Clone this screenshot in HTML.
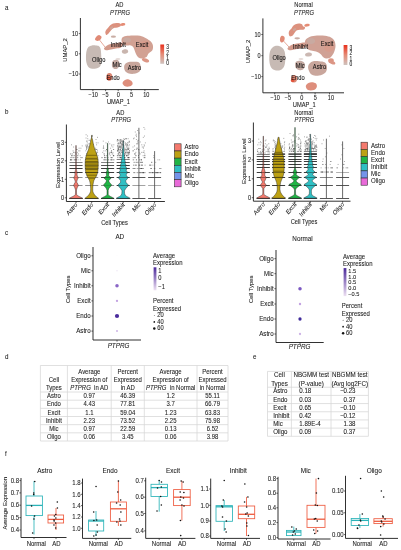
<!DOCTYPE html>
<html><head><meta charset="utf-8"><style>
html,body{margin:0;padding:0;background:#fff;}
svg{display:block;font-family:"Liberation Sans", sans-serif;filter:blur(0.3px);}
text{stroke:#1c1c1c;stroke-width:0.08px;}
</style></head><body>
<svg xmlns="http://www.w3.org/2000/svg" width="401" height="550" viewBox="0 0 401 550">
<rect width="401" height="550" fill="#fff"/>
<defs><linearGradient id="umapgrad" x1="0" y1="0" x2="0" y2="1"><stop offset="0" stop-color="#e8301c"/><stop offset="0.5" stop-color="#e58b76"/><stop offset="1" stop-color="#cfc3bf"/></linearGradient><linearGradient id="dotgrad" x1="0" y1="0" x2="0" y2="1"><stop offset="0" stop-color="#4b2a9a"/><stop offset="1" stop-color="#ede0f2"/></linearGradient></defs>
<text transform="translate(5.00 9.60) scale(0.820 1)" font-size="7.60" text-anchor="start" fill="#1c1c1c" >a</text>
<text transform="translate(5.00 113.80) scale(0.820 1)" font-size="7.60" text-anchor="start" fill="#1c1c1c" >b</text>
<text transform="translate(5.00 235.00) scale(0.820 1)" font-size="7.60" text-anchor="start" fill="#1c1c1c" >c</text>
<text transform="translate(5.00 358.70) scale(0.820 1)" font-size="7.60" text-anchor="start" fill="#1c1c1c" >d</text>
<text transform="translate(253.00 358.80) scale(0.820 1)" font-size="7.60" text-anchor="start" fill="#1c1c1c" >e</text>
<text transform="translate(5.00 455.60) scale(0.820 1)" font-size="7.60" text-anchor="start" fill="#1c1c1c" >f</text>
<text transform="translate(119.50 6.50) scale(0.820 1)" font-size="7.02" text-anchor="middle" fill="#1c1c1c" >AD</text>
<text transform="translate(120.00 15.30) scale(0.820 1)" font-size="7.02" text-anchor="middle" font-style="italic" fill="#1c1c1c" >PTPRG</text>
<g transform="translate(0 0)">
<path d="M88.50,46.80 C89.37,46.03 90.75,45.60 92.00,45.40 C93.25,45.20 94.83,45.47 96.00,45.60 C97.17,45.73 98.23,45.63 99.00,46.20 C99.77,46.77 100.23,47.53 100.60,49.00 C100.97,50.47 101.10,52.83 101.20,55.00 C101.30,57.17 101.40,60.08 101.20,62.00 C101.00,63.92 100.87,65.40 100.00,66.50 C99.13,67.60 97.50,68.25 96.00,68.60 C94.50,68.95 92.33,68.95 91.00,68.60 C89.67,68.25 88.78,67.60 88.00,66.50 C87.22,65.40 86.63,63.92 86.30,62.00 C85.97,60.08 85.92,57.00 86.00,55.00 C86.08,53.00 86.38,51.37 86.80,50.00 C87.22,48.63 87.63,47.57 88.50,46.80Z" fill="#c7bab4" opacity="1"/>
<path d="M106.00,34.80 C105.72,34.33 105.22,32.88 105.30,32.00 C105.38,31.12 105.97,30.30 106.50,29.50 C107.03,28.70 107.83,27.95 108.50,27.20 C109.17,26.45 109.75,25.63 110.50,25.00 C111.25,24.37 112.00,23.75 113.00,23.40 C114.00,23.05 115.42,22.92 116.50,22.90 C117.58,22.88 118.75,22.98 119.50,23.30 C120.25,23.62 120.92,24.25 121.00,24.80 C121.08,25.35 120.58,26.17 120.00,26.60 C119.42,27.03 118.42,27.20 117.50,27.40 C116.58,27.60 115.33,27.57 114.50,27.80 C113.67,28.03 113.17,28.27 112.50,28.80 C111.83,29.33 111.17,30.22 110.50,31.00 C109.83,31.78 109.08,32.87 108.50,33.50 C107.92,34.13 107.42,34.58 107.00,34.80 C106.58,35.02 106.28,35.27 106.00,34.80Z" fill="#dc917e" opacity="1"/>
<ellipse cx="122.8" cy="24.4" rx="2.6" ry="1.4" fill="#e58c75" opacity="1" transform="rotate(-10 122.8 24.4)"/>
<ellipse cx="111.5" cy="28" rx="2.0" ry="1.2" fill="#c9aca2" opacity="0.7" transform="rotate(-40 111.5 28)"/>
<ellipse cx="113.4" cy="36.7" rx="2.6" ry="1.1" fill="#c9ada4" opacity="1" transform="rotate(0 113.4 36.7)"/>
<path d="M95.00,39.50 C94.83,38.75 95.83,37.25 96.50,36.50 C97.17,35.75 98.17,34.95 99.00,35.00 C99.83,35.05 101.25,36.05 101.50,36.80 C101.75,37.55 101.17,38.80 100.50,39.50 C99.83,40.20 98.42,41.00 97.50,41.00 C96.58,41.00 95.17,40.25 95.00,39.50Z" fill="#e08a76" opacity="1"/>
<path d="M99.5,40 L105,47" stroke="#e3a090" stroke-width="0.9"/>
<path d="M104.00,48.50 C104.17,47.72 105.83,46.25 107.00,45.50 C108.17,44.75 109.50,44.38 111.00,44.00 C112.50,43.62 114.33,43.45 116.00,43.20 C117.67,42.95 119.83,42.28 121.00,42.50 C122.17,42.72 123.00,43.67 123.00,44.50 C123.00,45.33 122.17,46.83 121.00,47.50 C119.83,48.17 117.67,48.17 116.00,48.50 C114.33,48.83 112.67,49.22 111.00,49.50 C109.33,49.78 107.17,50.37 106.00,50.20 C104.83,50.03 103.83,49.28 104.00,48.50Z" fill="#d39a8b" opacity="1"/>
<path d="M122.00,38.00 C122.70,37.00 124.17,36.43 126.00,36.00 C127.83,35.57 130.67,35.43 133.00,35.40 C135.33,35.37 137.83,35.32 140.00,35.80 C142.17,36.28 144.17,37.30 146.00,38.30 C147.83,39.30 149.83,40.52 151.00,41.80 C152.17,43.08 152.80,44.55 153.00,46.00 C153.20,47.45 152.95,49.25 152.20,50.50 C151.45,51.75 149.45,52.42 148.50,53.50 C147.55,54.58 147.58,56.17 146.50,57.00 C145.42,57.83 143.33,58.42 142.00,58.50 C140.67,58.58 139.50,58.25 138.50,57.50 C137.50,56.75 136.67,55.25 136.00,54.00 C135.33,52.75 135.00,51.20 134.50,50.00 C134.00,48.80 133.75,47.58 133.00,46.80 C132.25,46.02 131.08,45.52 130.00,45.30 C128.92,45.08 127.58,45.58 126.50,45.50 C125.42,45.42 124.28,45.38 123.50,44.80 C122.72,44.22 122.05,43.13 121.80,42.00 C121.55,40.87 121.30,39.00 122.00,38.00Z" fill="#d2a193" opacity="1"/>
<ellipse cx="145" cy="45" rx="5" ry="4" fill="#dc9a88" opacity="0.6" transform="rotate(0 145 45)"/>
<ellipse cx="127" cy="40" rx="4" ry="2.6" fill="#c6aea6" opacity="0.7" transform="rotate(0 127 40)"/>
<ellipse cx="125" cy="51.5" rx="3.2" ry="2.2" fill="#c9b5ae" opacity="1" transform="rotate(-10 125 51.5)"/>
<ellipse cx="118" cy="59" rx="2.5" ry="0.8" fill="#dccdc8" opacity="1" transform="rotate(0 118 59)"/>
<path d="M112.50,61.50 C113.08,60.47 114.45,59.88 115.50,59.80 C116.55,59.72 118.13,60.13 118.80,61.00 C119.47,61.87 119.72,63.75 119.50,65.00 C119.28,66.25 118.42,67.87 117.50,68.50 C116.58,69.13 114.92,69.22 114.00,68.80 C113.08,68.38 112.25,67.22 112.00,66.00 C111.75,64.78 111.92,62.53 112.50,61.50Z" fill="#c4aaa2" opacity="1"/>
<path d="M124.50,65.00 C125.07,63.70 126.42,62.73 128.00,62.20 C129.58,61.67 132.17,61.75 134.00,61.80 C135.83,61.85 137.90,61.72 139.00,62.50 C140.10,63.28 140.52,65.00 140.60,66.50 C140.68,68.00 140.60,70.28 139.50,71.50 C138.40,72.72 135.92,73.52 134.00,73.80 C132.08,74.08 129.57,73.83 128.00,73.20 C126.43,72.57 125.18,71.37 124.60,70.00 C124.02,68.63 123.93,66.30 124.50,65.00Z" fill="#c9a69c" opacity="1"/>
<ellipse cx="109.4" cy="76.8" rx="3.0" ry="3.9" fill="#d88572" opacity="1" transform="rotate(0 109.4 76.8)"/>
<ellipse cx="108.6" cy="78.2" rx="2.0" ry="2.0" fill="#e2553c" opacity="1" transform="rotate(0 108.6 78.2)"/>
<path d="M122.50,83.00 C122.50,81.95 124.08,80.63 125.00,80.00 C125.92,79.37 126.92,79.03 128.00,79.20 C129.08,79.37 130.73,80.20 131.50,81.00 C132.27,81.80 132.85,83.12 132.60,84.00 C132.35,84.88 131.27,85.92 130.00,86.30 C128.73,86.68 126.25,86.85 125.00,86.30 C123.75,85.75 122.50,84.05 122.50,83.00Z" fill="#de8e7c" opacity="1"/>
<ellipse cx="145.5" cy="60.3" rx="3.8" ry="1.8" fill="#dc9685" opacity="1" transform="rotate(20 145.5 60.3)"/>
</g>
<text transform="translate(92.00 62.00) scale(0.820 1)" font-size="7.02" text-anchor="start" fill="#111" >Oligo</text>
<text transform="translate(110.60 46.80) scale(0.820 1)" font-size="7.02" text-anchor="start" fill="#111" >Inhibit</text>
<text transform="translate(135.80 46.80) scale(0.820 1)" font-size="7.02" text-anchor="start" fill="#111" >Excit</text>
<text transform="translate(112.60 67.20) scale(0.820 1)" font-size="7.02" text-anchor="start" fill="#111" >Mic</text>
<text transform="translate(127.80 70.00) scale(0.820 1)" font-size="7.02" text-anchor="start" fill="#111" >Astro</text>
<text transform="translate(106.40 80.20) scale(0.820 1)" font-size="7.02" text-anchor="start" fill="#111" >Endo</text>
<line x1="80.40" y1="18.00" x2="80.40" y2="89.60" stroke="#1a1a1a" stroke-width="0.9" />
<line x1="80.40" y1="89.60" x2="158.80" y2="89.60" stroke="#1a1a1a" stroke-width="0.9" />
<line x1="78.80" y1="33.60" x2="80.40" y2="33.60" stroke="#222" stroke-width="0.7" />
<text transform="translate(78.20 35.80) scale(0.860 1)" font-size="6.43" text-anchor="end" fill="#1c1c1c" >10</text>
<line x1="78.80" y1="53.80" x2="80.40" y2="53.80" stroke="#222" stroke-width="0.7" />
<text transform="translate(78.20 56.00) scale(0.860 1)" font-size="6.43" text-anchor="end" fill="#1c1c1c" >0</text>
<line x1="78.80" y1="74.00" x2="80.40" y2="74.00" stroke="#222" stroke-width="0.7" />
<text transform="translate(78.20 76.20) scale(0.860 1)" font-size="6.43" text-anchor="end" fill="#1c1c1c" >−10</text>
<line x1="92.90" y1="89.60" x2="92.90" y2="91.20" stroke="#222" stroke-width="0.7" />
<text transform="translate(93.10 97.20) scale(0.860 1)" font-size="6.43" text-anchor="middle" fill="#1c1c1c" >−10</text>
<line x1="105.60" y1="89.60" x2="105.60" y2="91.20" stroke="#222" stroke-width="0.7" />
<text transform="translate(105.50 97.20) scale(0.860 1)" font-size="6.43" text-anchor="middle" fill="#1c1c1c" >−5</text>
<line x1="118.20" y1="89.60" x2="118.20" y2="91.20" stroke="#222" stroke-width="0.7" />
<text transform="translate(118.30 97.20) scale(0.860 1)" font-size="6.43" text-anchor="middle" fill="#1c1c1c" >0</text>
<line x1="131.20" y1="89.60" x2="131.20" y2="91.20" stroke="#222" stroke-width="0.7" />
<text transform="translate(131.50 97.20) scale(0.860 1)" font-size="6.43" text-anchor="middle" fill="#1c1c1c" >5</text>
<line x1="144.90" y1="89.60" x2="144.90" y2="91.20" stroke="#222" stroke-width="0.7" />
<text transform="translate(146.20 97.20) scale(0.860 1)" font-size="6.43" text-anchor="middle" fill="#1c1c1c" >10</text>
<text x="0" y="0" font-size="5.88" text-anchor="middle" fill="#1c1c1c" transform="translate(67.40 50.00) rotate(-90) scale(1 0.87)">UMAP_2</text>
<text transform="translate(118.40 104.20) scale(0.820 1)" font-size="7.02" text-anchor="middle" fill="#1c1c1c" >UMAP_1</text>
<rect x="160.3" y="44.5" width="3.8" height="19.299999999999997" fill="url(#umapgrad)"/>
<text transform="translate(166.30 49.40) scale(0.780 1)" font-size="6.32" text-anchor="start" fill="#1c1c1c" >3</text>
<text transform="translate(166.30 54.70) scale(0.780 1)" font-size="6.32" text-anchor="start" fill="#1c1c1c" >2</text>
<text transform="translate(166.30 60.00) scale(0.780 1)" font-size="6.32" text-anchor="start" fill="#1c1c1c" >1</text>
<text transform="translate(166.30 65.30) scale(0.780 1)" font-size="6.32" text-anchor="start" fill="#1c1c1c" >0</text>
<text transform="translate(303.50 6.50) scale(0.820 1)" font-size="7.02" text-anchor="middle" fill="#1c1c1c" >Normal</text>
<text transform="translate(304.00 15.30) scale(0.820 1)" font-size="7.02" text-anchor="middle" font-style="italic" fill="#1c1c1c" >PTPRG</text>
<g transform="translate(0 0)">
<path d="M275.00,46.00 C276.17,45.67 277.75,45.67 279.00,46.00 C280.25,46.33 281.57,47.08 282.50,48.00 C283.43,48.92 284.13,50.00 284.60,51.50 C285.07,53.00 285.23,55.08 285.30,57.00 C285.37,58.92 285.30,61.25 285.00,63.00 C284.70,64.75 284.33,66.30 283.50,67.50 C282.67,68.70 281.42,69.75 280.00,70.20 C278.58,70.65 276.42,70.57 275.00,70.20 C273.58,69.83 272.40,69.20 271.50,68.00 C270.60,66.80 269.97,64.83 269.60,63.00 C269.23,61.17 269.23,58.92 269.30,57.00 C269.37,55.08 269.55,53.00 270.00,51.50 C270.45,50.00 271.17,48.92 272.00,48.00 C272.83,47.08 273.83,46.33 275.00,46.00Z" fill="#c7bab4" opacity="1"/>
<path d="M289.50,36.00 C289.12,35.45 288.70,33.92 288.70,33.00 C288.70,32.08 289.03,31.25 289.50,30.50 C289.97,29.75 290.92,29.25 291.50,28.50 C292.08,27.75 292.33,26.72 293.00,26.00 C293.67,25.28 294.50,24.60 295.50,24.20 C296.50,23.80 297.92,23.58 299.00,23.60 C300.08,23.62 301.33,23.85 302.00,24.30 C302.67,24.75 302.50,25.80 303.00,26.30 C303.50,26.80 304.83,26.77 305.00,27.30 C305.17,27.83 304.83,29.08 304.00,29.50 C303.17,29.92 301.17,29.67 300.00,29.80 C298.83,29.93 297.83,29.90 297.00,30.30 C296.17,30.70 295.67,31.38 295.00,32.20 C294.33,33.02 293.67,34.52 293.00,35.20 C292.33,35.88 291.58,36.17 291.00,36.30 C290.42,36.43 289.88,36.55 289.50,36.00Z" fill="#dc917e" opacity="1"/>
<ellipse cx="307" cy="25.2" rx="2.8" ry="1.4" fill="#e58c75" opacity="1" transform="rotate(-10 307 25.2)"/>
<ellipse cx="294.5" cy="29.5" rx="1.8" ry="1.2" fill="#c9aca2" opacity="0.7" transform="rotate(-40 294.5 29.5)"/>
<ellipse cx="297.2" cy="38.3" rx="2.8" ry="1.1" fill="#c9ada4" opacity="1" transform="rotate(0 297.2 38.3)"/>
<path d="M280.00,40.50 C279.83,39.58 280.08,37.78 280.50,37.00 C280.92,36.22 281.82,35.72 282.50,35.80 C283.18,35.88 284.35,36.63 284.60,37.50 C284.85,38.37 284.52,40.17 284.00,41.00 C283.48,41.83 282.17,42.58 281.50,42.50 C280.83,42.42 280.17,41.42 280.00,40.50Z" fill="#e08a76" opacity="1"/>
<path d="M283.5,41 L289,47" stroke="#e3a090" stroke-width="0.9"/>
<path d="M287.50,48.50 C287.67,47.72 289.33,46.25 290.50,45.50 C291.67,44.75 293.00,44.38 294.50,44.00 C296.00,43.62 297.83,43.45 299.50,43.20 C301.17,42.95 303.33,42.28 304.50,42.50 C305.67,42.72 306.50,43.67 306.50,44.50 C306.50,45.33 305.67,46.83 304.50,47.50 C303.33,48.17 301.17,48.17 299.50,48.50 C297.83,48.83 296.17,49.22 294.50,49.50 C292.83,49.78 290.67,50.37 289.50,50.20 C288.33,50.03 287.33,49.28 287.50,48.50Z" fill="#d39a8b" opacity="1"/>
<path d="M305.50,40.00 C306.33,38.80 308.08,37.53 310.00,36.80 C311.92,36.07 314.50,35.77 317.00,35.60 C319.50,35.43 322.67,35.48 325.00,35.80 C327.33,36.12 329.42,36.63 331.00,37.50 C332.58,38.37 333.75,39.58 334.50,41.00 C335.25,42.42 335.50,44.33 335.50,46.00 C335.50,47.67 335.00,49.50 334.50,51.00 C334.00,52.50 333.25,53.87 332.50,55.00 C331.75,56.13 331.08,57.22 330.00,57.80 C328.92,58.38 327.17,58.63 326.00,58.50 C324.83,58.37 323.92,57.75 323.00,57.00 C322.08,56.25 321.67,54.92 320.50,54.00 C319.33,53.08 317.58,52.08 316.00,51.50 C314.42,50.92 312.50,51.00 311.00,50.50 C309.50,50.00 308.00,49.58 307.00,48.50 C306.00,47.42 305.25,45.42 305.00,44.00 C304.75,42.58 304.67,41.20 305.50,40.00Z" fill="#d0a195" opacity="1"/>
<ellipse cx="331" cy="60.5" rx="2.8" ry="2.2" fill="#dc9482" opacity="1" transform="rotate(0 331 60.5)"/>
<ellipse cx="329" cy="47" rx="5" ry="5" fill="#dc9a88" opacity="0.6" transform="rotate(0 329 47)"/>
<ellipse cx="311" cy="41" rx="4" ry="3" fill="#c6aea6" opacity="0.7" transform="rotate(0 311 41)"/>
<ellipse cx="308.5" cy="54.5" rx="3.5" ry="2" fill="#cbb8b2" opacity="1" transform="rotate(-10 308.5 54.5)"/>
<ellipse cx="301" cy="59" rx="2.5" ry="0.8" fill="#dccdc8" opacity="1" transform="rotate(0 301 59)"/>
<path d="M295.50,62.50 C296.08,61.38 297.67,60.88 299.00,60.80 C300.33,60.72 302.50,61.22 303.50,62.00 C304.50,62.78 305.08,64.25 305.00,65.50 C304.92,66.75 304.00,68.75 303.00,69.50 C302.00,70.25 300.25,70.33 299.00,70.00 C297.75,69.67 296.08,68.75 295.50,67.50 C294.92,66.25 294.92,63.62 295.50,62.50Z" fill="#c4aaa2" opacity="1"/>
<path d="M308.50,65.00 C309.15,63.58 310.75,62.13 312.50,61.50 C314.25,60.87 316.92,61.03 319.00,61.20 C321.08,61.37 323.67,61.53 325.00,62.50 C326.33,63.47 326.92,65.33 327.00,67.00 C327.08,68.67 326.83,71.07 325.50,72.50 C324.17,73.93 321.25,75.22 319.00,75.60 C316.75,75.98 313.73,75.73 312.00,74.80 C310.27,73.87 309.18,71.63 308.60,70.00 C308.02,68.37 307.85,66.42 308.50,65.00Z" fill="#c9a69c" opacity="1"/>
<ellipse cx="294" cy="78.8" rx="3.0" ry="3.8" fill="#d88572" opacity="1" transform="rotate(0 294 78.8)"/>
<ellipse cx="292.6" cy="80.5" rx="1.8" ry="1.8" fill="#e2553c" opacity="1" transform="rotate(0 292.6 80.5)"/>
<path d="M305.80,86.00 C305.88,84.83 307.47,83.63 308.50,83.00 C309.53,82.37 310.75,82.12 312.00,82.20 C313.25,82.28 315.20,82.70 316.00,83.50 C316.80,84.30 317.13,85.92 316.80,87.00 C316.47,88.08 315.47,89.50 314.00,90.00 C312.53,90.50 309.37,90.67 308.00,90.00 C306.63,89.33 305.72,87.17 305.80,86.00Z" fill="#de8e7c" opacity="1"/>
<ellipse cx="332" cy="62.5" rx="3.5" ry="1.6" fill="#dc9685" opacity="1" transform="rotate(20 332 62.5)"/>
</g>
<text transform="translate(272.40 60.00) scale(0.820 1)" font-size="7.02" text-anchor="start" fill="#111" >Oligo</text>
<text transform="translate(292.80 48.60) scale(0.820 1)" font-size="7.02" text-anchor="start" fill="#111" >Inhibit</text>
<text transform="translate(320.80 46.30) scale(0.820 1)" font-size="7.02" text-anchor="start" fill="#111" >Excit</text>
<text transform="translate(295.80 67.60) scale(0.820 1)" font-size="7.02" text-anchor="start" fill="#111" >Mic</text>
<text transform="translate(312.80 69.00) scale(0.820 1)" font-size="7.02" text-anchor="start" fill="#111" >Astro</text>
<text transform="translate(291.20 80.20) scale(0.820 1)" font-size="7.02" text-anchor="start" fill="#111" >Endo</text>
<line x1="262.90" y1="18.40" x2="262.90" y2="92.80" stroke="#1a1a1a" stroke-width="0.9" />
<line x1="262.90" y1="92.80" x2="344.00" y2="92.80" stroke="#1a1a1a" stroke-width="0.9" />
<line x1="261.30" y1="34.50" x2="262.90" y2="34.50" stroke="#222" stroke-width="0.7" />
<text transform="translate(260.70 36.70) scale(0.860 1)" font-size="6.43" text-anchor="end" fill="#1c1c1c" >10</text>
<line x1="261.30" y1="55.70" x2="262.90" y2="55.70" stroke="#222" stroke-width="0.7" />
<text transform="translate(260.70 57.90) scale(0.860 1)" font-size="6.43" text-anchor="end" fill="#1c1c1c" >0</text>
<line x1="261.30" y1="76.60" x2="262.90" y2="76.60" stroke="#222" stroke-width="0.7" />
<text transform="translate(260.70 78.80) scale(0.860 1)" font-size="6.43" text-anchor="end" fill="#1c1c1c" >−10</text>
<line x1="274.70" y1="92.80" x2="274.70" y2="94.40" stroke="#222" stroke-width="0.7" />
<text transform="translate(275.10 100.40) scale(0.860 1)" font-size="6.43" text-anchor="middle" fill="#1c1c1c" >−10</text>
<line x1="288.40" y1="92.80" x2="288.40" y2="94.40" stroke="#222" stroke-width="0.7" />
<text transform="translate(287.90 100.40) scale(0.860 1)" font-size="6.43" text-anchor="middle" fill="#1c1c1c" >−5</text>
<line x1="301.80" y1="92.80" x2="301.80" y2="94.40" stroke="#222" stroke-width="0.7" />
<text transform="translate(301.90 100.40) scale(0.860 1)" font-size="6.43" text-anchor="middle" fill="#1c1c1c" >0</text>
<line x1="315.10" y1="92.80" x2="315.10" y2="94.40" stroke="#222" stroke-width="0.7" />
<text transform="translate(315.20 100.40) scale(0.860 1)" font-size="6.43" text-anchor="middle" fill="#1c1c1c" >5</text>
<line x1="329.50" y1="92.80" x2="329.50" y2="94.40" stroke="#222" stroke-width="0.7" />
<text transform="translate(330.90 100.40) scale(0.860 1)" font-size="6.43" text-anchor="middle" fill="#1c1c1c" >10</text>
<text x="0" y="0" font-size="5.88" text-anchor="middle" fill="#1c1c1c" transform="translate(249.50 51.40) rotate(-90) scale(1 0.87)">UMAP_2</text>
<text transform="translate(304.30 106.60) scale(0.820 1)" font-size="7.02" text-anchor="middle" fill="#1c1c1c" >UMAP_1</text>
<rect x="343.6" y="45" width="3.8" height="20" fill="url(#umapgrad)"/>
<text transform="translate(349.60 49.90) scale(0.780 1)" font-size="6.32" text-anchor="start" fill="#1c1c1c" >3</text>
<text transform="translate(349.60 55.20) scale(0.780 1)" font-size="6.32" text-anchor="start" fill="#1c1c1c" >2</text>
<text transform="translate(349.60 60.50) scale(0.780 1)" font-size="6.32" text-anchor="start" fill="#1c1c1c" >1</text>
<text transform="translate(349.60 65.80) scale(0.780 1)" font-size="6.32" text-anchor="start" fill="#1c1c1c" >0</text>
<text transform="translate(120.30 114.80) scale(0.820 1)" font-size="7.02" text-anchor="middle" fill="#1c1c1c" >AD</text>
<text transform="translate(121.10 121.60) scale(0.820 1)" font-size="7.02" text-anchor="middle" font-style="italic" fill="#1c1c1c" >PTPRG</text>
<line x1="69.50" y1="198.50" x2="82.50" y2="198.50" stroke="#1a1a1a" stroke-width="1" opacity="0.74"/>
<line x1="69.50" y1="185.50" x2="82.50" y2="185.50" stroke="#1a1a1a" stroke-width="1" opacity="0.3625"/>
<line x1="69.50" y1="177.50" x2="82.50" y2="177.50" stroke="#1a1a1a" stroke-width="1" opacity="0.3625"/>
<line x1="69.50" y1="172.50" x2="82.50" y2="172.50" stroke="#1a1a1a" stroke-width="1" opacity="0.74"/>
<line x1="69.50" y1="168.50" x2="82.50" y2="168.50" stroke="#1a1a1a" stroke-width="1" opacity="0.74"/>
<line x1="69.50" y1="165.50" x2="82.50" y2="165.50" stroke="#1a1a1a" stroke-width="1" opacity="0.5875"/>
<line x1="69.50" y1="162.50" x2="82.50" y2="162.50" stroke="#1a1a1a" stroke-width="1" opacity="0.4"/>
<rect x="73.62" y="159.38" width="0.9" height="0.9" fill="#333" opacity="0.5"/>
<rect x="71.47" y="159.38" width="0.9" height="0.9" fill="#333" opacity="0.5"/>
<rect x="77.67" y="159.38" width="0.9" height="0.9" fill="#333" opacity="0.5"/>
<rect x="70.50" y="159.38" width="0.9" height="0.9" fill="#333" opacity="0.5"/>
<rect x="76.24" y="159.38" width="0.9" height="0.9" fill="#333" opacity="0.5"/>
<rect x="74.13" y="159.38" width="0.9" height="0.9" fill="#333" opacity="0.5"/>
<rect x="70.32" y="159.38" width="0.9" height="0.9" fill="#333" opacity="0.5"/>
<rect x="75.89" y="159.38" width="0.9" height="0.9" fill="#333" opacity="0.5"/>
<rect x="70.06" y="159.38" width="0.9" height="0.9" fill="#333" opacity="0.5"/>
<rect x="74.98" y="159.38" width="0.9" height="0.9" fill="#333" opacity="0.5"/>
<rect x="70.47" y="159.38" width="0.9" height="0.9" fill="#333" opacity="0.5"/>
<rect x="70.72" y="159.38" width="0.9" height="0.9" fill="#333" opacity="0.5"/>
<rect x="74.86" y="159.38" width="0.9" height="0.9" fill="#333" opacity="0.5"/>
<rect x="79.85" y="159.38" width="0.9" height="0.9" fill="#333" opacity="0.5"/>
<rect x="71.14" y="157.20" width="0.9" height="0.9" fill="#333" opacity="0.5"/>
<rect x="72.37" y="157.20" width="0.9" height="0.9" fill="#333" opacity="0.5"/>
<rect x="77.38" y="157.20" width="0.9" height="0.9" fill="#333" opacity="0.5"/>
<rect x="81.35" y="157.20" width="0.9" height="0.9" fill="#333" opacity="0.5"/>
<rect x="76.76" y="157.20" width="0.9" height="0.9" fill="#333" opacity="0.5"/>
<rect x="74.52" y="157.20" width="0.9" height="0.9" fill="#333" opacity="0.5"/>
<rect x="81.71" y="157.20" width="0.9" height="0.9" fill="#333" opacity="0.5"/>
<rect x="70.18" y="157.20" width="0.9" height="0.9" fill="#333" opacity="0.5"/>
<rect x="80.25" y="157.20" width="0.9" height="0.9" fill="#333" opacity="0.5"/>
<rect x="73.19" y="157.20" width="0.9" height="0.9" fill="#333" opacity="0.5"/>
<rect x="71.39" y="155.25" width="0.9" height="0.9" fill="#333" opacity="0.5"/>
<rect x="71.06" y="155.25" width="0.9" height="0.9" fill="#333" opacity="0.5"/>
<rect x="73.43" y="155.25" width="0.9" height="0.9" fill="#333" opacity="0.5"/>
<rect x="79.72" y="155.25" width="0.9" height="0.9" fill="#333" opacity="0.5"/>
<rect x="71.84" y="155.25" width="0.9" height="0.9" fill="#333" opacity="0.5"/>
<rect x="76.81" y="155.25" width="0.9" height="0.9" fill="#333" opacity="0.5"/>
<rect x="77.52" y="155.25" width="0.9" height="0.9" fill="#333" opacity="0.5"/>
<rect x="74.22" y="155.25" width="0.9" height="0.9" fill="#333" opacity="0.5"/>
<rect x="76.39" y="153.49" width="0.9" height="0.9" fill="#333" opacity="0.5"/>
<rect x="70.38" y="153.49" width="0.9" height="0.9" fill="#333" opacity="0.5"/>
<rect x="70.34" y="153.49" width="0.9" height="0.9" fill="#333" opacity="0.5"/>
<rect x="72.15" y="153.49" width="0.9" height="0.9" fill="#333" opacity="0.5"/>
<rect x="78.04" y="153.49" width="0.9" height="0.9" fill="#333" opacity="0.5"/>
<rect x="74.90" y="153.49" width="0.9" height="0.9" fill="#333" opacity="0.5"/>
<rect x="73.50" y="151.88" width="0.9" height="0.9" fill="#333" opacity="0.5"/>
<rect x="76.86" y="151.88" width="0.9" height="0.9" fill="#333" opacity="0.5"/>
<rect x="75.22" y="151.88" width="0.9" height="0.9" fill="#333" opacity="0.5"/>
<rect x="73.32" y="151.88" width="0.9" height="0.9" fill="#333" opacity="0.5"/>
<rect x="79.45" y="150.40" width="0.9" height="0.9" fill="#333" opacity="0.5"/>
<rect x="78.27" y="150.40" width="0.9" height="0.9" fill="#333" opacity="0.5"/>
<rect x="72.63" y="150.40" width="0.9" height="0.9" fill="#333" opacity="0.5"/>
<rect x="76.72" y="149.03" width="0.9" height="0.9" fill="#333" opacity="0.5"/>
<rect x="76.11" y="149.03" width="0.9" height="0.9" fill="#333" opacity="0.5"/>
<rect x="80.45" y="147.75" width="0.9" height="0.9" fill="#333" opacity="0.5"/>
<rect x="78.65" y="147.75" width="0.9" height="0.9" fill="#333" opacity="0.5"/>
<rect x="73.17" y="146.56" width="0.9" height="0.9" fill="#333" opacity="0.5"/>
<rect x="81.75" y="145.44" width="0.9" height="0.9" fill="#333" opacity="0.5"/>
<rect x="71.06" y="144.38" width="0.9" height="0.9" fill="#333" opacity="0.5"/>
<line x1="85.20" y1="198.50" x2="98.20" y2="198.50" stroke="#1a1a1a" stroke-width="1" opacity="0.74"/>
<line x1="85.20" y1="185.50" x2="98.20" y2="185.50" stroke="#1a1a1a" stroke-width="1" opacity="0.3625"/>
<line x1="85.20" y1="177.50" x2="98.20" y2="177.50" stroke="#1a1a1a" stroke-width="1" opacity="0.3625"/>
<line x1="85.20" y1="172.50" x2="98.20" y2="172.50" stroke="#1a1a1a" stroke-width="1" opacity="0.74"/>
<line x1="85.20" y1="168.50" x2="98.20" y2="168.50" stroke="#1a1a1a" stroke-width="1" opacity="0.74"/>
<line x1="85.20" y1="165.50" x2="98.20" y2="165.50" stroke="#1a1a1a" stroke-width="1" opacity="0.74"/>
<line x1="85.20" y1="162.50" x2="98.20" y2="162.50" stroke="#1a1a1a" stroke-width="1" opacity="0.5875"/>
<line x1="85.20" y1="159.50" x2="98.20" y2="159.50" stroke="#1a1a1a" stroke-width="1" opacity="0.4"/>
<rect x="90.48" y="157.20" width="0.9" height="0.9" fill="#333" opacity="0.5"/>
<rect x="94.69" y="157.20" width="0.9" height="0.9" fill="#333" opacity="0.5"/>
<rect x="87.18" y="157.20" width="0.9" height="0.9" fill="#333" opacity="0.5"/>
<rect x="91.36" y="157.20" width="0.9" height="0.9" fill="#333" opacity="0.5"/>
<rect x="85.79" y="157.20" width="0.9" height="0.9" fill="#333" opacity="0.5"/>
<rect x="93.59" y="157.20" width="0.9" height="0.9" fill="#333" opacity="0.5"/>
<rect x="94.78" y="157.20" width="0.9" height="0.9" fill="#333" opacity="0.5"/>
<rect x="92.41" y="157.20" width="0.9" height="0.9" fill="#333" opacity="0.5"/>
<rect x="96.16" y="157.20" width="0.9" height="0.9" fill="#333" opacity="0.5"/>
<rect x="89.19" y="157.20" width="0.9" height="0.9" fill="#333" opacity="0.5"/>
<rect x="93.92" y="157.20" width="0.9" height="0.9" fill="#333" opacity="0.5"/>
<rect x="92.67" y="157.20" width="0.9" height="0.9" fill="#333" opacity="0.5"/>
<rect x="92.49" y="157.20" width="0.9" height="0.9" fill="#333" opacity="0.5"/>
<rect x="90.96" y="157.20" width="0.9" height="0.9" fill="#333" opacity="0.5"/>
<rect x="95.72" y="157.20" width="0.9" height="0.9" fill="#333" opacity="0.5"/>
<rect x="97.01" y="157.20" width="0.9" height="0.9" fill="#333" opacity="0.5"/>
<rect x="91.18" y="155.25" width="0.9" height="0.9" fill="#333" opacity="0.5"/>
<rect x="93.54" y="155.25" width="0.9" height="0.9" fill="#333" opacity="0.5"/>
<rect x="86.05" y="155.25" width="0.9" height="0.9" fill="#333" opacity="0.5"/>
<rect x="94.00" y="155.25" width="0.9" height="0.9" fill="#333" opacity="0.5"/>
<rect x="93.32" y="155.25" width="0.9" height="0.9" fill="#333" opacity="0.5"/>
<rect x="97.61" y="155.25" width="0.9" height="0.9" fill="#333" opacity="0.5"/>
<rect x="95.49" y="155.25" width="0.9" height="0.9" fill="#333" opacity="0.5"/>
<rect x="88.83" y="155.25" width="0.9" height="0.9" fill="#333" opacity="0.5"/>
<rect x="90.08" y="155.25" width="0.9" height="0.9" fill="#333" opacity="0.5"/>
<rect x="93.59" y="155.25" width="0.9" height="0.9" fill="#333" opacity="0.5"/>
<rect x="85.58" y="155.25" width="0.9" height="0.9" fill="#333" opacity="0.5"/>
<rect x="91.03" y="155.25" width="0.9" height="0.9" fill="#333" opacity="0.5"/>
<rect x="87.38" y="155.25" width="0.9" height="0.9" fill="#333" opacity="0.5"/>
<rect x="86.75" y="155.25" width="0.9" height="0.9" fill="#333" opacity="0.5"/>
<rect x="86.03" y="153.49" width="0.9" height="0.9" fill="#333" opacity="0.5"/>
<rect x="94.83" y="153.49" width="0.9" height="0.9" fill="#333" opacity="0.5"/>
<rect x="86.90" y="153.49" width="0.9" height="0.9" fill="#333" opacity="0.5"/>
<rect x="88.37" y="153.49" width="0.9" height="0.9" fill="#333" opacity="0.5"/>
<rect x="90.15" y="153.49" width="0.9" height="0.9" fill="#333" opacity="0.5"/>
<rect x="96.11" y="153.49" width="0.9" height="0.9" fill="#333" opacity="0.5"/>
<rect x="86.30" y="153.49" width="0.9" height="0.9" fill="#333" opacity="0.5"/>
<rect x="90.87" y="153.49" width="0.9" height="0.9" fill="#333" opacity="0.5"/>
<rect x="92.11" y="153.49" width="0.9" height="0.9" fill="#333" opacity="0.5"/>
<rect x="96.25" y="153.49" width="0.9" height="0.9" fill="#333" opacity="0.5"/>
<rect x="95.46" y="153.49" width="0.9" height="0.9" fill="#333" opacity="0.5"/>
<rect x="96.01" y="153.49" width="0.9" height="0.9" fill="#333" opacity="0.5"/>
<rect x="88.75" y="151.88" width="0.9" height="0.9" fill="#333" opacity="0.5"/>
<rect x="90.45" y="151.88" width="0.9" height="0.9" fill="#333" opacity="0.5"/>
<rect x="89.75" y="151.88" width="0.9" height="0.9" fill="#333" opacity="0.5"/>
<rect x="96.26" y="151.88" width="0.9" height="0.9" fill="#333" opacity="0.5"/>
<rect x="97.18" y="151.88" width="0.9" height="0.9" fill="#333" opacity="0.5"/>
<rect x="87.17" y="151.88" width="0.9" height="0.9" fill="#333" opacity="0.5"/>
<rect x="87.49" y="151.88" width="0.9" height="0.9" fill="#333" opacity="0.5"/>
<rect x="88.18" y="151.88" width="0.9" height="0.9" fill="#333" opacity="0.5"/>
<rect x="88.19" y="151.88" width="0.9" height="0.9" fill="#333" opacity="0.5"/>
<rect x="91.31" y="151.88" width="0.9" height="0.9" fill="#333" opacity="0.5"/>
<rect x="92.61" y="150.40" width="0.9" height="0.9" fill="#333" opacity="0.5"/>
<rect x="88.56" y="150.40" width="0.9" height="0.9" fill="#333" opacity="0.5"/>
<rect x="85.35" y="150.40" width="0.9" height="0.9" fill="#333" opacity="0.5"/>
<rect x="90.49" y="150.40" width="0.9" height="0.9" fill="#333" opacity="0.5"/>
<rect x="89.88" y="150.40" width="0.9" height="0.9" fill="#333" opacity="0.5"/>
<rect x="92.32" y="150.40" width="0.9" height="0.9" fill="#333" opacity="0.5"/>
<rect x="97.12" y="150.40" width="0.9" height="0.9" fill="#333" opacity="0.5"/>
<rect x="93.86" y="150.40" width="0.9" height="0.9" fill="#333" opacity="0.5"/>
<rect x="91.69" y="149.03" width="0.9" height="0.9" fill="#333" opacity="0.5"/>
<rect x="92.96" y="149.03" width="0.9" height="0.9" fill="#333" opacity="0.5"/>
<rect x="93.68" y="149.03" width="0.9" height="0.9" fill="#333" opacity="0.5"/>
<rect x="85.97" y="149.03" width="0.9" height="0.9" fill="#333" opacity="0.5"/>
<rect x="96.45" y="149.03" width="0.9" height="0.9" fill="#333" opacity="0.5"/>
<rect x="94.97" y="149.03" width="0.9" height="0.9" fill="#333" opacity="0.5"/>
<rect x="96.14" y="149.03" width="0.9" height="0.9" fill="#333" opacity="0.5"/>
<rect x="95.19" y="147.75" width="0.9" height="0.9" fill="#333" opacity="0.5"/>
<rect x="90.17" y="147.75" width="0.9" height="0.9" fill="#333" opacity="0.5"/>
<rect x="90.25" y="147.75" width="0.9" height="0.9" fill="#333" opacity="0.5"/>
<rect x="86.58" y="147.75" width="0.9" height="0.9" fill="#333" opacity="0.5"/>
<rect x="93.17" y="147.75" width="0.9" height="0.9" fill="#333" opacity="0.5"/>
<rect x="86.07" y="147.75" width="0.9" height="0.9" fill="#333" opacity="0.5"/>
<rect x="86.14" y="146.56" width="0.9" height="0.9" fill="#333" opacity="0.5"/>
<rect x="87.89" y="146.56" width="0.9" height="0.9" fill="#333" opacity="0.5"/>
<rect x="87.31" y="146.56" width="0.9" height="0.9" fill="#333" opacity="0.5"/>
<rect x="89.52" y="146.56" width="0.9" height="0.9" fill="#333" opacity="0.5"/>
<rect x="85.95" y="146.56" width="0.9" height="0.9" fill="#333" opacity="0.5"/>
<rect x="85.30" y="145.44" width="0.9" height="0.9" fill="#333" opacity="0.5"/>
<rect x="87.18" y="145.44" width="0.9" height="0.9" fill="#333" opacity="0.5"/>
<rect x="86.56" y="145.44" width="0.9" height="0.9" fill="#333" opacity="0.5"/>
<rect x="89.81" y="145.44" width="0.9" height="0.9" fill="#333" opacity="0.5"/>
<rect x="85.62" y="144.38" width="0.9" height="0.9" fill="#333" opacity="0.5"/>
<rect x="96.14" y="144.38" width="0.9" height="0.9" fill="#333" opacity="0.5"/>
<rect x="92.91" y="144.38" width="0.9" height="0.9" fill="#333" opacity="0.5"/>
<rect x="87.14" y="144.38" width="0.9" height="0.9" fill="#333" opacity="0.5"/>
<rect x="88.43" y="143.38" width="0.9" height="0.9" fill="#333" opacity="0.5"/>
<rect x="89.61" y="143.38" width="0.9" height="0.9" fill="#333" opacity="0.5"/>
<rect x="89.82" y="143.38" width="0.9" height="0.9" fill="#333" opacity="0.5"/>
<rect x="86.82" y="142.43" width="0.9" height="0.9" fill="#333" opacity="0.5"/>
<rect x="95.83" y="142.43" width="0.9" height="0.9" fill="#333" opacity="0.5"/>
<rect x="97.61" y="142.43" width="0.9" height="0.9" fill="#333" opacity="0.5"/>
<rect x="91.08" y="141.53" width="0.9" height="0.9" fill="#333" opacity="0.5"/>
<rect x="91.30" y="141.53" width="0.9" height="0.9" fill="#333" opacity="0.5"/>
<rect x="86.36" y="140.67" width="0.9" height="0.9" fill="#333" opacity="0.5"/>
<rect x="86.57" y="140.67" width="0.9" height="0.9" fill="#333" opacity="0.5"/>
<rect x="89.55" y="139.84" width="0.9" height="0.9" fill="#333" opacity="0.5"/>
<rect x="88.58" y="139.84" width="0.9" height="0.9" fill="#333" opacity="0.5"/>
<rect x="95.58" y="139.06" width="0.9" height="0.9" fill="#333" opacity="0.5"/>
<rect x="87.30" y="138.30" width="0.9" height="0.9" fill="#333" opacity="0.5"/>
<rect x="85.59" y="137.58" width="0.9" height="0.9" fill="#333" opacity="0.5"/>
<rect x="97.09" y="136.88" width="0.9" height="0.9" fill="#333" opacity="0.5"/>
<rect x="91.85" y="136.20" width="0.9" height="0.9" fill="#333" opacity="0.5"/>
<rect x="87.12" y="135.56" width="0.9" height="0.9" fill="#333" opacity="0.5"/>
<rect x="92.04" y="134.93" width="0.9" height="0.9" fill="#333" opacity="0.5"/>
<rect x="85.64" y="134.32" width="0.9" height="0.9" fill="#333" opacity="0.5"/>
<line x1="101.10" y1="198.50" x2="114.10" y2="198.50" stroke="#1a1a1a" stroke-width="1" opacity="0.74"/>
<line x1="101.10" y1="185.50" x2="114.10" y2="185.50" stroke="#1a1a1a" stroke-width="1" opacity="0.3625"/>
<line x1="101.10" y1="177.50" x2="114.10" y2="177.50" stroke="#1a1a1a" stroke-width="1" opacity="0.74"/>
<line x1="101.10" y1="172.50" x2="114.10" y2="172.50" stroke="#1a1a1a" stroke-width="1" opacity="0.74"/>
<line x1="101.10" y1="168.50" x2="114.10" y2="168.50" stroke="#1a1a1a" stroke-width="1" opacity="0.74"/>
<line x1="101.10" y1="165.50" x2="114.10" y2="165.50" stroke="#1a1a1a" stroke-width="1" opacity="0.5875"/>
<line x1="101.10" y1="162.50" x2="114.10" y2="162.50" stroke="#1a1a1a" stroke-width="1" opacity="0.4"/>
<rect x="107.75" y="159.38" width="0.9" height="0.9" fill="#333" opacity="0.5"/>
<rect x="113.33" y="159.38" width="0.9" height="0.9" fill="#333" opacity="0.5"/>
<rect x="111.91" y="159.38" width="0.9" height="0.9" fill="#333" opacity="0.5"/>
<rect x="109.83" y="159.38" width="0.9" height="0.9" fill="#333" opacity="0.5"/>
<rect x="104.44" y="159.38" width="0.9" height="0.9" fill="#333" opacity="0.5"/>
<rect x="105.75" y="159.38" width="0.9" height="0.9" fill="#333" opacity="0.5"/>
<rect x="103.27" y="159.38" width="0.9" height="0.9" fill="#333" opacity="0.5"/>
<rect x="110.77" y="159.38" width="0.9" height="0.9" fill="#333" opacity="0.5"/>
<rect x="107.80" y="159.38" width="0.9" height="0.9" fill="#333" opacity="0.5"/>
<rect x="110.86" y="159.38" width="0.9" height="0.9" fill="#333" opacity="0.5"/>
<rect x="105.29" y="159.38" width="0.9" height="0.9" fill="#333" opacity="0.5"/>
<rect x="103.97" y="159.38" width="0.9" height="0.9" fill="#333" opacity="0.5"/>
<rect x="111.26" y="159.38" width="0.9" height="0.9" fill="#333" opacity="0.5"/>
<rect x="113.41" y="159.38" width="0.9" height="0.9" fill="#333" opacity="0.5"/>
<rect x="111.77" y="157.20" width="0.9" height="0.9" fill="#333" opacity="0.5"/>
<rect x="111.20" y="157.20" width="0.9" height="0.9" fill="#333" opacity="0.5"/>
<rect x="111.35" y="157.20" width="0.9" height="0.9" fill="#333" opacity="0.5"/>
<rect x="110.37" y="157.20" width="0.9" height="0.9" fill="#333" opacity="0.5"/>
<rect x="104.01" y="157.20" width="0.9" height="0.9" fill="#333" opacity="0.5"/>
<rect x="107.62" y="157.20" width="0.9" height="0.9" fill="#333" opacity="0.5"/>
<rect x="105.61" y="157.20" width="0.9" height="0.9" fill="#333" opacity="0.5"/>
<rect x="101.56" y="157.20" width="0.9" height="0.9" fill="#333" opacity="0.5"/>
<rect x="101.55" y="157.20" width="0.9" height="0.9" fill="#333" opacity="0.5"/>
<rect x="104.66" y="157.20" width="0.9" height="0.9" fill="#333" opacity="0.5"/>
<rect x="104.41" y="157.20" width="0.9" height="0.9" fill="#333" opacity="0.5"/>
<rect x="109.79" y="155.25" width="0.9" height="0.9" fill="#333" opacity="0.5"/>
<rect x="113.06" y="155.25" width="0.9" height="0.9" fill="#333" opacity="0.5"/>
<rect x="106.75" y="155.25" width="0.9" height="0.9" fill="#333" opacity="0.5"/>
<rect x="112.82" y="155.25" width="0.9" height="0.9" fill="#333" opacity="0.5"/>
<rect x="113.45" y="155.25" width="0.9" height="0.9" fill="#333" opacity="0.5"/>
<rect x="113.04" y="155.25" width="0.9" height="0.9" fill="#333" opacity="0.5"/>
<rect x="105.72" y="155.25" width="0.9" height="0.9" fill="#333" opacity="0.5"/>
<rect x="103.93" y="155.25" width="0.9" height="0.9" fill="#333" opacity="0.5"/>
<rect x="104.01" y="155.25" width="0.9" height="0.9" fill="#333" opacity="0.5"/>
<rect x="103.64" y="153.49" width="0.9" height="0.9" fill="#333" opacity="0.5"/>
<rect x="103.73" y="153.49" width="0.9" height="0.9" fill="#333" opacity="0.5"/>
<rect x="108.94" y="153.49" width="0.9" height="0.9" fill="#333" opacity="0.5"/>
<rect x="112.36" y="153.49" width="0.9" height="0.9" fill="#333" opacity="0.5"/>
<rect x="111.62" y="153.49" width="0.9" height="0.9" fill="#333" opacity="0.5"/>
<rect x="107.15" y="153.49" width="0.9" height="0.9" fill="#333" opacity="0.5"/>
<rect x="109.30" y="153.49" width="0.9" height="0.9" fill="#333" opacity="0.5"/>
<rect x="111.12" y="151.88" width="0.9" height="0.9" fill="#333" opacity="0.5"/>
<rect x="102.25" y="151.88" width="0.9" height="0.9" fill="#333" opacity="0.5"/>
<rect x="109.39" y="151.88" width="0.9" height="0.9" fill="#333" opacity="0.5"/>
<rect x="112.48" y="151.88" width="0.9" height="0.9" fill="#333" opacity="0.5"/>
<rect x="110.90" y="151.88" width="0.9" height="0.9" fill="#333" opacity="0.5"/>
<rect x="110.50" y="151.88" width="0.9" height="0.9" fill="#333" opacity="0.5"/>
<rect x="107.13" y="150.40" width="0.9" height="0.9" fill="#333" opacity="0.5"/>
<rect x="103.41" y="150.40" width="0.9" height="0.9" fill="#333" opacity="0.5"/>
<rect x="110.99" y="150.40" width="0.9" height="0.9" fill="#333" opacity="0.5"/>
<rect x="105.32" y="150.40" width="0.9" height="0.9" fill="#333" opacity="0.5"/>
<rect x="111.13" y="150.40" width="0.9" height="0.9" fill="#333" opacity="0.5"/>
<rect x="113.25" y="149.03" width="0.9" height="0.9" fill="#333" opacity="0.5"/>
<rect x="106.11" y="149.03" width="0.9" height="0.9" fill="#333" opacity="0.5"/>
<rect x="106.18" y="149.03" width="0.9" height="0.9" fill="#333" opacity="0.5"/>
<rect x="112.94" y="149.03" width="0.9" height="0.9" fill="#333" opacity="0.5"/>
<rect x="110.19" y="147.75" width="0.9" height="0.9" fill="#333" opacity="0.5"/>
<rect x="103.31" y="147.75" width="0.9" height="0.9" fill="#333" opacity="0.5"/>
<rect x="102.78" y="147.75" width="0.9" height="0.9" fill="#333" opacity="0.5"/>
<rect x="103.07" y="146.56" width="0.9" height="0.9" fill="#333" opacity="0.5"/>
<rect x="112.42" y="146.56" width="0.9" height="0.9" fill="#333" opacity="0.5"/>
<rect x="111.20" y="145.44" width="0.9" height="0.9" fill="#333" opacity="0.5"/>
<rect x="103.01" y="145.44" width="0.9" height="0.9" fill="#333" opacity="0.5"/>
<rect x="111.45" y="144.38" width="0.9" height="0.9" fill="#333" opacity="0.5"/>
<rect x="113.36" y="144.38" width="0.9" height="0.9" fill="#333" opacity="0.5"/>
<rect x="109.35" y="143.38" width="0.9" height="0.9" fill="#333" opacity="0.5"/>
<rect x="105.55" y="142.43" width="0.9" height="0.9" fill="#333" opacity="0.5"/>
<rect x="108.00" y="141.53" width="0.9" height="0.9" fill="#333" opacity="0.5"/>
<rect x="102.82" y="140.67" width="0.9" height="0.9" fill="#333" opacity="0.5"/>
<line x1="116.70" y1="198.50" x2="129.70" y2="198.50" stroke="#1a1a1a" stroke-width="1" opacity="0.74"/>
<line x1="116.70" y1="185.50" x2="129.70" y2="185.50" stroke="#1a1a1a" stroke-width="1" opacity="0.74"/>
<line x1="116.70" y1="177.50" x2="129.70" y2="177.50" stroke="#1a1a1a" stroke-width="1" opacity="0.74"/>
<line x1="116.70" y1="172.50" x2="129.70" y2="172.50" stroke="#1a1a1a" stroke-width="1" opacity="0.74"/>
<line x1="116.70" y1="168.50" x2="129.70" y2="168.50" stroke="#1a1a1a" stroke-width="1" opacity="0.74"/>
<line x1="116.70" y1="165.50" x2="129.70" y2="165.50" stroke="#1a1a1a" stroke-width="1" opacity="0.74"/>
<line x1="116.70" y1="162.50" x2="129.70" y2="162.50" stroke="#1a1a1a" stroke-width="1" opacity="0.5875"/>
<line x1="116.70" y1="159.50" x2="129.70" y2="159.50" stroke="#1a1a1a" stroke-width="1" opacity="0.4"/>
<rect x="116.98" y="157.20" width="0.9" height="0.9" fill="#333" opacity="0.5"/>
<rect x="128.84" y="157.20" width="0.9" height="0.9" fill="#333" opacity="0.5"/>
<rect x="124.86" y="157.20" width="0.9" height="0.9" fill="#333" opacity="0.5"/>
<rect x="123.33" y="157.20" width="0.9" height="0.9" fill="#333" opacity="0.5"/>
<rect x="128.38" y="157.20" width="0.9" height="0.9" fill="#333" opacity="0.5"/>
<rect x="122.18" y="157.20" width="0.9" height="0.9" fill="#333" opacity="0.5"/>
<rect x="127.61" y="157.20" width="0.9" height="0.9" fill="#333" opacity="0.5"/>
<rect x="127.04" y="157.20" width="0.9" height="0.9" fill="#333" opacity="0.5"/>
<rect x="119.42" y="157.20" width="0.9" height="0.9" fill="#333" opacity="0.5"/>
<rect x="119.92" y="157.20" width="0.9" height="0.9" fill="#333" opacity="0.5"/>
<rect x="120.43" y="157.20" width="0.9" height="0.9" fill="#333" opacity="0.5"/>
<rect x="119.78" y="157.20" width="0.9" height="0.9" fill="#333" opacity="0.5"/>
<rect x="124.07" y="157.20" width="0.9" height="0.9" fill="#333" opacity="0.5"/>
<rect x="120.02" y="157.20" width="0.9" height="0.9" fill="#333" opacity="0.5"/>
<rect x="122.00" y="157.20" width="0.9" height="0.9" fill="#333" opacity="0.5"/>
<rect x="118.43" y="157.20" width="0.9" height="0.9" fill="#333" opacity="0.5"/>
<rect x="128.08" y="157.20" width="0.9" height="0.9" fill="#333" opacity="0.5"/>
<rect x="121.19" y="157.20" width="0.9" height="0.9" fill="#333" opacity="0.5"/>
<rect x="122.48" y="157.20" width="0.9" height="0.9" fill="#333" opacity="0.5"/>
<rect x="124.03" y="157.20" width="0.9" height="0.9" fill="#333" opacity="0.5"/>
<rect x="128.01" y="157.20" width="0.9" height="0.9" fill="#333" opacity="0.5"/>
<rect x="122.02" y="157.20" width="0.9" height="0.9" fill="#333" opacity="0.5"/>
<rect x="128.18" y="157.20" width="0.9" height="0.9" fill="#333" opacity="0.5"/>
<rect x="123.02" y="157.20" width="0.9" height="0.9" fill="#333" opacity="0.5"/>
<rect x="123.39" y="157.20" width="0.9" height="0.9" fill="#333" opacity="0.5"/>
<rect x="123.29" y="157.20" width="0.9" height="0.9" fill="#333" opacity="0.5"/>
<rect x="117.03" y="155.25" width="0.9" height="0.9" fill="#333" opacity="0.5"/>
<rect x="122.26" y="155.25" width="0.9" height="0.9" fill="#333" opacity="0.5"/>
<rect x="119.07" y="155.25" width="0.9" height="0.9" fill="#333" opacity="0.5"/>
<rect x="116.85" y="155.25" width="0.9" height="0.9" fill="#333" opacity="0.5"/>
<rect x="126.71" y="155.25" width="0.9" height="0.9" fill="#333" opacity="0.5"/>
<rect x="118.94" y="155.25" width="0.9" height="0.9" fill="#333" opacity="0.5"/>
<rect x="122.67" y="155.25" width="0.9" height="0.9" fill="#333" opacity="0.5"/>
<rect x="125.79" y="155.25" width="0.9" height="0.9" fill="#333" opacity="0.5"/>
<rect x="123.70" y="155.25" width="0.9" height="0.9" fill="#333" opacity="0.5"/>
<rect x="120.84" y="155.25" width="0.9" height="0.9" fill="#333" opacity="0.5"/>
<rect x="123.23" y="155.25" width="0.9" height="0.9" fill="#333" opacity="0.5"/>
<rect x="123.69" y="155.25" width="0.9" height="0.9" fill="#333" opacity="0.5"/>
<rect x="126.52" y="155.25" width="0.9" height="0.9" fill="#333" opacity="0.5"/>
<rect x="118.12" y="155.25" width="0.9" height="0.9" fill="#333" opacity="0.5"/>
<rect x="123.75" y="155.25" width="0.9" height="0.9" fill="#333" opacity="0.5"/>
<rect x="119.88" y="155.25" width="0.9" height="0.9" fill="#333" opacity="0.5"/>
<rect x="120.23" y="155.25" width="0.9" height="0.9" fill="#333" opacity="0.5"/>
<rect x="126.38" y="155.25" width="0.9" height="0.9" fill="#333" opacity="0.5"/>
<rect x="123.10" y="155.25" width="0.9" height="0.9" fill="#333" opacity="0.5"/>
<rect x="123.77" y="155.25" width="0.9" height="0.9" fill="#333" opacity="0.5"/>
<rect x="126.22" y="155.25" width="0.9" height="0.9" fill="#333" opacity="0.5"/>
<rect x="128.11" y="155.25" width="0.9" height="0.9" fill="#333" opacity="0.5"/>
<rect x="122.30" y="155.25" width="0.9" height="0.9" fill="#333" opacity="0.5"/>
<rect x="124.40" y="153.49" width="0.9" height="0.9" fill="#333" opacity="0.5"/>
<rect x="123.07" y="153.49" width="0.9" height="0.9" fill="#333" opacity="0.5"/>
<rect x="123.15" y="153.49" width="0.9" height="0.9" fill="#333" opacity="0.5"/>
<rect x="125.39" y="153.49" width="0.9" height="0.9" fill="#333" opacity="0.5"/>
<rect x="122.41" y="153.49" width="0.9" height="0.9" fill="#333" opacity="0.5"/>
<rect x="123.41" y="153.49" width="0.9" height="0.9" fill="#333" opacity="0.5"/>
<rect x="122.73" y="153.49" width="0.9" height="0.9" fill="#333" opacity="0.5"/>
<rect x="128.47" y="153.49" width="0.9" height="0.9" fill="#333" opacity="0.5"/>
<rect x="125.47" y="153.49" width="0.9" height="0.9" fill="#333" opacity="0.5"/>
<rect x="127.67" y="153.49" width="0.9" height="0.9" fill="#333" opacity="0.5"/>
<rect x="128.48" y="153.49" width="0.9" height="0.9" fill="#333" opacity="0.5"/>
<rect x="120.02" y="153.49" width="0.9" height="0.9" fill="#333" opacity="0.5"/>
<rect x="123.74" y="153.49" width="0.9" height="0.9" fill="#333" opacity="0.5"/>
<rect x="128.50" y="153.49" width="0.9" height="0.9" fill="#333" opacity="0.5"/>
<rect x="127.22" y="153.49" width="0.9" height="0.9" fill="#333" opacity="0.5"/>
<rect x="118.50" y="153.49" width="0.9" height="0.9" fill="#333" opacity="0.5"/>
<rect x="118.31" y="153.49" width="0.9" height="0.9" fill="#333" opacity="0.5"/>
<rect x="122.28" y="153.49" width="0.9" height="0.9" fill="#333" opacity="0.5"/>
<rect x="117.70" y="153.49" width="0.9" height="0.9" fill="#333" opacity="0.5"/>
<rect x="119.78" y="153.49" width="0.9" height="0.9" fill="#333" opacity="0.5"/>
<rect x="117.71" y="153.49" width="0.9" height="0.9" fill="#333" opacity="0.5"/>
<rect x="125.10" y="151.88" width="0.9" height="0.9" fill="#333" opacity="0.5"/>
<rect x="126.52" y="151.88" width="0.9" height="0.9" fill="#333" opacity="0.5"/>
<rect x="127.92" y="151.88" width="0.9" height="0.9" fill="#333" opacity="0.5"/>
<rect x="118.72" y="151.88" width="0.9" height="0.9" fill="#333" opacity="0.5"/>
<rect x="125.68" y="151.88" width="0.9" height="0.9" fill="#333" opacity="0.5"/>
<rect x="124.99" y="151.88" width="0.9" height="0.9" fill="#333" opacity="0.5"/>
<rect x="118.57" y="151.88" width="0.9" height="0.9" fill="#333" opacity="0.5"/>
<rect x="127.75" y="151.88" width="0.9" height="0.9" fill="#333" opacity="0.5"/>
<rect x="128.80" y="151.88" width="0.9" height="0.9" fill="#333" opacity="0.5"/>
<rect x="119.52" y="151.88" width="0.9" height="0.9" fill="#333" opacity="0.5"/>
<rect x="128.61" y="151.88" width="0.9" height="0.9" fill="#333" opacity="0.5"/>
<rect x="121.74" y="151.88" width="0.9" height="0.9" fill="#333" opacity="0.5"/>
<rect x="122.84" y="151.88" width="0.9" height="0.9" fill="#333" opacity="0.5"/>
<rect x="129.07" y="151.88" width="0.9" height="0.9" fill="#333" opacity="0.5"/>
<rect x="127.12" y="151.88" width="0.9" height="0.9" fill="#333" opacity="0.5"/>
<rect x="118.80" y="151.88" width="0.9" height="0.9" fill="#333" opacity="0.5"/>
<rect x="122.15" y="151.88" width="0.9" height="0.9" fill="#333" opacity="0.5"/>
<rect x="123.19" y="151.88" width="0.9" height="0.9" fill="#333" opacity="0.5"/>
<rect x="121.01" y="151.88" width="0.9" height="0.9" fill="#333" opacity="0.5"/>
<rect x="119.23" y="150.40" width="0.9" height="0.9" fill="#333" opacity="0.5"/>
<rect x="120.75" y="150.40" width="0.9" height="0.9" fill="#333" opacity="0.5"/>
<rect x="125.75" y="150.40" width="0.9" height="0.9" fill="#333" opacity="0.5"/>
<rect x="117.04" y="150.40" width="0.9" height="0.9" fill="#333" opacity="0.5"/>
<rect x="123.67" y="150.40" width="0.9" height="0.9" fill="#333" opacity="0.5"/>
<rect x="122.26" y="150.40" width="0.9" height="0.9" fill="#333" opacity="0.5"/>
<rect x="117.02" y="150.40" width="0.9" height="0.9" fill="#333" opacity="0.5"/>
<rect x="120.91" y="150.40" width="0.9" height="0.9" fill="#333" opacity="0.5"/>
<rect x="124.54" y="150.40" width="0.9" height="0.9" fill="#333" opacity="0.5"/>
<rect x="123.15" y="150.40" width="0.9" height="0.9" fill="#333" opacity="0.5"/>
<rect x="117.60" y="150.40" width="0.9" height="0.9" fill="#333" opacity="0.5"/>
<rect x="129.02" y="150.40" width="0.9" height="0.9" fill="#333" opacity="0.5"/>
<rect x="126.58" y="150.40" width="0.9" height="0.9" fill="#333" opacity="0.5"/>
<rect x="128.85" y="150.40" width="0.9" height="0.9" fill="#333" opacity="0.5"/>
<rect x="118.10" y="150.40" width="0.9" height="0.9" fill="#333" opacity="0.5"/>
<rect x="120.09" y="150.40" width="0.9" height="0.9" fill="#333" opacity="0.5"/>
<rect x="117.29" y="150.40" width="0.9" height="0.9" fill="#333" opacity="0.5"/>
<rect x="126.46" y="149.03" width="0.9" height="0.9" fill="#333" opacity="0.5"/>
<rect x="120.15" y="149.03" width="0.9" height="0.9" fill="#333" opacity="0.5"/>
<rect x="118.41" y="149.03" width="0.9" height="0.9" fill="#333" opacity="0.5"/>
<rect x="122.04" y="149.03" width="0.9" height="0.9" fill="#333" opacity="0.5"/>
<rect x="128.10" y="149.03" width="0.9" height="0.9" fill="#333" opacity="0.5"/>
<rect x="126.96" y="149.03" width="0.9" height="0.9" fill="#333" opacity="0.5"/>
<rect x="120.01" y="149.03" width="0.9" height="0.9" fill="#333" opacity="0.5"/>
<rect x="118.65" y="149.03" width="0.9" height="0.9" fill="#333" opacity="0.5"/>
<rect x="128.20" y="149.03" width="0.9" height="0.9" fill="#333" opacity="0.5"/>
<rect x="123.88" y="149.03" width="0.9" height="0.9" fill="#333" opacity="0.5"/>
<rect x="125.49" y="149.03" width="0.9" height="0.9" fill="#333" opacity="0.5"/>
<rect x="117.91" y="149.03" width="0.9" height="0.9" fill="#333" opacity="0.5"/>
<rect x="117.51" y="149.03" width="0.9" height="0.9" fill="#333" opacity="0.5"/>
<rect x="125.33" y="149.03" width="0.9" height="0.9" fill="#333" opacity="0.5"/>
<rect x="122.07" y="149.03" width="0.9" height="0.9" fill="#333" opacity="0.5"/>
<rect x="117.70" y="147.75" width="0.9" height="0.9" fill="#333" opacity="0.5"/>
<rect x="128.44" y="147.75" width="0.9" height="0.9" fill="#333" opacity="0.5"/>
<rect x="124.67" y="147.75" width="0.9" height="0.9" fill="#333" opacity="0.5"/>
<rect x="126.74" y="147.75" width="0.9" height="0.9" fill="#333" opacity="0.5"/>
<rect x="117.84" y="147.75" width="0.9" height="0.9" fill="#333" opacity="0.5"/>
<rect x="127.42" y="147.75" width="0.9" height="0.9" fill="#333" opacity="0.5"/>
<rect x="117.63" y="147.75" width="0.9" height="0.9" fill="#333" opacity="0.5"/>
<rect x="127.50" y="147.75" width="0.9" height="0.9" fill="#333" opacity="0.5"/>
<rect x="122.43" y="147.75" width="0.9" height="0.9" fill="#333" opacity="0.5"/>
<rect x="121.01" y="147.75" width="0.9" height="0.9" fill="#333" opacity="0.5"/>
<rect x="123.66" y="147.75" width="0.9" height="0.9" fill="#333" opacity="0.5"/>
<rect x="128.29" y="147.75" width="0.9" height="0.9" fill="#333" opacity="0.5"/>
<rect x="120.12" y="147.75" width="0.9" height="0.9" fill="#333" opacity="0.5"/>
<rect x="118.40" y="147.75" width="0.9" height="0.9" fill="#333" opacity="0.5"/>
<rect x="123.33" y="146.56" width="0.9" height="0.9" fill="#333" opacity="0.5"/>
<rect x="119.76" y="146.56" width="0.9" height="0.9" fill="#333" opacity="0.5"/>
<rect x="118.16" y="146.56" width="0.9" height="0.9" fill="#333" opacity="0.5"/>
<rect x="118.80" y="146.56" width="0.9" height="0.9" fill="#333" opacity="0.5"/>
<rect x="117.42" y="146.56" width="0.9" height="0.9" fill="#333" opacity="0.5"/>
<rect x="119.30" y="146.56" width="0.9" height="0.9" fill="#333" opacity="0.5"/>
<rect x="120.67" y="146.56" width="0.9" height="0.9" fill="#333" opacity="0.5"/>
<rect x="120.58" y="146.56" width="0.9" height="0.9" fill="#333" opacity="0.5"/>
<rect x="126.22" y="146.56" width="0.9" height="0.9" fill="#333" opacity="0.5"/>
<rect x="120.40" y="146.56" width="0.9" height="0.9" fill="#333" opacity="0.5"/>
<rect x="123.00" y="146.56" width="0.9" height="0.9" fill="#333" opacity="0.5"/>
<rect x="119.01" y="146.56" width="0.9" height="0.9" fill="#333" opacity="0.5"/>
<rect x="121.10" y="145.44" width="0.9" height="0.9" fill="#333" opacity="0.5"/>
<rect x="117.03" y="145.44" width="0.9" height="0.9" fill="#333" opacity="0.5"/>
<rect x="119.91" y="145.44" width="0.9" height="0.9" fill="#333" opacity="0.5"/>
<rect x="116.99" y="145.44" width="0.9" height="0.9" fill="#333" opacity="0.5"/>
<rect x="125.89" y="145.44" width="0.9" height="0.9" fill="#333" opacity="0.5"/>
<rect x="123.63" y="145.44" width="0.9" height="0.9" fill="#333" opacity="0.5"/>
<rect x="119.15" y="145.44" width="0.9" height="0.9" fill="#333" opacity="0.5"/>
<rect x="122.69" y="145.44" width="0.9" height="0.9" fill="#333" opacity="0.5"/>
<rect x="128.39" y="145.44" width="0.9" height="0.9" fill="#333" opacity="0.5"/>
<rect x="118.12" y="145.44" width="0.9" height="0.9" fill="#333" opacity="0.5"/>
<rect x="126.95" y="145.44" width="0.9" height="0.9" fill="#333" opacity="0.5"/>
<rect x="122.16" y="144.38" width="0.9" height="0.9" fill="#333" opacity="0.5"/>
<rect x="122.94" y="144.38" width="0.9" height="0.9" fill="#333" opacity="0.5"/>
<rect x="127.15" y="144.38" width="0.9" height="0.9" fill="#333" opacity="0.5"/>
<rect x="121.67" y="144.38" width="0.9" height="0.9" fill="#333" opacity="0.5"/>
<rect x="123.08" y="144.38" width="0.9" height="0.9" fill="#333" opacity="0.5"/>
<rect x="125.33" y="144.38" width="0.9" height="0.9" fill="#333" opacity="0.5"/>
<rect x="128.98" y="144.38" width="0.9" height="0.9" fill="#333" opacity="0.5"/>
<rect x="121.05" y="144.38" width="0.9" height="0.9" fill="#333" opacity="0.5"/>
<rect x="127.12" y="144.38" width="0.9" height="0.9" fill="#333" opacity="0.5"/>
<rect x="125.56" y="144.38" width="0.9" height="0.9" fill="#333" opacity="0.5"/>
<rect x="124.69" y="143.38" width="0.9" height="0.9" fill="#333" opacity="0.5"/>
<rect x="121.82" y="143.38" width="0.9" height="0.9" fill="#333" opacity="0.5"/>
<rect x="121.11" y="143.38" width="0.9" height="0.9" fill="#333" opacity="0.5"/>
<rect x="117.47" y="143.38" width="0.9" height="0.9" fill="#333" opacity="0.5"/>
<rect x="118.41" y="143.38" width="0.9" height="0.9" fill="#333" opacity="0.5"/>
<rect x="117.68" y="143.38" width="0.9" height="0.9" fill="#333" opacity="0.5"/>
<rect x="125.99" y="143.38" width="0.9" height="0.9" fill="#333" opacity="0.5"/>
<rect x="119.97" y="143.38" width="0.9" height="0.9" fill="#333" opacity="0.5"/>
<rect x="118.82" y="143.38" width="0.9" height="0.9" fill="#333" opacity="0.5"/>
<rect x="117.85" y="142.43" width="0.9" height="0.9" fill="#333" opacity="0.5"/>
<rect x="127.23" y="142.43" width="0.9" height="0.9" fill="#333" opacity="0.5"/>
<rect x="127.59" y="142.43" width="0.9" height="0.9" fill="#333" opacity="0.5"/>
<rect x="125.11" y="142.43" width="0.9" height="0.9" fill="#333" opacity="0.5"/>
<rect x="120.30" y="142.43" width="0.9" height="0.9" fill="#333" opacity="0.5"/>
<rect x="119.80" y="142.43" width="0.9" height="0.9" fill="#333" opacity="0.5"/>
<rect x="120.43" y="142.43" width="0.9" height="0.9" fill="#333" opacity="0.5"/>
<rect x="122.50" y="142.43" width="0.9" height="0.9" fill="#333" opacity="0.5"/>
<rect x="118.75" y="141.53" width="0.9" height="0.9" fill="#333" opacity="0.5"/>
<rect x="122.33" y="141.53" width="0.9" height="0.9" fill="#333" opacity="0.5"/>
<rect x="120.06" y="141.53" width="0.9" height="0.9" fill="#333" opacity="0.5"/>
<rect x="128.73" y="141.53" width="0.9" height="0.9" fill="#333" opacity="0.5"/>
<rect x="128.86" y="141.53" width="0.9" height="0.9" fill="#333" opacity="0.5"/>
<rect x="123.58" y="141.53" width="0.9" height="0.9" fill="#333" opacity="0.5"/>
<rect x="119.83" y="141.53" width="0.9" height="0.9" fill="#333" opacity="0.5"/>
<rect x="128.77" y="140.67" width="0.9" height="0.9" fill="#333" opacity="0.5"/>
<rect x="120.64" y="140.67" width="0.9" height="0.9" fill="#333" opacity="0.5"/>
<rect x="121.22" y="140.67" width="0.9" height="0.9" fill="#333" opacity="0.5"/>
<rect x="116.81" y="140.67" width="0.9" height="0.9" fill="#333" opacity="0.5"/>
<rect x="121.53" y="140.67" width="0.9" height="0.9" fill="#333" opacity="0.5"/>
<rect x="122.69" y="140.67" width="0.9" height="0.9" fill="#333" opacity="0.5"/>
<rect x="123.03" y="140.67" width="0.9" height="0.9" fill="#333" opacity="0.5"/>
<rect x="119.29" y="139.84" width="0.9" height="0.9" fill="#333" opacity="0.5"/>
<rect x="123.06" y="139.84" width="0.9" height="0.9" fill="#333" opacity="0.5"/>
<rect x="116.86" y="139.84" width="0.9" height="0.9" fill="#333" opacity="0.5"/>
<rect x="120.08" y="139.84" width="0.9" height="0.9" fill="#333" opacity="0.5"/>
<rect x="117.91" y="139.84" width="0.9" height="0.9" fill="#333" opacity="0.5"/>
<rect x="121.75" y="139.84" width="0.9" height="0.9" fill="#333" opacity="0.5"/>
<rect x="117.32" y="139.06" width="0.9" height="0.9" fill="#333" opacity="0.5"/>
<rect x="117.08" y="139.06" width="0.9" height="0.9" fill="#333" opacity="0.5"/>
<rect x="120.57" y="139.06" width="0.9" height="0.9" fill="#333" opacity="0.5"/>
<rect x="119.69" y="139.06" width="0.9" height="0.9" fill="#333" opacity="0.5"/>
<rect x="124.06" y="139.06" width="0.9" height="0.9" fill="#333" opacity="0.5"/>
<rect x="123.36" y="138.30" width="0.9" height="0.9" fill="#333" opacity="0.5"/>
<rect x="126.11" y="138.30" width="0.9" height="0.9" fill="#333" opacity="0.5"/>
<rect x="124.95" y="138.30" width="0.9" height="0.9" fill="#333" opacity="0.5"/>
<rect x="125.68" y="138.30" width="0.9" height="0.9" fill="#333" opacity="0.5"/>
<rect x="127.70" y="138.30" width="0.9" height="0.9" fill="#333" opacity="0.5"/>
<line x1="132.40" y1="198.50" x2="145.40" y2="198.50" stroke="#1a1a1a" stroke-width="1" opacity="0.74"/>
<line x1="132.40" y1="185.50" x2="145.40" y2="185.50" stroke="#1a1a1a" stroke-width="1" opacity="0.4"/>
<line x1="132.40" y1="177.50" x2="145.40" y2="177.50" stroke="#1a1a1a" stroke-width="1" opacity="0.74"/>
<rect x="137.33" y="172.20" width="0.9" height="0.9" fill="#333" opacity="0.5"/>
<rect x="136.54" y="172.20" width="0.9" height="0.9" fill="#333" opacity="0.5"/>
<rect x="144.71" y="172.20" width="0.9" height="0.9" fill="#333" opacity="0.5"/>
<rect x="134.35" y="172.20" width="0.9" height="0.9" fill="#333" opacity="0.5"/>
<rect x="141.48" y="172.20" width="0.9" height="0.9" fill="#333" opacity="0.5"/>
<rect x="140.48" y="172.20" width="0.9" height="0.9" fill="#333" opacity="0.5"/>
<rect x="133.04" y="172.20" width="0.9" height="0.9" fill="#333" opacity="0.5"/>
<rect x="142.86" y="172.20" width="0.9" height="0.9" fill="#333" opacity="0.5"/>
<rect x="143.56" y="172.20" width="0.9" height="0.9" fill="#333" opacity="0.5"/>
<rect x="140.28" y="172.20" width="0.9" height="0.9" fill="#333" opacity="0.5"/>
<rect x="141.60" y="172.20" width="0.9" height="0.9" fill="#333" opacity="0.5"/>
<rect x="142.57" y="172.20" width="0.9" height="0.9" fill="#333" opacity="0.5"/>
<rect x="134.23" y="172.20" width="0.9" height="0.9" fill="#333" opacity="0.5"/>
<rect x="138.99" y="172.20" width="0.9" height="0.9" fill="#333" opacity="0.5"/>
<rect x="138.75" y="172.20" width="0.9" height="0.9" fill="#333" opacity="0.5"/>
<rect x="142.85" y="172.20" width="0.9" height="0.9" fill="#333" opacity="0.5"/>
<rect x="142.48" y="172.20" width="0.9" height="0.9" fill="#333" opacity="0.5"/>
<rect x="142.75" y="172.20" width="0.9" height="0.9" fill="#333" opacity="0.5"/>
<rect x="139.74" y="172.20" width="0.9" height="0.9" fill="#333" opacity="0.5"/>
<rect x="143.57" y="172.20" width="0.9" height="0.9" fill="#333" opacity="0.5"/>
<rect x="140.97" y="168.08" width="0.9" height="0.9" fill="#333" opacity="0.5"/>
<rect x="141.10" y="168.08" width="0.9" height="0.9" fill="#333" opacity="0.5"/>
<rect x="135.35" y="168.08" width="0.9" height="0.9" fill="#333" opacity="0.5"/>
<rect x="132.89" y="168.08" width="0.9" height="0.9" fill="#333" opacity="0.5"/>
<rect x="134.15" y="168.08" width="0.9" height="0.9" fill="#333" opacity="0.5"/>
<rect x="136.97" y="168.08" width="0.9" height="0.9" fill="#333" opacity="0.5"/>
<rect x="133.80" y="168.08" width="0.9" height="0.9" fill="#333" opacity="0.5"/>
<rect x="142.86" y="168.08" width="0.9" height="0.9" fill="#333" opacity="0.5"/>
<rect x="139.43" y="168.08" width="0.9" height="0.9" fill="#333" opacity="0.5"/>
<rect x="140.28" y="168.08" width="0.9" height="0.9" fill="#333" opacity="0.5"/>
<rect x="140.27" y="168.08" width="0.9" height="0.9" fill="#333" opacity="0.5"/>
<rect x="140.94" y="168.08" width="0.9" height="0.9" fill="#333" opacity="0.5"/>
<rect x="138.57" y="168.08" width="0.9" height="0.9" fill="#333" opacity="0.5"/>
<rect x="132.54" y="168.08" width="0.9" height="0.9" fill="#333" opacity="0.5"/>
<rect x="142.39" y="168.08" width="0.9" height="0.9" fill="#333" opacity="0.5"/>
<rect x="141.78" y="168.08" width="0.9" height="0.9" fill="#333" opacity="0.5"/>
<rect x="138.74" y="164.70" width="0.9" height="0.9" fill="#333" opacity="0.5"/>
<rect x="139.14" y="164.70" width="0.9" height="0.9" fill="#333" opacity="0.5"/>
<rect x="140.68" y="164.70" width="0.9" height="0.9" fill="#333" opacity="0.5"/>
<rect x="133.32" y="164.70" width="0.9" height="0.9" fill="#333" opacity="0.5"/>
<rect x="141.64" y="164.70" width="0.9" height="0.9" fill="#333" opacity="0.5"/>
<rect x="135.63" y="164.70" width="0.9" height="0.9" fill="#333" opacity="0.5"/>
<rect x="133.42" y="164.70" width="0.9" height="0.9" fill="#333" opacity="0.5"/>
<rect x="135.79" y="164.70" width="0.9" height="0.9" fill="#333" opacity="0.5"/>
<rect x="141.54" y="164.70" width="0.9" height="0.9" fill="#333" opacity="0.5"/>
<rect x="135.04" y="164.70" width="0.9" height="0.9" fill="#333" opacity="0.5"/>
<rect x="141.67" y="164.70" width="0.9" height="0.9" fill="#333" opacity="0.5"/>
<rect x="144.60" y="164.70" width="0.9" height="0.9" fill="#333" opacity="0.5"/>
<rect x="138.62" y="164.70" width="0.9" height="0.9" fill="#333" opacity="0.5"/>
<rect x="137.24" y="161.85" width="0.9" height="0.9" fill="#333" opacity="0.5"/>
<rect x="138.44" y="161.85" width="0.9" height="0.9" fill="#333" opacity="0.5"/>
<rect x="140.98" y="161.85" width="0.9" height="0.9" fill="#333" opacity="0.5"/>
<rect x="142.01" y="161.85" width="0.9" height="0.9" fill="#333" opacity="0.5"/>
<rect x="140.15" y="161.85" width="0.9" height="0.9" fill="#333" opacity="0.5"/>
<rect x="140.47" y="161.85" width="0.9" height="0.9" fill="#333" opacity="0.5"/>
<rect x="133.46" y="161.85" width="0.9" height="0.9" fill="#333" opacity="0.5"/>
<rect x="134.33" y="161.85" width="0.9" height="0.9" fill="#333" opacity="0.5"/>
<rect x="135.65" y="161.85" width="0.9" height="0.9" fill="#333" opacity="0.5"/>
<rect x="141.72" y="161.85" width="0.9" height="0.9" fill="#333" opacity="0.5"/>
<rect x="136.27" y="161.85" width="0.9" height="0.9" fill="#333" opacity="0.5"/>
<rect x="139.54" y="159.38" width="0.9" height="0.9" fill="#333" opacity="0.5"/>
<rect x="132.65" y="159.38" width="0.9" height="0.9" fill="#333" opacity="0.5"/>
<rect x="133.25" y="159.38" width="0.9" height="0.9" fill="#333" opacity="0.5"/>
<rect x="135.83" y="159.38" width="0.9" height="0.9" fill="#333" opacity="0.5"/>
<rect x="140.83" y="159.38" width="0.9" height="0.9" fill="#333" opacity="0.5"/>
<rect x="141.08" y="159.38" width="0.9" height="0.9" fill="#333" opacity="0.5"/>
<rect x="140.88" y="159.38" width="0.9" height="0.9" fill="#333" opacity="0.5"/>
<rect x="136.11" y="159.38" width="0.9" height="0.9" fill="#333" opacity="0.5"/>
<rect x="138.91" y="159.38" width="0.9" height="0.9" fill="#333" opacity="0.5"/>
<rect x="138.26" y="157.20" width="0.9" height="0.9" fill="#333" opacity="0.5"/>
<rect x="138.28" y="157.20" width="0.9" height="0.9" fill="#333" opacity="0.5"/>
<rect x="133.97" y="157.20" width="0.9" height="0.9" fill="#333" opacity="0.5"/>
<rect x="143.58" y="157.20" width="0.9" height="0.9" fill="#333" opacity="0.5"/>
<rect x="134.97" y="157.20" width="0.9" height="0.9" fill="#333" opacity="0.5"/>
<rect x="144.63" y="157.20" width="0.9" height="0.9" fill="#333" opacity="0.5"/>
<rect x="144.11" y="157.20" width="0.9" height="0.9" fill="#333" opacity="0.5"/>
<rect x="132.72" y="157.20" width="0.9" height="0.9" fill="#333" opacity="0.5"/>
<rect x="138.19" y="155.25" width="0.9" height="0.9" fill="#333" opacity="0.5"/>
<rect x="142.67" y="155.25" width="0.9" height="0.9" fill="#333" opacity="0.5"/>
<rect x="144.50" y="155.25" width="0.9" height="0.9" fill="#333" opacity="0.5"/>
<rect x="138.07" y="155.25" width="0.9" height="0.9" fill="#333" opacity="0.5"/>
<rect x="135.83" y="155.25" width="0.9" height="0.9" fill="#333" opacity="0.5"/>
<rect x="135.10" y="155.25" width="0.9" height="0.9" fill="#333" opacity="0.5"/>
<rect x="144.23" y="155.25" width="0.9" height="0.9" fill="#333" opacity="0.5"/>
<rect x="135.11" y="153.49" width="0.9" height="0.9" fill="#333" opacity="0.5"/>
<rect x="139.71" y="153.49" width="0.9" height="0.9" fill="#333" opacity="0.5"/>
<rect x="134.26" y="153.49" width="0.9" height="0.9" fill="#333" opacity="0.5"/>
<rect x="139.00" y="153.49" width="0.9" height="0.9" fill="#333" opacity="0.5"/>
<rect x="144.31" y="153.49" width="0.9" height="0.9" fill="#333" opacity="0.5"/>
<rect x="134.14" y="153.49" width="0.9" height="0.9" fill="#333" opacity="0.5"/>
<rect x="142.67" y="151.88" width="0.9" height="0.9" fill="#333" opacity="0.5"/>
<rect x="138.81" y="151.88" width="0.9" height="0.9" fill="#333" opacity="0.5"/>
<rect x="143.50" y="151.88" width="0.9" height="0.9" fill="#333" opacity="0.5"/>
<rect x="141.22" y="151.88" width="0.9" height="0.9" fill="#333" opacity="0.5"/>
<rect x="135.37" y="151.88" width="0.9" height="0.9" fill="#333" opacity="0.5"/>
<rect x="143.63" y="150.40" width="0.9" height="0.9" fill="#333" opacity="0.5"/>
<rect x="138.53" y="150.40" width="0.9" height="0.9" fill="#333" opacity="0.5"/>
<rect x="132.81" y="150.40" width="0.9" height="0.9" fill="#333" opacity="0.5"/>
<rect x="132.54" y="150.40" width="0.9" height="0.9" fill="#333" opacity="0.5"/>
<rect x="138.60" y="149.03" width="0.9" height="0.9" fill="#333" opacity="0.5"/>
<rect x="138.09" y="149.03" width="0.9" height="0.9" fill="#333" opacity="0.5"/>
<rect x="136.24" y="149.03" width="0.9" height="0.9" fill="#333" opacity="0.5"/>
<rect x="134.24" y="149.03" width="0.9" height="0.9" fill="#333" opacity="0.5"/>
<rect x="136.77" y="147.75" width="0.9" height="0.9" fill="#333" opacity="0.5"/>
<rect x="136.42" y="147.75" width="0.9" height="0.9" fill="#333" opacity="0.5"/>
<rect x="142.92" y="147.75" width="0.9" height="0.9" fill="#333" opacity="0.5"/>
<rect x="132.52" y="146.56" width="0.9" height="0.9" fill="#333" opacity="0.5"/>
<rect x="141.81" y="146.56" width="0.9" height="0.9" fill="#333" opacity="0.5"/>
<rect x="142.90" y="146.56" width="0.9" height="0.9" fill="#333" opacity="0.5"/>
<rect x="133.99" y="145.44" width="0.9" height="0.9" fill="#333" opacity="0.5"/>
<rect x="143.99" y="145.44" width="0.9" height="0.9" fill="#333" opacity="0.5"/>
<rect x="141.34" y="144.38" width="0.9" height="0.9" fill="#333" opacity="0.5"/>
<rect x="143.68" y="144.38" width="0.9" height="0.9" fill="#333" opacity="0.5"/>
<rect x="136.09" y="143.38" width="0.9" height="0.9" fill="#333" opacity="0.5"/>
<rect x="137.12" y="143.38" width="0.9" height="0.9" fill="#333" opacity="0.5"/>
<rect x="137.37" y="142.43" width="0.9" height="0.9" fill="#333" opacity="0.5"/>
<rect x="144.89" y="142.43" width="0.9" height="0.9" fill="#333" opacity="0.5"/>
<rect x="139.81" y="141.53" width="0.9" height="0.9" fill="#333" opacity="0.5"/>
<rect x="136.97" y="140.67" width="0.9" height="0.9" fill="#333" opacity="0.5"/>
<rect x="137.81" y="139.84" width="0.9" height="0.9" fill="#333" opacity="0.5"/>
<rect x="135.91" y="139.06" width="0.9" height="0.9" fill="#333" opacity="0.5"/>
<rect x="133.10" y="138.30" width="0.9" height="0.9" fill="#333" opacity="0.5"/>
<rect x="133.76" y="137.58" width="0.9" height="0.9" fill="#333" opacity="0.5"/>
<rect x="142.85" y="136.88" width="0.9" height="0.9" fill="#333" opacity="0.5"/>
<rect x="136.04" y="136.20" width="0.9" height="0.9" fill="#333" opacity="0.5"/>
<rect x="144.10" y="135.56" width="0.9" height="0.9" fill="#333" opacity="0.5"/>
<rect x="135.59" y="134.93" width="0.9" height="0.9" fill="#333" opacity="0.5"/>
<rect x="135.80" y="133.73" width="0.9" height="0.9" fill="#333" opacity="0.5"/>
<rect x="138.84" y="132.61" width="0.9" height="0.9" fill="#333" opacity="0.5"/>
<rect x="134.85" y="131.55" width="0.9" height="0.9" fill="#333" opacity="0.5"/>
<rect x="137.13" y="130.07" width="0.9" height="0.9" fill="#333" opacity="0.5"/>
<rect x="144.36" y="128.70" width="0.9" height="0.9" fill="#333" opacity="0.5"/>
<rect x="143.46" y="127.02" width="0.9" height="0.9" fill="#333" opacity="0.5"/>
<line x1="148.10" y1="198.50" x2="161.10" y2="198.50" stroke="#1a1a1a" stroke-width="1" opacity="0.74"/>
<line x1="148.10" y1="185.50" x2="161.10" y2="185.50" stroke="#1a1a1a" stroke-width="1" opacity="0.3625"/>
<line x1="148.10" y1="177.50" x2="161.10" y2="177.50" stroke="#1a1a1a" stroke-width="1" opacity="0.74"/>
<rect x="158.27" y="172.20" width="0.9" height="0.9" fill="#333" opacity="0.5"/>
<rect x="156.02" y="172.20" width="0.9" height="0.9" fill="#333" opacity="0.5"/>
<rect x="159.53" y="172.20" width="0.9" height="0.9" fill="#333" opacity="0.5"/>
<rect x="159.86" y="172.20" width="0.9" height="0.9" fill="#333" opacity="0.5"/>
<rect x="155.01" y="172.20" width="0.9" height="0.9" fill="#333" opacity="0.5"/>
<rect x="157.12" y="172.20" width="0.9" height="0.9" fill="#333" opacity="0.5"/>
<rect x="148.81" y="172.20" width="0.9" height="0.9" fill="#333" opacity="0.5"/>
<rect x="157.28" y="172.20" width="0.9" height="0.9" fill="#333" opacity="0.5"/>
<rect x="153.79" y="172.20" width="0.9" height="0.9" fill="#333" opacity="0.5"/>
<rect x="157.53" y="172.20" width="0.9" height="0.9" fill="#333" opacity="0.5"/>
<rect x="156.19" y="172.20" width="0.9" height="0.9" fill="#333" opacity="0.5"/>
<rect x="151.75" y="172.20" width="0.9" height="0.9" fill="#333" opacity="0.5"/>
<rect x="148.81" y="172.20" width="0.9" height="0.9" fill="#333" opacity="0.5"/>
<rect x="159.69" y="172.20" width="0.9" height="0.9" fill="#333" opacity="0.5"/>
<rect x="149.78" y="172.20" width="0.9" height="0.9" fill="#333" opacity="0.5"/>
<rect x="154.06" y="172.20" width="0.9" height="0.9" fill="#333" opacity="0.5"/>
<rect x="152.46" y="172.20" width="0.9" height="0.9" fill="#333" opacity="0.5"/>
<rect x="151.89" y="172.20" width="0.9" height="0.9" fill="#333" opacity="0.5"/>
<rect x="157.36" y="172.20" width="0.9" height="0.9" fill="#333" opacity="0.5"/>
<rect x="160.31" y="172.20" width="0.9" height="0.9" fill="#333" opacity="0.5"/>
<rect x="151.43" y="172.20" width="0.9" height="0.9" fill="#333" opacity="0.5"/>
<rect x="156.33" y="172.20" width="0.9" height="0.9" fill="#333" opacity="0.5"/>
<rect x="151.93" y="172.20" width="0.9" height="0.9" fill="#333" opacity="0.5"/>
<rect x="155.11" y="172.20" width="0.9" height="0.9" fill="#333" opacity="0.5"/>
<rect x="153.09" y="172.20" width="0.9" height="0.9" fill="#333" opacity="0.5"/>
<rect x="150.27" y="172.20" width="0.9" height="0.9" fill="#333" opacity="0.5"/>
<rect x="150.20" y="168.08" width="0.9" height="0.9" fill="#333" opacity="0.5"/>
<rect x="150.78" y="168.08" width="0.9" height="0.9" fill="#333" opacity="0.5"/>
<rect x="159.43" y="168.08" width="0.9" height="0.9" fill="#333" opacity="0.5"/>
<rect x="154.36" y="168.08" width="0.9" height="0.9" fill="#333" opacity="0.5"/>
<rect x="150.93" y="168.08" width="0.9" height="0.9" fill="#333" opacity="0.5"/>
<rect x="159.44" y="168.08" width="0.9" height="0.9" fill="#333" opacity="0.5"/>
<rect x="160.56" y="168.08" width="0.9" height="0.9" fill="#333" opacity="0.5"/>
<rect x="153.78" y="168.08" width="0.9" height="0.9" fill="#333" opacity="0.5"/>
<rect x="149.93" y="164.70" width="0.9" height="0.9" fill="#333" opacity="0.5"/>
<rect x="150.59" y="164.70" width="0.9" height="0.9" fill="#333" opacity="0.5"/>
<rect x="149.32" y="164.70" width="0.9" height="0.9" fill="#333" opacity="0.5"/>
<rect x="152.44" y="164.70" width="0.9" height="0.9" fill="#333" opacity="0.5"/>
<rect x="149.33" y="164.70" width="0.9" height="0.9" fill="#333" opacity="0.5"/>
<rect x="151.17" y="161.85" width="0.9" height="0.9" fill="#333" opacity="0.5"/>
<rect x="151.40" y="161.85" width="0.9" height="0.9" fill="#333" opacity="0.5"/>
<rect x="155.26" y="161.85" width="0.9" height="0.9" fill="#333" opacity="0.5"/>
<rect x="159.20" y="159.38" width="0.9" height="0.9" fill="#333" opacity="0.5"/>
<rect x="157.50" y="159.38" width="0.9" height="0.9" fill="#333" opacity="0.5"/>
<rect x="153.32" y="157.20" width="0.9" height="0.9" fill="#333" opacity="0.5"/>
<rect x="153.33" y="155.25" width="0.9" height="0.9" fill="#333" opacity="0.5"/>
<path d="M82.90,198.40 L81.20,197.40 L79.00,196.40 L77.30,195.40 L76.70,194.60 L76.50,193.00 L76.50,189.90 L77.20,187.70 L78.40,185.40 L77.80,184.00 L76.90,182.40 L76.80,181.30 L77.40,179.40 L78.30,177.90 L77.60,176.50 L77.00,175.00 L77.20,172.70 L76.80,171.20 L76.50,169.70 L76.18,160.00 L76.18,146.50 L76.18,145.50 L75.82,145.50 L75.82,146.50 L75.82,160.00 L75.50,169.70 L75.20,171.20 L74.80,172.70 L75.00,175.00 L74.40,176.50 L73.70,177.90 L74.60,179.40 L75.20,181.30 L75.10,182.40 L74.20,184.00 L73.60,185.40 L74.80,187.70 L75.50,189.90 L75.50,193.00 L75.30,194.60 L74.70,195.40 L73.00,196.40 L70.80,197.40 L69.10,198.40Z" fill="#F47A6E" stroke="#1a1a1a" stroke-width="0.42" stroke-linejoin="round"/>
<path d="M98.70,198.40 L96.70,197.00 L94.70,195.00 L93.40,193.00 L92.80,191.20 L92.75,188.20 L93.05,184.40 L93.50,182.00 L93.90,180.50 L95.10,178.20 L96.50,176.00 L97.50,173.00 L98.00,170.00 L98.30,165.00 L98.20,161.00 L98.00,160.00 L97.70,157.50 L96.90,155.00 L96.10,152.50 L95.10,150.00 L94.30,147.50 L93.60,145.00 L93.10,142.50 L92.60,140.00 L91.88,137.50 L91.88,135.30 L91.52,135.30 L91.52,137.50 L90.80,140.00 L90.30,142.50 L89.80,145.00 L89.10,147.50 L88.30,150.00 L87.30,152.50 L86.50,155.00 L85.70,157.50 L85.40,160.00 L85.20,161.00 L85.10,165.00 L85.40,170.00 L85.90,173.00 L86.90,176.00 L88.30,178.20 L89.50,180.50 L89.90,182.00 L90.35,184.40 L90.65,188.20 L90.60,191.20 L90.00,193.00 L88.70,195.00 L86.70,197.00 L84.70,198.40Z" fill="#BDA114" stroke="#1a1a1a" stroke-width="0.42" stroke-linejoin="round"/>
<path d="M114.10,198.40 L112.40,197.40 L110.40,196.40 L108.80,195.40 L108.20,194.40 L108.20,190.20 L109.10,188.00 L110.60,186.50 L111.70,184.90 L110.40,183.40 L109.10,182.00 L108.80,180.30 L109.80,179.40 L111.10,178.20 L109.80,176.80 L108.60,175.40 L109.10,172.50 L108.20,170.50 L108.40,169.00 L107.78,167.50 L107.78,145.00 L107.78,143.30 L107.42,143.30 L107.42,145.00 L107.42,167.50 L106.80,169.00 L107.00,170.50 L106.10,172.50 L106.60,175.40 L105.40,176.80 L104.10,178.20 L105.40,179.40 L106.40,180.30 L106.10,182.00 L104.80,183.40 L103.50,184.90 L104.60,186.50 L106.10,188.00 L107.00,190.20 L107.00,194.40 L106.40,195.40 L104.80,196.40 L102.80,197.40 L101.10,198.40Z" fill="#20B445" stroke="#1a1a1a" stroke-width="0.42" stroke-linejoin="round"/>
<path d="M130.30,198.40 L128.70,197.40 L126.70,196.40 L125.20,195.20 L124.60,193.50 L124.40,190.80 L125.80,188.50 L128.70,185.20 L126.00,182.60 L125.70,180.80 L128.10,177.70 L126.00,175.00 L127.60,172.40 L126.20,170.40 L126.80,168.20 L125.70,166.60 L126.00,165.00 L125.20,163.40 L125.40,162.00 L124.80,160.00 L124.60,158.00 L124.30,156.40 L124.00,153.10 L123.70,148.70 L123.38,144.40 L123.38,141.10 L123.02,141.10 L123.02,144.40 L122.70,148.70 L122.40,153.10 L122.10,156.40 L121.80,158.00 L121.60,160.00 L121.00,162.00 L121.20,163.40 L120.40,165.00 L120.70,166.60 L119.60,168.20 L120.20,170.40 L118.80,172.40 L120.40,175.00 L118.30,177.70 L120.70,180.80 L120.40,182.60 L117.70,185.20 L120.60,188.50 L122.00,190.80 L121.80,193.50 L121.20,195.20 L119.70,196.40 L117.70,197.40 L116.10,198.40Z" fill="#2FBFC3" stroke="#1a1a1a" stroke-width="0.42" stroke-linejoin="round"/>
<line x1="138.90" y1="198.30" x2="138.90" y2="127.80" stroke="#444" stroke-width="0.8" />
<line x1="154.60" y1="198.30" x2="154.60" y2="151.10" stroke="#444" stroke-width="0.8" />
<line x1="69.50" y1="198.50" x2="82.50" y2="198.50" stroke="#1a1a1a" stroke-width="1" opacity="0.42"/>
<line x1="69.50" y1="185.50" x2="82.50" y2="185.50" stroke="#1a1a1a" stroke-width="1" opacity="0.18"/>
<line x1="69.50" y1="177.50" x2="82.50" y2="177.50" stroke="#1a1a1a" stroke-width="1" opacity="0.18"/>
<line x1="69.50" y1="172.50" x2="82.50" y2="172.50" stroke="#1a1a1a" stroke-width="1" opacity="0.42"/>
<line x1="69.50" y1="168.50" x2="82.50" y2="168.50" stroke="#1a1a1a" stroke-width="1" opacity="0.42"/>
<line x1="69.50" y1="165.50" x2="82.50" y2="165.50" stroke="#1a1a1a" stroke-width="1" opacity="0.37"/>
<line x1="69.50" y1="162.50" x2="82.50" y2="162.50" stroke="#1a1a1a" stroke-width="1" opacity="0.21"/>
<line x1="85.20" y1="198.50" x2="98.20" y2="198.50" stroke="#1a1a1a" stroke-width="1" opacity="0.42"/>
<line x1="85.20" y1="185.50" x2="98.20" y2="185.50" stroke="#1a1a1a" stroke-width="1" opacity="0.18"/>
<line x1="85.20" y1="177.50" x2="98.20" y2="177.50" stroke="#1a1a1a" stroke-width="1" opacity="0.18"/>
<line x1="85.20" y1="172.50" x2="98.20" y2="172.50" stroke="#1a1a1a" stroke-width="1" opacity="0.42"/>
<line x1="85.20" y1="168.50" x2="98.20" y2="168.50" stroke="#1a1a1a" stroke-width="1" opacity="0.42"/>
<line x1="85.20" y1="165.50" x2="98.20" y2="165.50" stroke="#1a1a1a" stroke-width="1" opacity="0.42"/>
<line x1="85.20" y1="162.50" x2="98.20" y2="162.50" stroke="#1a1a1a" stroke-width="1" opacity="0.37"/>
<line x1="85.20" y1="159.50" x2="98.20" y2="159.50" stroke="#1a1a1a" stroke-width="1" opacity="0.21"/>
<line x1="101.10" y1="198.50" x2="114.10" y2="198.50" stroke="#1a1a1a" stroke-width="1" opacity="0.42"/>
<line x1="101.10" y1="185.50" x2="114.10" y2="185.50" stroke="#1a1a1a" stroke-width="1" opacity="0.18"/>
<line x1="101.10" y1="177.50" x2="114.10" y2="177.50" stroke="#1a1a1a" stroke-width="1" opacity="0.42"/>
<line x1="101.10" y1="172.50" x2="114.10" y2="172.50" stroke="#1a1a1a" stroke-width="1" opacity="0.42"/>
<line x1="101.10" y1="168.50" x2="114.10" y2="168.50" stroke="#1a1a1a" stroke-width="1" opacity="0.42"/>
<line x1="101.10" y1="165.50" x2="114.10" y2="165.50" stroke="#1a1a1a" stroke-width="1" opacity="0.37"/>
<line x1="101.10" y1="162.50" x2="114.10" y2="162.50" stroke="#1a1a1a" stroke-width="1" opacity="0.21"/>
<line x1="116.70" y1="198.50" x2="129.70" y2="198.50" stroke="#1a1a1a" stroke-width="1" opacity="0.42"/>
<line x1="116.70" y1="185.50" x2="129.70" y2="185.50" stroke="#1a1a1a" stroke-width="1" opacity="0.42"/>
<line x1="116.70" y1="177.50" x2="129.70" y2="177.50" stroke="#1a1a1a" stroke-width="1" opacity="0.42"/>
<line x1="116.70" y1="172.50" x2="129.70" y2="172.50" stroke="#1a1a1a" stroke-width="1" opacity="0.42"/>
<line x1="116.70" y1="168.50" x2="129.70" y2="168.50" stroke="#1a1a1a" stroke-width="1" opacity="0.42"/>
<line x1="116.70" y1="165.50" x2="129.70" y2="165.50" stroke="#1a1a1a" stroke-width="1" opacity="0.42"/>
<line x1="116.70" y1="162.50" x2="129.70" y2="162.50" stroke="#1a1a1a" stroke-width="1" opacity="0.37"/>
<line x1="116.70" y1="159.50" x2="129.70" y2="159.50" stroke="#1a1a1a" stroke-width="1" opacity="0.21"/>
<line x1="86.70" y1="155.30" x2="96.70" y2="155.30" stroke="#2a2000" stroke-width="0.9" opacity="0.5"/>
<line x1="85.89" y1="158.40" x2="97.51" y2="158.40" stroke="#2a2000" stroke-width="0.9" opacity="0.5"/>
<line x1="85.49" y1="161.50" x2="97.91" y2="161.50" stroke="#2a2000" stroke-width="0.9" opacity="0.5"/>
<line x1="85.42" y1="164.10" x2="97.98" y2="164.10" stroke="#2a2000" stroke-width="0.9" opacity="0.5"/>
<line x1="85.51" y1="166.80" x2="97.89" y2="166.80" stroke="#2a2000" stroke-width="0.9" opacity="0.5"/>
<line x1="85.67" y1="169.50" x2="97.73" y2="169.50" stroke="#2a2000" stroke-width="0.9" opacity="0.5"/>
<line x1="86.12" y1="172.50" x2="97.28" y2="172.50" stroke="#2a2000" stroke-width="0.9" opacity="0.5"/>
<line x1="86.93" y1="175.20" x2="96.47" y2="175.20" stroke="#2a2000" stroke-width="0.9" opacity="0.5"/>
<line x1="88.60" y1="178.20" x2="94.80" y2="178.20" stroke="#2a2000" stroke-width="0.9" opacity="0.5"/>
<line x1="66.40" y1="124.50" x2="66.40" y2="201.50" stroke="#1a1a1a" stroke-width="0.9" />
<line x1="66.40" y1="201.50" x2="164.90" y2="201.50" stroke="#1a1a1a" stroke-width="0.9" />
<line x1="64.80" y1="197.80" x2="66.40" y2="197.80" stroke="#222" stroke-width="0.7" />
<text transform="translate(64.10 200.00) scale(0.860 1)" font-size="6.43" text-anchor="end" fill="#1c1c1c" >0</text>
<line x1="64.80" y1="179.30" x2="66.40" y2="179.30" stroke="#222" stroke-width="0.7" />
<text transform="translate(64.10 181.50) scale(0.860 1)" font-size="6.43" text-anchor="end" fill="#1c1c1c" >1</text>
<line x1="64.80" y1="160.80" x2="66.40" y2="160.80" stroke="#222" stroke-width="0.7" />
<text transform="translate(64.10 163.00) scale(0.860 1)" font-size="6.43" text-anchor="end" fill="#1c1c1c" >2</text>
<line x1="64.80" y1="142.30" x2="66.40" y2="142.30" stroke="#222" stroke-width="0.7" />
<text transform="translate(64.10 144.50) scale(0.860 1)" font-size="6.43" text-anchor="end" fill="#1c1c1c" >3</text>
<line x1="76.00" y1="201.50" x2="76.00" y2="203.10" stroke="#222" stroke-width="0.7" />
<text x="0" y="0" font-size="6.50" text-anchor="end" fill="#1c1c1c" transform="translate(77.80 205.10) scale(0.87 1) rotate(-45)">Astro</text>
<line x1="91.70" y1="201.50" x2="91.70" y2="203.10" stroke="#222" stroke-width="0.7" />
<text x="0" y="0" font-size="6.50" text-anchor="end" fill="#1c1c1c" transform="translate(93.50 205.10) scale(0.87 1) rotate(-45)">Endo</text>
<line x1="107.60" y1="201.50" x2="107.60" y2="203.10" stroke="#222" stroke-width="0.7" />
<text x="0" y="0" font-size="6.50" text-anchor="end" fill="#1c1c1c" transform="translate(109.40 205.10) scale(0.87 1) rotate(-45)">Excit</text>
<line x1="123.20" y1="201.50" x2="123.20" y2="203.10" stroke="#222" stroke-width="0.7" />
<text x="0" y="0" font-size="6.50" text-anchor="end" fill="#1c1c1c" transform="translate(125.00 205.10) scale(0.87 1) rotate(-45)">Inhibit</text>
<line x1="138.90" y1="201.50" x2="138.90" y2="203.10" stroke="#222" stroke-width="0.7" />
<text x="0" y="0" font-size="6.50" text-anchor="end" fill="#1c1c1c" transform="translate(140.70 205.10) scale(0.87 1) rotate(-45)">Mic</text>
<line x1="154.60" y1="201.50" x2="154.60" y2="203.10" stroke="#222" stroke-width="0.7" />
<text x="0" y="0" font-size="6.50" text-anchor="end" fill="#1c1c1c" transform="translate(156.40 205.10) scale(0.87 1) rotate(-45)">Oligo</text>
<text x="0" y="0" font-size="6.03" text-anchor="middle" fill="#1c1c1c" transform="translate(59.90 165.00) rotate(-90) scale(1 0.87)">Expression Level</text>
<text transform="translate(114.55 224.60) scale(0.820 1)" font-size="7.02" text-anchor="middle" fill="#1c1c1c" >Cell Types</text>
<rect x="174.5" y="143.80" width="6.6" height="7.17" fill="#F47A6E" stroke="#2a2a2a" stroke-width="0.55"/>
<text transform="translate(184.50 149.20) scale(0.880 1)" font-size="6.90" text-anchor="start" fill="#1c1c1c" >Astro</text>
<rect x="174.5" y="150.97" width="6.6" height="7.17" fill="#BDA114" stroke="#2a2a2a" stroke-width="0.55"/>
<text transform="translate(184.50 156.37) scale(0.880 1)" font-size="6.90" text-anchor="start" fill="#1c1c1c" >Endo</text>
<rect x="174.5" y="158.14" width="6.6" height="7.17" fill="#20B445" stroke="#2a2a2a" stroke-width="0.55"/>
<text transform="translate(184.50 163.54) scale(0.880 1)" font-size="6.90" text-anchor="start" fill="#1c1c1c" >Excit</text>
<rect x="174.5" y="165.31" width="6.6" height="7.17" fill="#2FBFC3" stroke="#2a2a2a" stroke-width="0.55"/>
<text transform="translate(184.50 170.71) scale(0.880 1)" font-size="6.90" text-anchor="start" fill="#1c1c1c" >Inhibit</text>
<rect x="174.5" y="172.48" width="6.6" height="7.17" fill="#7494EA" stroke="#2a2a2a" stroke-width="0.55"/>
<text transform="translate(184.50 177.88) scale(0.880 1)" font-size="6.90" text-anchor="start" fill="#1c1c1c" >Mic</text>
<rect x="174.5" y="179.65" width="6.6" height="7.17" fill="#E86AD8" stroke="#2a2a2a" stroke-width="0.55"/>
<text transform="translate(184.50 185.05) scale(0.880 1)" font-size="6.90" text-anchor="start" fill="#1c1c1c" >Oligo</text>
<text transform="translate(303.50 114.80) scale(0.820 1)" font-size="7.02" text-anchor="middle" fill="#1c1c1c" >Normal</text>
<text transform="translate(304.30 121.60) scale(0.820 1)" font-size="7.02" text-anchor="middle" font-style="italic" fill="#1c1c1c" >PTPRG</text>
<line x1="256.80" y1="198.50" x2="269.80" y2="198.50" stroke="#1a1a1a" stroke-width="1" opacity="0.74"/>
<line x1="256.80" y1="185.50" x2="269.80" y2="185.50" stroke="#1a1a1a" stroke-width="1" opacity="0.74"/>
<line x1="256.80" y1="177.50" x2="269.80" y2="177.50" stroke="#1a1a1a" stroke-width="1" opacity="0.74"/>
<line x1="256.80" y1="172.50" x2="269.80" y2="172.50" stroke="#1a1a1a" stroke-width="1" opacity="0.74"/>
<line x1="256.80" y1="167.50" x2="269.80" y2="167.50" stroke="#1a1a1a" stroke-width="1" opacity="0.74"/>
<line x1="256.80" y1="164.50" x2="269.80" y2="164.50" stroke="#1a1a1a" stroke-width="1" opacity="0.74"/>
<line x1="256.80" y1="161.50" x2="269.80" y2="161.50" stroke="#1a1a1a" stroke-width="1" opacity="0.74"/>
<line x1="256.80" y1="159.50" x2="269.80" y2="159.50" stroke="#1a1a1a" stroke-width="1" opacity="0.74"/>
<line x1="256.80" y1="156.50" x2="269.80" y2="156.50" stroke="#1a1a1a" stroke-width="1" opacity="0.5875"/>
<line x1="256.80" y1="154.50" x2="269.80" y2="154.50" stroke="#1a1a1a" stroke-width="1" opacity="0.4"/>
<rect x="263.40" y="152.57" width="0.9" height="0.9" fill="#333" opacity="0.5"/>
<rect x="261.57" y="152.57" width="0.9" height="0.9" fill="#333" opacity="0.5"/>
<rect x="261.09" y="152.57" width="0.9" height="0.9" fill="#333" opacity="0.5"/>
<rect x="257.67" y="152.57" width="0.9" height="0.9" fill="#333" opacity="0.5"/>
<rect x="260.34" y="152.57" width="0.9" height="0.9" fill="#333" opacity="0.5"/>
<rect x="268.90" y="152.57" width="0.9" height="0.9" fill="#333" opacity="0.5"/>
<rect x="258.46" y="152.57" width="0.9" height="0.9" fill="#333" opacity="0.5"/>
<rect x="263.14" y="152.57" width="0.9" height="0.9" fill="#333" opacity="0.5"/>
<rect x="264.71" y="152.57" width="0.9" height="0.9" fill="#333" opacity="0.5"/>
<rect x="267.60" y="152.57" width="0.9" height="0.9" fill="#333" opacity="0.5"/>
<rect x="259.58" y="152.57" width="0.9" height="0.9" fill="#333" opacity="0.5"/>
<rect x="260.26" y="152.57" width="0.9" height="0.9" fill="#333" opacity="0.5"/>
<rect x="259.98" y="150.93" width="0.9" height="0.9" fill="#333" opacity="0.5"/>
<rect x="261.86" y="150.93" width="0.9" height="0.9" fill="#333" opacity="0.5"/>
<rect x="262.43" y="150.93" width="0.9" height="0.9" fill="#333" opacity="0.5"/>
<rect x="268.73" y="150.93" width="0.9" height="0.9" fill="#333" opacity="0.5"/>
<rect x="267.42" y="150.93" width="0.9" height="0.9" fill="#333" opacity="0.5"/>
<rect x="267.72" y="150.93" width="0.9" height="0.9" fill="#333" opacity="0.5"/>
<rect x="257.17" y="150.93" width="0.9" height="0.9" fill="#333" opacity="0.5"/>
<rect x="257.30" y="150.93" width="0.9" height="0.9" fill="#333" opacity="0.5"/>
<rect x="265.70" y="150.93" width="0.9" height="0.9" fill="#333" opacity="0.5"/>
<rect x="268.01" y="149.43" width="0.9" height="0.9" fill="#333" opacity="0.5"/>
<rect x="262.77" y="149.43" width="0.9" height="0.9" fill="#333" opacity="0.5"/>
<rect x="264.18" y="149.43" width="0.9" height="0.9" fill="#333" opacity="0.5"/>
<rect x="256.90" y="149.43" width="0.9" height="0.9" fill="#333" opacity="0.5"/>
<rect x="261.75" y="149.43" width="0.9" height="0.9" fill="#333" opacity="0.5"/>
<rect x="268.39" y="149.43" width="0.9" height="0.9" fill="#333" opacity="0.5"/>
<rect x="267.14" y="149.43" width="0.9" height="0.9" fill="#333" opacity="0.5"/>
<rect x="267.51" y="148.04" width="0.9" height="0.9" fill="#333" opacity="0.5"/>
<rect x="268.96" y="148.04" width="0.9" height="0.9" fill="#333" opacity="0.5"/>
<rect x="259.98" y="148.04" width="0.9" height="0.9" fill="#333" opacity="0.5"/>
<rect x="258.25" y="148.04" width="0.9" height="0.9" fill="#333" opacity="0.5"/>
<rect x="258.81" y="148.04" width="0.9" height="0.9" fill="#333" opacity="0.5"/>
<rect x="263.38" y="148.04" width="0.9" height="0.9" fill="#333" opacity="0.5"/>
<rect x="265.36" y="146.74" width="0.9" height="0.9" fill="#333" opacity="0.5"/>
<rect x="268.57" y="146.74" width="0.9" height="0.9" fill="#333" opacity="0.5"/>
<rect x="265.85" y="146.74" width="0.9" height="0.9" fill="#333" opacity="0.5"/>
<rect x="264.93" y="146.74" width="0.9" height="0.9" fill="#333" opacity="0.5"/>
<rect x="266.38" y="145.53" width="0.9" height="0.9" fill="#333" opacity="0.5"/>
<rect x="262.57" y="145.53" width="0.9" height="0.9" fill="#333" opacity="0.5"/>
<rect x="263.74" y="145.53" width="0.9" height="0.9" fill="#333" opacity="0.5"/>
<rect x="257.39" y="144.39" width="0.9" height="0.9" fill="#333" opacity="0.5"/>
<rect x="266.60" y="144.39" width="0.9" height="0.9" fill="#333" opacity="0.5"/>
<rect x="259.78" y="144.39" width="0.9" height="0.9" fill="#333" opacity="0.5"/>
<rect x="268.31" y="143.31" width="0.9" height="0.9" fill="#333" opacity="0.5"/>
<rect x="264.90" y="143.31" width="0.9" height="0.9" fill="#333" opacity="0.5"/>
<rect x="260.67" y="142.29" width="0.9" height="0.9" fill="#333" opacity="0.5"/>
<rect x="258.49" y="142.29" width="0.9" height="0.9" fill="#333" opacity="0.5"/>
<rect x="260.02" y="141.33" width="0.9" height="0.9" fill="#333" opacity="0.5"/>
<rect x="264.79" y="140.41" width="0.9" height="0.9" fill="#333" opacity="0.5"/>
<rect x="265.56" y="139.54" width="0.9" height="0.9" fill="#333" opacity="0.5"/>
<rect x="258.29" y="138.70" width="0.9" height="0.9" fill="#333" opacity="0.5"/>
<line x1="272.10" y1="198.50" x2="285.10" y2="198.50" stroke="#1a1a1a" stroke-width="1" opacity="0.74"/>
<line x1="272.10" y1="185.50" x2="285.10" y2="185.50" stroke="#1a1a1a" stroke-width="1" opacity="0.74"/>
<line x1="272.10" y1="177.50" x2="285.10" y2="177.50" stroke="#1a1a1a" stroke-width="1" opacity="0.74"/>
<line x1="272.10" y1="172.50" x2="285.10" y2="172.50" stroke="#1a1a1a" stroke-width="1" opacity="0.74"/>
<line x1="272.10" y1="167.50" x2="285.10" y2="167.50" stroke="#1a1a1a" stroke-width="1" opacity="0.74"/>
<line x1="272.10" y1="164.50" x2="285.10" y2="164.50" stroke="#1a1a1a" stroke-width="1" opacity="0.74"/>
<line x1="272.10" y1="161.50" x2="285.10" y2="161.50" stroke="#1a1a1a" stroke-width="1" opacity="0.74"/>
<line x1="272.10" y1="159.50" x2="285.10" y2="159.50" stroke="#1a1a1a" stroke-width="1" opacity="0.74"/>
<line x1="272.10" y1="156.50" x2="285.10" y2="156.50" stroke="#1a1a1a" stroke-width="1" opacity="0.74"/>
<line x1="272.10" y1="154.50" x2="285.10" y2="154.50" stroke="#1a1a1a" stroke-width="1" opacity="0.5875"/>
<line x1="272.10" y1="153.50" x2="285.10" y2="153.50" stroke="#1a1a1a" stroke-width="1" opacity="0.4"/>
<rect x="273.07" y="150.93" width="0.9" height="0.9" fill="#333" opacity="0.5"/>
<rect x="278.70" y="150.93" width="0.9" height="0.9" fill="#333" opacity="0.5"/>
<rect x="279.43" y="150.93" width="0.9" height="0.9" fill="#333" opacity="0.5"/>
<rect x="277.01" y="150.93" width="0.9" height="0.9" fill="#333" opacity="0.5"/>
<rect x="274.97" y="150.93" width="0.9" height="0.9" fill="#333" opacity="0.5"/>
<rect x="279.65" y="150.93" width="0.9" height="0.9" fill="#333" opacity="0.5"/>
<rect x="272.33" y="150.93" width="0.9" height="0.9" fill="#333" opacity="0.5"/>
<rect x="275.94" y="150.93" width="0.9" height="0.9" fill="#333" opacity="0.5"/>
<rect x="277.91" y="150.93" width="0.9" height="0.9" fill="#333" opacity="0.5"/>
<rect x="284.09" y="150.93" width="0.9" height="0.9" fill="#333" opacity="0.5"/>
<rect x="280.19" y="150.93" width="0.9" height="0.9" fill="#333" opacity="0.5"/>
<rect x="283.16" y="150.93" width="0.9" height="0.9" fill="#333" opacity="0.5"/>
<rect x="278.09" y="149.43" width="0.9" height="0.9" fill="#333" opacity="0.5"/>
<rect x="275.11" y="149.43" width="0.9" height="0.9" fill="#333" opacity="0.5"/>
<rect x="275.26" y="149.43" width="0.9" height="0.9" fill="#333" opacity="0.5"/>
<rect x="284.11" y="149.43" width="0.9" height="0.9" fill="#333" opacity="0.5"/>
<rect x="280.94" y="149.43" width="0.9" height="0.9" fill="#333" opacity="0.5"/>
<rect x="276.01" y="149.43" width="0.9" height="0.9" fill="#333" opacity="0.5"/>
<rect x="272.47" y="149.43" width="0.9" height="0.9" fill="#333" opacity="0.5"/>
<rect x="278.38" y="149.43" width="0.9" height="0.9" fill="#333" opacity="0.5"/>
<rect x="280.56" y="149.43" width="0.9" height="0.9" fill="#333" opacity="0.5"/>
<rect x="277.41" y="149.43" width="0.9" height="0.9" fill="#333" opacity="0.5"/>
<rect x="275.39" y="148.04" width="0.9" height="0.9" fill="#333" opacity="0.5"/>
<rect x="280.48" y="148.04" width="0.9" height="0.9" fill="#333" opacity="0.5"/>
<rect x="283.67" y="148.04" width="0.9" height="0.9" fill="#333" opacity="0.5"/>
<rect x="275.01" y="148.04" width="0.9" height="0.9" fill="#333" opacity="0.5"/>
<rect x="272.62" y="148.04" width="0.9" height="0.9" fill="#333" opacity="0.5"/>
<rect x="276.39" y="148.04" width="0.9" height="0.9" fill="#333" opacity="0.5"/>
<rect x="277.41" y="148.04" width="0.9" height="0.9" fill="#333" opacity="0.5"/>
<rect x="280.66" y="148.04" width="0.9" height="0.9" fill="#333" opacity="0.5"/>
<rect x="274.66" y="146.74" width="0.9" height="0.9" fill="#333" opacity="0.5"/>
<rect x="282.08" y="146.74" width="0.9" height="0.9" fill="#333" opacity="0.5"/>
<rect x="281.37" y="146.74" width="0.9" height="0.9" fill="#333" opacity="0.5"/>
<rect x="278.46" y="146.74" width="0.9" height="0.9" fill="#333" opacity="0.5"/>
<rect x="274.74" y="146.74" width="0.9" height="0.9" fill="#333" opacity="0.5"/>
<rect x="284.23" y="146.74" width="0.9" height="0.9" fill="#333" opacity="0.5"/>
<rect x="276.07" y="145.53" width="0.9" height="0.9" fill="#333" opacity="0.5"/>
<rect x="282.37" y="145.53" width="0.9" height="0.9" fill="#333" opacity="0.5"/>
<rect x="275.06" y="145.53" width="0.9" height="0.9" fill="#333" opacity="0.5"/>
<rect x="274.95" y="145.53" width="0.9" height="0.9" fill="#333" opacity="0.5"/>
<rect x="281.63" y="145.53" width="0.9" height="0.9" fill="#333" opacity="0.5"/>
<rect x="275.86" y="144.39" width="0.9" height="0.9" fill="#333" opacity="0.5"/>
<rect x="284.00" y="144.39" width="0.9" height="0.9" fill="#333" opacity="0.5"/>
<rect x="278.35" y="144.39" width="0.9" height="0.9" fill="#333" opacity="0.5"/>
<rect x="274.52" y="144.39" width="0.9" height="0.9" fill="#333" opacity="0.5"/>
<rect x="274.97" y="143.31" width="0.9" height="0.9" fill="#333" opacity="0.5"/>
<rect x="277.37" y="143.31" width="0.9" height="0.9" fill="#333" opacity="0.5"/>
<rect x="280.45" y="143.31" width="0.9" height="0.9" fill="#333" opacity="0.5"/>
<rect x="283.96" y="142.29" width="0.9" height="0.9" fill="#333" opacity="0.5"/>
<rect x="274.02" y="142.29" width="0.9" height="0.9" fill="#333" opacity="0.5"/>
<rect x="277.08" y="142.29" width="0.9" height="0.9" fill="#333" opacity="0.5"/>
<rect x="274.84" y="141.33" width="0.9" height="0.9" fill="#333" opacity="0.5"/>
<rect x="284.28" y="141.33" width="0.9" height="0.9" fill="#333" opacity="0.5"/>
<rect x="273.96" y="140.41" width="0.9" height="0.9" fill="#333" opacity="0.5"/>
<rect x="272.84" y="140.41" width="0.9" height="0.9" fill="#333" opacity="0.5"/>
<rect x="272.95" y="139.54" width="0.9" height="0.9" fill="#333" opacity="0.5"/>
<rect x="277.08" y="138.70" width="0.9" height="0.9" fill="#333" opacity="0.5"/>
<rect x="283.34" y="137.90" width="0.9" height="0.9" fill="#333" opacity="0.5"/>
<line x1="288.50" y1="198.50" x2="301.50" y2="198.50" stroke="#1a1a1a" stroke-width="1" opacity="0.74"/>
<line x1="288.50" y1="185.50" x2="301.50" y2="185.50" stroke="#1a1a1a" stroke-width="1" opacity="0.74"/>
<line x1="288.50" y1="177.50" x2="301.50" y2="177.50" stroke="#1a1a1a" stroke-width="1" opacity="0.74"/>
<line x1="288.50" y1="172.50" x2="301.50" y2="172.50" stroke="#1a1a1a" stroke-width="1" opacity="0.74"/>
<line x1="288.50" y1="167.50" x2="301.50" y2="167.50" stroke="#1a1a1a" stroke-width="1" opacity="0.74"/>
<line x1="288.50" y1="164.50" x2="301.50" y2="164.50" stroke="#1a1a1a" stroke-width="1" opacity="0.74"/>
<line x1="288.50" y1="161.50" x2="301.50" y2="161.50" stroke="#1a1a1a" stroke-width="1" opacity="0.74"/>
<line x1="288.50" y1="159.50" x2="301.50" y2="159.50" stroke="#1a1a1a" stroke-width="1" opacity="0.74"/>
<line x1="288.50" y1="156.50" x2="301.50" y2="156.50" stroke="#1a1a1a" stroke-width="1" opacity="0.74"/>
<line x1="288.50" y1="154.50" x2="301.50" y2="154.50" stroke="#1a1a1a" stroke-width="1" opacity="0.5875"/>
<line x1="288.50" y1="153.50" x2="301.50" y2="153.50" stroke="#1a1a1a" stroke-width="1" opacity="0.4"/>
<rect x="299.56" y="150.93" width="0.9" height="0.9" fill="#333" opacity="0.5"/>
<rect x="297.69" y="150.93" width="0.9" height="0.9" fill="#333" opacity="0.5"/>
<rect x="300.97" y="150.93" width="0.9" height="0.9" fill="#333" opacity="0.5"/>
<rect x="300.15" y="150.93" width="0.9" height="0.9" fill="#333" opacity="0.5"/>
<rect x="292.68" y="150.93" width="0.9" height="0.9" fill="#333" opacity="0.5"/>
<rect x="290.90" y="150.93" width="0.9" height="0.9" fill="#333" opacity="0.5"/>
<rect x="300.20" y="150.93" width="0.9" height="0.9" fill="#333" opacity="0.5"/>
<rect x="297.85" y="150.93" width="0.9" height="0.9" fill="#333" opacity="0.5"/>
<rect x="289.00" y="150.93" width="0.9" height="0.9" fill="#333" opacity="0.5"/>
<rect x="296.84" y="150.93" width="0.9" height="0.9" fill="#333" opacity="0.5"/>
<rect x="293.29" y="150.93" width="0.9" height="0.9" fill="#333" opacity="0.5"/>
<rect x="293.24" y="150.93" width="0.9" height="0.9" fill="#333" opacity="0.5"/>
<rect x="292.71" y="150.93" width="0.9" height="0.9" fill="#333" opacity="0.5"/>
<rect x="290.70" y="150.93" width="0.9" height="0.9" fill="#333" opacity="0.5"/>
<rect x="288.64" y="149.43" width="0.9" height="0.9" fill="#333" opacity="0.5"/>
<rect x="292.07" y="149.43" width="0.9" height="0.9" fill="#333" opacity="0.5"/>
<rect x="292.96" y="149.43" width="0.9" height="0.9" fill="#333" opacity="0.5"/>
<rect x="300.45" y="149.43" width="0.9" height="0.9" fill="#333" opacity="0.5"/>
<rect x="290.13" y="149.43" width="0.9" height="0.9" fill="#333" opacity="0.5"/>
<rect x="300.56" y="149.43" width="0.9" height="0.9" fill="#333" opacity="0.5"/>
<rect x="291.17" y="149.43" width="0.9" height="0.9" fill="#333" opacity="0.5"/>
<rect x="293.02" y="149.43" width="0.9" height="0.9" fill="#333" opacity="0.5"/>
<rect x="298.79" y="149.43" width="0.9" height="0.9" fill="#333" opacity="0.5"/>
<rect x="298.79" y="149.43" width="0.9" height="0.9" fill="#333" opacity="0.5"/>
<rect x="293.96" y="149.43" width="0.9" height="0.9" fill="#333" opacity="0.5"/>
<rect x="289.21" y="148.04" width="0.9" height="0.9" fill="#333" opacity="0.5"/>
<rect x="294.47" y="148.04" width="0.9" height="0.9" fill="#333" opacity="0.5"/>
<rect x="293.22" y="148.04" width="0.9" height="0.9" fill="#333" opacity="0.5"/>
<rect x="300.00" y="148.04" width="0.9" height="0.9" fill="#333" opacity="0.5"/>
<rect x="290.99" y="148.04" width="0.9" height="0.9" fill="#333" opacity="0.5"/>
<rect x="293.12" y="148.04" width="0.9" height="0.9" fill="#333" opacity="0.5"/>
<rect x="299.72" y="148.04" width="0.9" height="0.9" fill="#333" opacity="0.5"/>
<rect x="288.98" y="148.04" width="0.9" height="0.9" fill="#333" opacity="0.5"/>
<rect x="293.69" y="148.04" width="0.9" height="0.9" fill="#333" opacity="0.5"/>
<rect x="298.67" y="146.74" width="0.9" height="0.9" fill="#333" opacity="0.5"/>
<rect x="298.11" y="146.74" width="0.9" height="0.9" fill="#333" opacity="0.5"/>
<rect x="289.10" y="146.74" width="0.9" height="0.9" fill="#333" opacity="0.5"/>
<rect x="289.03" y="146.74" width="0.9" height="0.9" fill="#333" opacity="0.5"/>
<rect x="289.38" y="146.74" width="0.9" height="0.9" fill="#333" opacity="0.5"/>
<rect x="300.01" y="146.74" width="0.9" height="0.9" fill="#333" opacity="0.5"/>
<rect x="291.79" y="146.74" width="0.9" height="0.9" fill="#333" opacity="0.5"/>
<rect x="297.87" y="146.74" width="0.9" height="0.9" fill="#333" opacity="0.5"/>
<rect x="299.74" y="145.53" width="0.9" height="0.9" fill="#333" opacity="0.5"/>
<rect x="292.80" y="145.53" width="0.9" height="0.9" fill="#333" opacity="0.5"/>
<rect x="291.98" y="145.53" width="0.9" height="0.9" fill="#333" opacity="0.5"/>
<rect x="300.48" y="145.53" width="0.9" height="0.9" fill="#333" opacity="0.5"/>
<rect x="296.25" y="145.53" width="0.9" height="0.9" fill="#333" opacity="0.5"/>
<rect x="291.85" y="145.53" width="0.9" height="0.9" fill="#333" opacity="0.5"/>
<rect x="297.49" y="144.39" width="0.9" height="0.9" fill="#333" opacity="0.5"/>
<rect x="292.52" y="144.39" width="0.9" height="0.9" fill="#333" opacity="0.5"/>
<rect x="292.02" y="144.39" width="0.9" height="0.9" fill="#333" opacity="0.5"/>
<rect x="288.65" y="144.39" width="0.9" height="0.9" fill="#333" opacity="0.5"/>
<rect x="297.97" y="144.39" width="0.9" height="0.9" fill="#333" opacity="0.5"/>
<rect x="299.96" y="143.31" width="0.9" height="0.9" fill="#333" opacity="0.5"/>
<rect x="296.46" y="143.31" width="0.9" height="0.9" fill="#333" opacity="0.5"/>
<rect x="300.30" y="143.31" width="0.9" height="0.9" fill="#333" opacity="0.5"/>
<rect x="288.90" y="143.31" width="0.9" height="0.9" fill="#333" opacity="0.5"/>
<rect x="291.50" y="142.29" width="0.9" height="0.9" fill="#333" opacity="0.5"/>
<rect x="294.49" y="142.29" width="0.9" height="0.9" fill="#333" opacity="0.5"/>
<rect x="300.46" y="142.29" width="0.9" height="0.9" fill="#333" opacity="0.5"/>
<rect x="300.43" y="141.33" width="0.9" height="0.9" fill="#333" opacity="0.5"/>
<rect x="293.39" y="141.33" width="0.9" height="0.9" fill="#333" opacity="0.5"/>
<rect x="291.71" y="141.33" width="0.9" height="0.9" fill="#333" opacity="0.5"/>
<rect x="293.93" y="140.41" width="0.9" height="0.9" fill="#333" opacity="0.5"/>
<rect x="294.72" y="140.41" width="0.9" height="0.9" fill="#333" opacity="0.5"/>
<rect x="300.11" y="139.54" width="0.9" height="0.9" fill="#333" opacity="0.5"/>
<rect x="290.87" y="139.54" width="0.9" height="0.9" fill="#333" opacity="0.5"/>
<rect x="298.55" y="138.70" width="0.9" height="0.9" fill="#333" opacity="0.5"/>
<rect x="297.76" y="138.70" width="0.9" height="0.9" fill="#333" opacity="0.5"/>
<rect x="298.80" y="137.90" width="0.9" height="0.9" fill="#333" opacity="0.5"/>
<rect x="298.18" y="137.14" width="0.9" height="0.9" fill="#333" opacity="0.5"/>
<rect x="296.13" y="136.40" width="0.9" height="0.9" fill="#333" opacity="0.5"/>
<rect x="292.66" y="135.69" width="0.9" height="0.9" fill="#333" opacity="0.5"/>
<rect x="292.56" y="135.00" width="0.9" height="0.9" fill="#333" opacity="0.5"/>
<rect x="293.09" y="134.34" width="0.9" height="0.9" fill="#333" opacity="0.5"/>
<rect x="298.30" y="133.71" width="0.9" height="0.9" fill="#333" opacity="0.5"/>
<rect x="289.58" y="133.09" width="0.9" height="0.9" fill="#333" opacity="0.5"/>
<line x1="303.90" y1="198.50" x2="316.90" y2="198.50" stroke="#1a1a1a" stroke-width="1" opacity="0.74"/>
<line x1="303.90" y1="185.50" x2="316.90" y2="185.50" stroke="#1a1a1a" stroke-width="1" opacity="0.74"/>
<line x1="303.90" y1="177.50" x2="316.90" y2="177.50" stroke="#1a1a1a" stroke-width="1" opacity="0.74"/>
<line x1="303.90" y1="172.50" x2="316.90" y2="172.50" stroke="#1a1a1a" stroke-width="1" opacity="0.74"/>
<line x1="303.90" y1="167.50" x2="316.90" y2="167.50" stroke="#1a1a1a" stroke-width="1" opacity="0.74"/>
<line x1="303.90" y1="164.50" x2="316.90" y2="164.50" stroke="#1a1a1a" stroke-width="1" opacity="0.74"/>
<line x1="303.90" y1="161.50" x2="316.90" y2="161.50" stroke="#1a1a1a" stroke-width="1" opacity="0.74"/>
<line x1="303.90" y1="159.50" x2="316.90" y2="159.50" stroke="#1a1a1a" stroke-width="1" opacity="0.74"/>
<line x1="303.90" y1="156.50" x2="316.90" y2="156.50" stroke="#1a1a1a" stroke-width="1" opacity="0.74"/>
<line x1="303.90" y1="154.50" x2="316.90" y2="154.50" stroke="#1a1a1a" stroke-width="1" opacity="0.74"/>
<line x1="303.90" y1="153.50" x2="316.90" y2="153.50" stroke="#1a1a1a" stroke-width="1" opacity="0.5875"/>
<line x1="303.90" y1="151.50" x2="316.90" y2="151.50" stroke="#1a1a1a" stroke-width="1" opacity="0.4"/>
<rect x="306.45" y="149.43" width="0.9" height="0.9" fill="#333" opacity="0.5"/>
<rect x="313.34" y="149.43" width="0.9" height="0.9" fill="#333" opacity="0.5"/>
<rect x="307.07" y="149.43" width="0.9" height="0.9" fill="#333" opacity="0.5"/>
<rect x="304.80" y="149.43" width="0.9" height="0.9" fill="#333" opacity="0.5"/>
<rect x="304.42" y="149.43" width="0.9" height="0.9" fill="#333" opacity="0.5"/>
<rect x="310.85" y="149.43" width="0.9" height="0.9" fill="#333" opacity="0.5"/>
<rect x="308.04" y="149.43" width="0.9" height="0.9" fill="#333" opacity="0.5"/>
<rect x="316.16" y="149.43" width="0.9" height="0.9" fill="#333" opacity="0.5"/>
<rect x="314.96" y="149.43" width="0.9" height="0.9" fill="#333" opacity="0.5"/>
<rect x="316.25" y="149.43" width="0.9" height="0.9" fill="#333" opacity="0.5"/>
<rect x="307.28" y="149.43" width="0.9" height="0.9" fill="#333" opacity="0.5"/>
<rect x="305.04" y="149.43" width="0.9" height="0.9" fill="#333" opacity="0.5"/>
<rect x="305.20" y="149.43" width="0.9" height="0.9" fill="#333" opacity="0.5"/>
<rect x="310.18" y="149.43" width="0.9" height="0.9" fill="#333" opacity="0.5"/>
<rect x="312.80" y="149.43" width="0.9" height="0.9" fill="#333" opacity="0.5"/>
<rect x="309.54" y="149.43" width="0.9" height="0.9" fill="#333" opacity="0.5"/>
<rect x="306.90" y="149.43" width="0.9" height="0.9" fill="#333" opacity="0.5"/>
<rect x="309.17" y="149.43" width="0.9" height="0.9" fill="#333" opacity="0.5"/>
<rect x="311.69" y="148.04" width="0.9" height="0.9" fill="#333" opacity="0.5"/>
<rect x="312.36" y="148.04" width="0.9" height="0.9" fill="#333" opacity="0.5"/>
<rect x="313.27" y="148.04" width="0.9" height="0.9" fill="#333" opacity="0.5"/>
<rect x="314.50" y="148.04" width="0.9" height="0.9" fill="#333" opacity="0.5"/>
<rect x="312.24" y="148.04" width="0.9" height="0.9" fill="#333" opacity="0.5"/>
<rect x="305.50" y="148.04" width="0.9" height="0.9" fill="#333" opacity="0.5"/>
<rect x="314.43" y="148.04" width="0.9" height="0.9" fill="#333" opacity="0.5"/>
<rect x="307.64" y="148.04" width="0.9" height="0.9" fill="#333" opacity="0.5"/>
<rect x="311.03" y="148.04" width="0.9" height="0.9" fill="#333" opacity="0.5"/>
<rect x="308.62" y="148.04" width="0.9" height="0.9" fill="#333" opacity="0.5"/>
<rect x="313.15" y="148.04" width="0.9" height="0.9" fill="#333" opacity="0.5"/>
<rect x="306.47" y="148.04" width="0.9" height="0.9" fill="#333" opacity="0.5"/>
<rect x="307.07" y="148.04" width="0.9" height="0.9" fill="#333" opacity="0.5"/>
<rect x="307.04" y="148.04" width="0.9" height="0.9" fill="#333" opacity="0.5"/>
<rect x="305.90" y="148.04" width="0.9" height="0.9" fill="#333" opacity="0.5"/>
<rect x="314.96" y="146.74" width="0.9" height="0.9" fill="#333" opacity="0.5"/>
<rect x="311.17" y="146.74" width="0.9" height="0.9" fill="#333" opacity="0.5"/>
<rect x="308.05" y="146.74" width="0.9" height="0.9" fill="#333" opacity="0.5"/>
<rect x="308.91" y="146.74" width="0.9" height="0.9" fill="#333" opacity="0.5"/>
<rect x="316.31" y="146.74" width="0.9" height="0.9" fill="#333" opacity="0.5"/>
<rect x="310.29" y="146.74" width="0.9" height="0.9" fill="#333" opacity="0.5"/>
<rect x="306.87" y="146.74" width="0.9" height="0.9" fill="#333" opacity="0.5"/>
<rect x="314.02" y="146.74" width="0.9" height="0.9" fill="#333" opacity="0.5"/>
<rect x="312.10" y="146.74" width="0.9" height="0.9" fill="#333" opacity="0.5"/>
<rect x="316.29" y="146.74" width="0.9" height="0.9" fill="#333" opacity="0.5"/>
<rect x="305.27" y="146.74" width="0.9" height="0.9" fill="#333" opacity="0.5"/>
<rect x="309.89" y="146.74" width="0.9" height="0.9" fill="#333" opacity="0.5"/>
<rect x="314.16" y="146.74" width="0.9" height="0.9" fill="#333" opacity="0.5"/>
<rect x="314.42" y="145.53" width="0.9" height="0.9" fill="#333" opacity="0.5"/>
<rect x="315.34" y="145.53" width="0.9" height="0.9" fill="#333" opacity="0.5"/>
<rect x="304.50" y="145.53" width="0.9" height="0.9" fill="#333" opacity="0.5"/>
<rect x="307.64" y="145.53" width="0.9" height="0.9" fill="#333" opacity="0.5"/>
<rect x="305.48" y="145.53" width="0.9" height="0.9" fill="#333" opacity="0.5"/>
<rect x="306.35" y="145.53" width="0.9" height="0.9" fill="#333" opacity="0.5"/>
<rect x="316.06" y="145.53" width="0.9" height="0.9" fill="#333" opacity="0.5"/>
<rect x="311.23" y="145.53" width="0.9" height="0.9" fill="#333" opacity="0.5"/>
<rect x="315.53" y="145.53" width="0.9" height="0.9" fill="#333" opacity="0.5"/>
<rect x="308.62" y="145.53" width="0.9" height="0.9" fill="#333" opacity="0.5"/>
<rect x="314.74" y="145.53" width="0.9" height="0.9" fill="#333" opacity="0.5"/>
<rect x="309.57" y="144.39" width="0.9" height="0.9" fill="#333" opacity="0.5"/>
<rect x="307.22" y="144.39" width="0.9" height="0.9" fill="#333" opacity="0.5"/>
<rect x="313.64" y="144.39" width="0.9" height="0.9" fill="#333" opacity="0.5"/>
<rect x="315.73" y="144.39" width="0.9" height="0.9" fill="#333" opacity="0.5"/>
<rect x="305.31" y="144.39" width="0.9" height="0.9" fill="#333" opacity="0.5"/>
<rect x="311.39" y="144.39" width="0.9" height="0.9" fill="#333" opacity="0.5"/>
<rect x="311.69" y="144.39" width="0.9" height="0.9" fill="#333" opacity="0.5"/>
<rect x="306.70" y="144.39" width="0.9" height="0.9" fill="#333" opacity="0.5"/>
<rect x="308.57" y="144.39" width="0.9" height="0.9" fill="#333" opacity="0.5"/>
<rect x="305.75" y="143.31" width="0.9" height="0.9" fill="#333" opacity="0.5"/>
<rect x="306.53" y="143.31" width="0.9" height="0.9" fill="#333" opacity="0.5"/>
<rect x="307.16" y="143.31" width="0.9" height="0.9" fill="#333" opacity="0.5"/>
<rect x="311.43" y="143.31" width="0.9" height="0.9" fill="#333" opacity="0.5"/>
<rect x="312.08" y="143.31" width="0.9" height="0.9" fill="#333" opacity="0.5"/>
<rect x="306.52" y="143.31" width="0.9" height="0.9" fill="#333" opacity="0.5"/>
<rect x="304.14" y="143.31" width="0.9" height="0.9" fill="#333" opacity="0.5"/>
<rect x="308.06" y="143.31" width="0.9" height="0.9" fill="#333" opacity="0.5"/>
<rect x="312.41" y="142.29" width="0.9" height="0.9" fill="#333" opacity="0.5"/>
<rect x="306.30" y="142.29" width="0.9" height="0.9" fill="#333" opacity="0.5"/>
<rect x="307.87" y="142.29" width="0.9" height="0.9" fill="#333" opacity="0.5"/>
<rect x="306.52" y="142.29" width="0.9" height="0.9" fill="#333" opacity="0.5"/>
<rect x="313.86" y="142.29" width="0.9" height="0.9" fill="#333" opacity="0.5"/>
<rect x="310.80" y="142.29" width="0.9" height="0.9" fill="#333" opacity="0.5"/>
<rect x="304.78" y="141.33" width="0.9" height="0.9" fill="#333" opacity="0.5"/>
<rect x="305.26" y="141.33" width="0.9" height="0.9" fill="#333" opacity="0.5"/>
<rect x="308.90" y="141.33" width="0.9" height="0.9" fill="#333" opacity="0.5"/>
<rect x="310.82" y="141.33" width="0.9" height="0.9" fill="#333" opacity="0.5"/>
<rect x="311.93" y="141.33" width="0.9" height="0.9" fill="#333" opacity="0.5"/>
<rect x="305.13" y="140.41" width="0.9" height="0.9" fill="#333" opacity="0.5"/>
<rect x="306.03" y="140.41" width="0.9" height="0.9" fill="#333" opacity="0.5"/>
<rect x="312.62" y="140.41" width="0.9" height="0.9" fill="#333" opacity="0.5"/>
<rect x="309.08" y="140.41" width="0.9" height="0.9" fill="#333" opacity="0.5"/>
<rect x="307.51" y="139.54" width="0.9" height="0.9" fill="#333" opacity="0.5"/>
<rect x="307.81" y="139.54" width="0.9" height="0.9" fill="#333" opacity="0.5"/>
<rect x="315.82" y="139.54" width="0.9" height="0.9" fill="#333" opacity="0.5"/>
<rect x="307.87" y="139.54" width="0.9" height="0.9" fill="#333" opacity="0.5"/>
<rect x="311.02" y="138.70" width="0.9" height="0.9" fill="#333" opacity="0.5"/>
<rect x="308.43" y="138.70" width="0.9" height="0.9" fill="#333" opacity="0.5"/>
<rect x="309.16" y="138.70" width="0.9" height="0.9" fill="#333" opacity="0.5"/>
<rect x="314.72" y="137.90" width="0.9" height="0.9" fill="#333" opacity="0.5"/>
<rect x="316.36" y="137.90" width="0.9" height="0.9" fill="#333" opacity="0.5"/>
<rect x="308.51" y="137.90" width="0.9" height="0.9" fill="#333" opacity="0.5"/>
<rect x="306.45" y="137.14" width="0.9" height="0.9" fill="#333" opacity="0.5"/>
<rect x="313.03" y="137.14" width="0.9" height="0.9" fill="#333" opacity="0.5"/>
<rect x="306.53" y="136.40" width="0.9" height="0.9" fill="#333" opacity="0.5"/>
<rect x="304.07" y="136.40" width="0.9" height="0.9" fill="#333" opacity="0.5"/>
<rect x="315.18" y="135.69" width="0.9" height="0.9" fill="#333" opacity="0.5"/>
<rect x="309.25" y="135.69" width="0.9" height="0.9" fill="#333" opacity="0.5"/>
<rect x="314.17" y="135.00" width="0.9" height="0.9" fill="#333" opacity="0.5"/>
<rect x="309.04" y="134.34" width="0.9" height="0.9" fill="#333" opacity="0.5"/>
<line x1="319.90" y1="198.50" x2="332.90" y2="198.50" stroke="#1a1a1a" stroke-width="1" opacity="0.74"/>
<line x1="319.90" y1="185.50" x2="332.90" y2="185.50" stroke="#1a1a1a" stroke-width="1" opacity="0.74"/>
<line x1="319.90" y1="177.50" x2="332.90" y2="177.50" stroke="#1a1a1a" stroke-width="1" opacity="0.525"/>
<rect x="330.95" y="171.59" width="0.9" height="0.9" fill="#333" opacity="0.5"/>
<rect x="325.72" y="171.59" width="0.9" height="0.9" fill="#333" opacity="0.5"/>
<rect x="322.02" y="171.59" width="0.9" height="0.9" fill="#333" opacity="0.5"/>
<rect x="320.18" y="171.59" width="0.9" height="0.9" fill="#333" opacity="0.5"/>
<rect x="326.84" y="171.59" width="0.9" height="0.9" fill="#333" opacity="0.5"/>
<rect x="327.94" y="171.59" width="0.9" height="0.9" fill="#333" opacity="0.5"/>
<rect x="331.28" y="171.59" width="0.9" height="0.9" fill="#333" opacity="0.5"/>
<rect x="321.10" y="171.59" width="0.9" height="0.9" fill="#333" opacity="0.5"/>
<rect x="327.72" y="171.59" width="0.9" height="0.9" fill="#333" opacity="0.5"/>
<rect x="324.60" y="171.59" width="0.9" height="0.9" fill="#333" opacity="0.5"/>
<rect x="326.26" y="171.59" width="0.9" height="0.9" fill="#333" opacity="0.5"/>
<rect x="321.81" y="171.59" width="0.9" height="0.9" fill="#333" opacity="0.5"/>
<rect x="323.51" y="171.59" width="0.9" height="0.9" fill="#333" opacity="0.5"/>
<rect x="326.46" y="171.59" width="0.9" height="0.9" fill="#333" opacity="0.5"/>
<rect x="331.48" y="171.59" width="0.9" height="0.9" fill="#333" opacity="0.5"/>
<rect x="321.35" y="171.59" width="0.9" height="0.9" fill="#333" opacity="0.5"/>
<rect x="326.08" y="171.59" width="0.9" height="0.9" fill="#333" opacity="0.5"/>
<rect x="329.98" y="171.59" width="0.9" height="0.9" fill="#333" opacity="0.5"/>
<rect x="331.99" y="171.59" width="0.9" height="0.9" fill="#333" opacity="0.5"/>
<rect x="322.45" y="171.59" width="0.9" height="0.9" fill="#333" opacity="0.5"/>
<rect x="321.57" y="171.59" width="0.9" height="0.9" fill="#333" opacity="0.5"/>
<rect x="331.69" y="171.59" width="0.9" height="0.9" fill="#333" opacity="0.5"/>
<rect x="332.10" y="167.39" width="0.9" height="0.9" fill="#333" opacity="0.5"/>
<rect x="325.99" y="167.39" width="0.9" height="0.9" fill="#333" opacity="0.5"/>
<rect x="320.66" y="167.39" width="0.9" height="0.9" fill="#333" opacity="0.5"/>
<rect x="331.48" y="167.39" width="0.9" height="0.9" fill="#333" opacity="0.5"/>
<rect x="324.81" y="167.39" width="0.9" height="0.9" fill="#333" opacity="0.5"/>
<rect x="331.21" y="167.39" width="0.9" height="0.9" fill="#333" opacity="0.5"/>
<rect x="327.69" y="167.39" width="0.9" height="0.9" fill="#333" opacity="0.5"/>
<rect x="330.22" y="167.39" width="0.9" height="0.9" fill="#333" opacity="0.5"/>
<rect x="321.99" y="163.96" width="0.9" height="0.9" fill="#333" opacity="0.5"/>
<rect x="329.74" y="163.96" width="0.9" height="0.9" fill="#333" opacity="0.5"/>
<rect x="322.75" y="163.96" width="0.9" height="0.9" fill="#333" opacity="0.5"/>
<rect x="325.02" y="163.96" width="0.9" height="0.9" fill="#333" opacity="0.5"/>
<rect x="330.49" y="161.07" width="0.9" height="0.9" fill="#333" opacity="0.5"/>
<rect x="330.28" y="161.07" width="0.9" height="0.9" fill="#333" opacity="0.5"/>
<rect x="322.27" y="161.07" width="0.9" height="0.9" fill="#333" opacity="0.5"/>
<rect x="322.70" y="158.56" width="0.9" height="0.9" fill="#333" opacity="0.5"/>
<rect x="324.96" y="156.34" width="0.9" height="0.9" fill="#333" opacity="0.5"/>
<rect x="326.42" y="152.57" width="0.9" height="0.9" fill="#333" opacity="0.5"/>
<rect x="324.76" y="148.04" width="0.9" height="0.9" fill="#333" opacity="0.5"/>
<rect x="321.53" y="143.31" width="0.9" height="0.9" fill="#333" opacity="0.5"/>
<rect x="323.06" y="139.54" width="0.9" height="0.9" fill="#333" opacity="0.5"/>
<rect x="328.99" y="135.69" width="0.9" height="0.9" fill="#333" opacity="0.5"/>
<line x1="336.10" y1="198.50" x2="349.10" y2="198.50" stroke="#1a1a1a" stroke-width="1" opacity="0.74"/>
<line x1="336.10" y1="185.50" x2="349.10" y2="185.50" stroke="#1a1a1a" stroke-width="1" opacity="0.74"/>
<line x1="336.10" y1="177.50" x2="349.10" y2="177.50" stroke="#1a1a1a" stroke-width="1" opacity="0.74"/>
<line x1="336.10" y1="172.50" x2="349.10" y2="172.50" stroke="#1a1a1a" stroke-width="1" opacity="0.3375"/>
<rect x="347.33" y="167.39" width="0.9" height="0.9" fill="#333" opacity="0.5"/>
<rect x="336.71" y="167.39" width="0.9" height="0.9" fill="#333" opacity="0.5"/>
<rect x="343.17" y="167.39" width="0.9" height="0.9" fill="#333" opacity="0.5"/>
<rect x="345.59" y="167.39" width="0.9" height="0.9" fill="#333" opacity="0.5"/>
<rect x="336.67" y="167.39" width="0.9" height="0.9" fill="#333" opacity="0.5"/>
<rect x="346.59" y="167.39" width="0.9" height="0.9" fill="#333" opacity="0.5"/>
<rect x="337.66" y="163.96" width="0.9" height="0.9" fill="#333" opacity="0.5"/>
<rect x="343.63" y="163.96" width="0.9" height="0.9" fill="#333" opacity="0.5"/>
<rect x="343.02" y="163.96" width="0.9" height="0.9" fill="#333" opacity="0.5"/>
<rect x="343.98" y="161.07" width="0.9" height="0.9" fill="#333" opacity="0.5"/>
<rect x="340.00" y="158.56" width="0.9" height="0.9" fill="#333" opacity="0.5"/>
<rect x="341.41" y="154.36" width="0.9" height="0.9" fill="#333" opacity="0.5"/>
<rect x="343.42" y="148.04" width="0.9" height="0.9" fill="#333" opacity="0.5"/>
<rect x="341.48" y="144.39" width="0.9" height="0.9" fill="#333" opacity="0.5"/>
<path d="M270.20,198.20 L268.60,197.20 L266.60,196.20 L264.80,195.20 L264.00,194.50 L263.80,193.00 L263.80,191.00 L263.90,188.50 L264.80,187.30 L266.40,185.30 L265.10,183.60 L264.10,182.00 L265.10,180.30 L266.30,177.50 L264.80,175.40 L264.80,174.20 L265.20,172.20 L264.60,170.10 L264.00,168.10 L263.80,165.60 L263.48,150.00 L263.48,137.00 L263.48,136.20 L263.12,136.20 L263.12,137.00 L263.12,150.00 L262.80,165.60 L262.60,168.10 L262.00,170.10 L261.40,172.20 L261.80,174.20 L261.80,175.40 L260.30,177.50 L261.50,180.30 L262.50,182.00 L261.50,183.60 L260.20,185.30 L261.80,187.30 L262.70,188.50 L262.80,191.00 L262.80,193.00 L262.60,194.50 L261.80,195.20 L260.00,196.20 L258.00,197.20 L256.40,198.20Z" fill="#F47A6E" stroke="#1a1a1a" stroke-width="0.42" stroke-linejoin="round"/>
<path d="M285.80,198.20 L283.80,196.80 L281.90,194.50 L280.40,192.00 L279.90,189.10 L280.10,185.40 L280.60,182.50 L281.60,179.70 L282.90,176.90 L283.90,173.10 L284.20,168.40 L284.20,163.60 L283.90,158.90 L282.90,154.20 L281.60,149.50 L280.35,144.70 L279.50,140.00 L279.10,137.50 L278.78,137.00 L278.42,137.00 L278.10,137.50 L277.70,140.00 L276.85,144.70 L275.60,149.50 L274.30,154.20 L273.30,158.90 L273.00,163.60 L273.00,168.40 L273.30,173.10 L274.30,176.90 L275.60,179.70 L276.60,182.50 L277.10,185.40 L277.30,189.10 L276.80,192.00 L275.30,194.50 L273.40,196.80 L271.40,198.20Z" fill="#BDA114" stroke="#1a1a1a" stroke-width="0.42" stroke-linejoin="round"/>
<path d="M301.70,198.20 L300.00,197.20 L298.00,196.20 L296.30,195.20 L295.60,194.30 L295.50,190.00 L296.20,188.20 L298.50,186.40 L301.10,184.50 L298.50,183.20 L296.50,181.80 L296.20,180.50 L297.50,178.90 L299.80,177.30 L297.50,175.90 L296.20,174.50 L296.50,173.20 L296.80,171.80 L296.20,170.50 L295.60,169.10 L295.18,167.00 L295.18,130.00 L295.18,127.50 L294.82,127.50 L294.82,130.00 L294.82,167.00 L294.40,169.10 L293.80,170.50 L293.20,171.80 L293.50,173.20 L293.80,174.50 L292.50,175.90 L290.20,177.30 L292.50,178.90 L293.80,180.50 L293.50,181.80 L291.50,183.20 L288.90,184.50 L291.50,186.40 L293.80,188.20 L294.50,190.00 L294.40,194.30 L293.70,195.20 L292.00,196.20 L290.00,197.20 L288.30,198.20Z" fill="#20B445" stroke="#1a1a1a" stroke-width="0.42" stroke-linejoin="round"/>
<path d="M317.20,198.20 L315.60,197.20 L313.60,196.20 L312.20,195.20 L311.50,193.80 L311.40,191.80 L311.40,190.00 L312.40,188.20 L314.40,186.40 L316.70,184.50 L313.90,182.70 L312.40,181.40 L312.20,180.50 L313.90,178.90 L316.30,177.30 L313.90,175.90 L312.60,174.40 L313.40,173.20 L314.90,171.80 L313.40,170.50 L312.60,169.10 L313.70,167.30 L312.70,165.60 L312.90,164.10 L312.20,161.80 L311.90,159.10 L311.60,155.50 L311.20,151.80 L310.90,145.00 L310.58,138.00 L310.58,134.20 L310.22,134.20 L310.22,138.00 L309.90,145.00 L309.60,151.80 L309.20,155.50 L308.90,159.10 L308.60,161.80 L307.90,164.10 L308.10,165.60 L307.10,167.30 L308.20,169.10 L307.40,170.50 L305.90,171.80 L307.40,173.20 L308.20,174.40 L306.90,175.90 L304.50,177.30 L306.90,178.90 L308.60,180.50 L308.40,181.40 L306.90,182.70 L304.10,184.50 L306.40,186.40 L308.40,188.20 L309.40,190.00 L309.40,191.80 L309.30,193.80 L308.60,195.20 L307.20,196.20 L305.20,197.20 L303.60,198.20Z" fill="#2FBFC3" stroke="#1a1a1a" stroke-width="0.42" stroke-linejoin="round"/>
<line x1="326.40" y1="198.10" x2="326.40" y2="138.70" stroke="#444" stroke-width="0.8" />
<line x1="342.60" y1="198.10" x2="342.60" y2="141.40" stroke="#444" stroke-width="0.8" />
<line x1="256.80" y1="198.50" x2="269.80" y2="198.50" stroke="#1a1a1a" stroke-width="1" opacity="0.42"/>
<line x1="256.80" y1="185.50" x2="269.80" y2="185.50" stroke="#1a1a1a" stroke-width="1" opacity="0.42"/>
<line x1="256.80" y1="177.50" x2="269.80" y2="177.50" stroke="#1a1a1a" stroke-width="1" opacity="0.42"/>
<line x1="256.80" y1="172.50" x2="269.80" y2="172.50" stroke="#1a1a1a" stroke-width="1" opacity="0.42"/>
<line x1="256.80" y1="167.50" x2="269.80" y2="167.50" stroke="#1a1a1a" stroke-width="1" opacity="0.42"/>
<line x1="256.80" y1="164.50" x2="269.80" y2="164.50" stroke="#1a1a1a" stroke-width="1" opacity="0.42"/>
<line x1="256.80" y1="161.50" x2="269.80" y2="161.50" stroke="#1a1a1a" stroke-width="1" opacity="0.42"/>
<line x1="256.80" y1="159.50" x2="269.80" y2="159.50" stroke="#1a1a1a" stroke-width="1" opacity="0.42"/>
<line x1="256.80" y1="156.50" x2="269.80" y2="156.50" stroke="#1a1a1a" stroke-width="1" opacity="0.37"/>
<line x1="256.80" y1="154.50" x2="269.80" y2="154.50" stroke="#1a1a1a" stroke-width="1" opacity="0.21"/>
<line x1="272.10" y1="198.50" x2="285.10" y2="198.50" stroke="#1a1a1a" stroke-width="1" opacity="0.42"/>
<line x1="272.10" y1="185.50" x2="285.10" y2="185.50" stroke="#1a1a1a" stroke-width="1" opacity="0.42"/>
<line x1="272.10" y1="177.50" x2="285.10" y2="177.50" stroke="#1a1a1a" stroke-width="1" opacity="0.42"/>
<line x1="272.10" y1="172.50" x2="285.10" y2="172.50" stroke="#1a1a1a" stroke-width="1" opacity="0.42"/>
<line x1="272.10" y1="167.50" x2="285.10" y2="167.50" stroke="#1a1a1a" stroke-width="1" opacity="0.42"/>
<line x1="272.10" y1="164.50" x2="285.10" y2="164.50" stroke="#1a1a1a" stroke-width="1" opacity="0.42"/>
<line x1="272.10" y1="161.50" x2="285.10" y2="161.50" stroke="#1a1a1a" stroke-width="1" opacity="0.42"/>
<line x1="272.10" y1="159.50" x2="285.10" y2="159.50" stroke="#1a1a1a" stroke-width="1" opacity="0.42"/>
<line x1="272.10" y1="156.50" x2="285.10" y2="156.50" stroke="#1a1a1a" stroke-width="1" opacity="0.42"/>
<line x1="272.10" y1="154.50" x2="285.10" y2="154.50" stroke="#1a1a1a" stroke-width="1" opacity="0.37"/>
<line x1="272.10" y1="153.50" x2="285.10" y2="153.50" stroke="#1a1a1a" stroke-width="1" opacity="0.21"/>
<line x1="288.50" y1="198.50" x2="301.50" y2="198.50" stroke="#1a1a1a" stroke-width="1" opacity="0.42"/>
<line x1="288.50" y1="185.50" x2="301.50" y2="185.50" stroke="#1a1a1a" stroke-width="1" opacity="0.42"/>
<line x1="288.50" y1="177.50" x2="301.50" y2="177.50" stroke="#1a1a1a" stroke-width="1" opacity="0.42"/>
<line x1="288.50" y1="172.50" x2="301.50" y2="172.50" stroke="#1a1a1a" stroke-width="1" opacity="0.42"/>
<line x1="288.50" y1="167.50" x2="301.50" y2="167.50" stroke="#1a1a1a" stroke-width="1" opacity="0.42"/>
<line x1="288.50" y1="164.50" x2="301.50" y2="164.50" stroke="#1a1a1a" stroke-width="1" opacity="0.42"/>
<line x1="288.50" y1="161.50" x2="301.50" y2="161.50" stroke="#1a1a1a" stroke-width="1" opacity="0.42"/>
<line x1="288.50" y1="159.50" x2="301.50" y2="159.50" stroke="#1a1a1a" stroke-width="1" opacity="0.42"/>
<line x1="288.50" y1="156.50" x2="301.50" y2="156.50" stroke="#1a1a1a" stroke-width="1" opacity="0.42"/>
<line x1="288.50" y1="154.50" x2="301.50" y2="154.50" stroke="#1a1a1a" stroke-width="1" opacity="0.37"/>
<line x1="288.50" y1="153.50" x2="301.50" y2="153.50" stroke="#1a1a1a" stroke-width="1" opacity="0.21"/>
<line x1="303.90" y1="198.50" x2="316.90" y2="198.50" stroke="#1a1a1a" stroke-width="1" opacity="0.42"/>
<line x1="303.90" y1="185.50" x2="316.90" y2="185.50" stroke="#1a1a1a" stroke-width="1" opacity="0.42"/>
<line x1="303.90" y1="177.50" x2="316.90" y2="177.50" stroke="#1a1a1a" stroke-width="1" opacity="0.42"/>
<line x1="303.90" y1="172.50" x2="316.90" y2="172.50" stroke="#1a1a1a" stroke-width="1" opacity="0.42"/>
<line x1="303.90" y1="167.50" x2="316.90" y2="167.50" stroke="#1a1a1a" stroke-width="1" opacity="0.42"/>
<line x1="303.90" y1="164.50" x2="316.90" y2="164.50" stroke="#1a1a1a" stroke-width="1" opacity="0.42"/>
<line x1="303.90" y1="161.50" x2="316.90" y2="161.50" stroke="#1a1a1a" stroke-width="1" opacity="0.42"/>
<line x1="303.90" y1="159.50" x2="316.90" y2="159.50" stroke="#1a1a1a" stroke-width="1" opacity="0.42"/>
<line x1="303.90" y1="156.50" x2="316.90" y2="156.50" stroke="#1a1a1a" stroke-width="1" opacity="0.42"/>
<line x1="303.90" y1="154.50" x2="316.90" y2="154.50" stroke="#1a1a1a" stroke-width="1" opacity="0.42"/>
<line x1="303.90" y1="153.50" x2="316.90" y2="153.50" stroke="#1a1a1a" stroke-width="1" opacity="0.37"/>
<line x1="303.90" y1="151.50" x2="316.90" y2="151.50" stroke="#1a1a1a" stroke-width="1" opacity="0.21"/>
<line x1="275.13" y1="152.30" x2="282.07" y2="152.30" stroke="#2a2000" stroke-width="0.9" opacity="0.5"/>
<line x1="274.60" y1="154.20" x2="282.60" y2="154.20" stroke="#2a2000" stroke-width="0.9" opacity="0.5"/>
<line x1="274.11" y1="156.50" x2="283.09" y2="156.50" stroke="#2a2000" stroke-width="0.9" opacity="0.5"/>
<line x1="273.60" y1="158.90" x2="283.60" y2="158.90" stroke="#2a2000" stroke-width="0.9" opacity="0.5"/>
<line x1="273.45" y1="161.30" x2="283.75" y2="161.30" stroke="#2a2000" stroke-width="0.9" opacity="0.5"/>
<line x1="273.30" y1="164.10" x2="283.90" y2="164.10" stroke="#2a2000" stroke-width="0.9" opacity="0.5"/>
<line x1="273.30" y1="167.40" x2="283.90" y2="167.40" stroke="#2a2000" stroke-width="0.9" opacity="0.5"/>
<line x1="273.48" y1="171.20" x2="283.72" y2="171.20" stroke="#2a2000" stroke-width="0.9" opacity="0.5"/>
<line x1="274.79" y1="177.30" x2="282.41" y2="177.30" stroke="#2a2000" stroke-width="0.9" opacity="0.5"/>
<line x1="253.40" y1="122.50" x2="253.40" y2="201.20" stroke="#1a1a1a" stroke-width="0.9" />
<line x1="253.40" y1="201.20" x2="350.50" y2="201.20" stroke="#1a1a1a" stroke-width="0.9" />
<line x1="251.80" y1="197.70" x2="253.40" y2="197.70" stroke="#222" stroke-width="0.7" />
<text transform="translate(251.10 199.90) scale(0.860 1)" font-size="6.43" text-anchor="end" fill="#1c1c1c" >0</text>
<line x1="251.80" y1="178.80" x2="253.40" y2="178.80" stroke="#222" stroke-width="0.7" />
<text transform="translate(251.10 181.00) scale(0.860 1)" font-size="6.43" text-anchor="end" fill="#1c1c1c" >1</text>
<line x1="251.80" y1="159.90" x2="253.40" y2="159.90" stroke="#222" stroke-width="0.7" />
<text transform="translate(251.10 162.10) scale(0.860 1)" font-size="6.43" text-anchor="end" fill="#1c1c1c" >2</text>
<line x1="251.80" y1="141.00" x2="253.40" y2="141.00" stroke="#222" stroke-width="0.7" />
<text transform="translate(251.10 143.20) scale(0.860 1)" font-size="6.43" text-anchor="end" fill="#1c1c1c" >3</text>
<line x1="263.30" y1="201.20" x2="263.30" y2="202.80" stroke="#222" stroke-width="0.7" />
<text x="0" y="0" font-size="6.50" text-anchor="end" fill="#1c1c1c" transform="translate(265.10 204.80) scale(0.87 1) rotate(-45)">Astro</text>
<line x1="278.60" y1="201.20" x2="278.60" y2="202.80" stroke="#222" stroke-width="0.7" />
<text x="0" y="0" font-size="6.50" text-anchor="end" fill="#1c1c1c" transform="translate(280.40 204.80) scale(0.87 1) rotate(-45)">Endo</text>
<line x1="295.00" y1="201.20" x2="295.00" y2="202.80" stroke="#222" stroke-width="0.7" />
<text x="0" y="0" font-size="6.50" text-anchor="end" fill="#1c1c1c" transform="translate(296.80 204.80) scale(0.87 1) rotate(-45)">Excit</text>
<line x1="310.40" y1="201.20" x2="310.40" y2="202.80" stroke="#222" stroke-width="0.7" />
<text x="0" y="0" font-size="6.50" text-anchor="end" fill="#1c1c1c" transform="translate(312.20 204.80) scale(0.87 1) rotate(-45)">Inhibit</text>
<line x1="326.40" y1="201.20" x2="326.40" y2="202.80" stroke="#222" stroke-width="0.7" />
<text x="0" y="0" font-size="6.50" text-anchor="end" fill="#1c1c1c" transform="translate(328.20 204.80) scale(0.87 1) rotate(-45)">Mic</text>
<line x1="342.60" y1="201.20" x2="342.60" y2="202.80" stroke="#222" stroke-width="0.7" />
<text x="0" y="0" font-size="6.50" text-anchor="end" fill="#1c1c1c" transform="translate(344.40 204.80) scale(0.87 1) rotate(-45)">Oligo</text>
<text x="0" y="0" font-size="6.03" text-anchor="middle" fill="#1c1c1c" transform="translate(245.70 161.20) rotate(-90) scale(1 0.87)">Expression Level</text>
<text transform="translate(304.05 224.00) scale(0.820 1)" font-size="7.02" text-anchor="middle" fill="#1c1c1c" >Cell Types</text>
<rect x="361" y="142.20" width="6.6" height="7.17" fill="#F47A6E" stroke="#2a2a2a" stroke-width="0.55"/>
<text transform="translate(371.00 147.60) scale(0.880 1)" font-size="6.90" text-anchor="start" fill="#1c1c1c" >Astro</text>
<rect x="361" y="149.37" width="6.6" height="7.17" fill="#BDA114" stroke="#2a2a2a" stroke-width="0.55"/>
<text transform="translate(371.00 154.77) scale(0.880 1)" font-size="6.90" text-anchor="start" fill="#1c1c1c" >Endo</text>
<rect x="361" y="156.54" width="6.6" height="7.17" fill="#20B445" stroke="#2a2a2a" stroke-width="0.55"/>
<text transform="translate(371.00 161.94) scale(0.880 1)" font-size="6.90" text-anchor="start" fill="#1c1c1c" >Excit</text>
<rect x="361" y="163.71" width="6.6" height="7.17" fill="#2FBFC3" stroke="#2a2a2a" stroke-width="0.55"/>
<text transform="translate(371.00 169.11) scale(0.880 1)" font-size="6.90" text-anchor="start" fill="#1c1c1c" >Inhibit</text>
<rect x="361" y="170.88" width="6.6" height="7.17" fill="#7494EA" stroke="#2a2a2a" stroke-width="0.55"/>
<text transform="translate(371.00 176.28) scale(0.880 1)" font-size="6.90" text-anchor="start" fill="#1c1c1c" >Mic</text>
<rect x="361" y="178.05" width="6.6" height="7.17" fill="#E86AD8" stroke="#2a2a2a" stroke-width="0.55"/>
<text transform="translate(371.00 183.45) scale(0.880 1)" font-size="6.90" text-anchor="start" fill="#1c1c1c" >Oligo</text>
<text transform="translate(119.80 238.60) scale(0.900 1)" font-size="7.02" text-anchor="middle" fill="#1c1c1c" >AD</text>
<line x1="93.00" y1="247.00" x2="93.00" y2="340.00" stroke="#1a1a1a" stroke-width="0.9" />
<line x1="93.00" y1="340.00" x2="141.00" y2="340.00" stroke="#1a1a1a" stroke-width="0.9" />
<line x1="91.40" y1="255.80" x2="93.00" y2="255.80" stroke="#222" stroke-width="0.7" />
<text transform="translate(90.60 258.00) scale(0.880 1)" font-size="7.02" text-anchor="end" fill="#1c1c1c" >Oligo</text>
<line x1="91.40" y1="270.80" x2="93.00" y2="270.80" stroke="#222" stroke-width="0.7" />
<text transform="translate(90.60 273.00) scale(0.880 1)" font-size="7.02" text-anchor="end" fill="#1c1c1c" >Mic</text>
<line x1="91.40" y1="285.80" x2="93.00" y2="285.80" stroke="#222" stroke-width="0.7" />
<text transform="translate(90.60 288.00) scale(0.880 1)" font-size="7.02" text-anchor="end" fill="#1c1c1c" >Inhibit</text>
<line x1="91.40" y1="300.90" x2="93.00" y2="300.90" stroke="#222" stroke-width="0.7" />
<text transform="translate(90.60 303.10) scale(0.880 1)" font-size="7.02" text-anchor="end" fill="#1c1c1c" >Excit</text>
<line x1="91.40" y1="316.00" x2="93.00" y2="316.00" stroke="#222" stroke-width="0.7" />
<text transform="translate(90.60 318.20) scale(0.880 1)" font-size="7.02" text-anchor="end" fill="#1c1c1c" >Endo</text>
<line x1="91.40" y1="331.10" x2="93.00" y2="331.10" stroke="#222" stroke-width="0.7" />
<text transform="translate(90.60 333.30) scale(0.880 1)" font-size="7.02" text-anchor="end" fill="#1c1c1c" >Astro</text>
<line x1="117.00" y1="340.00" x2="117.00" y2="341.60" stroke="#222" stroke-width="0.7" />
<circle cx="117" cy="255.80" r="0.3" fill="#efe9f2"/>
<circle cx="117" cy="270.80" r="0.55" fill="#e0d3ec"/>
<circle cx="117" cy="285.80" r="1.75" fill="#8a66c6"/>
<circle cx="117" cy="300.90" r="1.15" fill="#c3a3e2"/>
<circle cx="117" cy="316.00" r="2.1" fill="#4a2c9c"/>
<circle cx="117" cy="331.10" r="1.0" fill="#cdb4e6"/>
<text x="0" y="0" font-size="5.88" text-anchor="middle" fill="#1c1c1c" transform="translate(70.00 289.30) rotate(-90) scale(1 0.87)">Cell Types</text>
<text transform="translate(118.50 347.60) scale(0.900 1)" font-size="7.02" text-anchor="middle" font-style="italic" fill="#1c1c1c" >PTPRG</text>
<text transform="translate(153.00 258.00) scale(0.850 1)" font-size="7.02" text-anchor="start" fill="#1c1c1c" >Average</text>
<text transform="translate(153.00 265.20) scale(0.850 1)" font-size="7.02" text-anchor="start" fill="#1c1c1c" >Expression</text>
<rect x="153.6" y="267.3" width="2.8" height="23" fill="url(#dotgrad)"/>
<text transform="translate(158.30 273.10) scale(0.850 1)" font-size="6.79" text-anchor="start" fill="#1c1c1c" >1</text>
<text transform="translate(158.30 280.10) scale(0.850 1)" font-size="6.79" text-anchor="start" fill="#1c1c1c" >0</text>
<text transform="translate(158.30 288.90) scale(0.850 1)" font-size="6.79" text-anchor="start" fill="#1c1c1c" >−1</text>
<text transform="translate(153.00 303.20) scale(0.850 1)" font-size="7.02" text-anchor="start" fill="#1c1c1c" >Percent</text>
<text transform="translate(153.00 310.80) scale(0.850 1)" font-size="7.02" text-anchor="start" fill="#1c1c1c" >Expressed</text>
<circle cx="154.3" cy="315.40" r="0.45" fill="#111"/>
<text transform="translate(157.20 317.40) scale(0.850 1)" font-size="6.79" text-anchor="start" fill="#1c1c1c" >20</text>
<circle cx="154.3" cy="321.90" r="0.85" fill="#111"/>
<text transform="translate(157.20 323.90) scale(0.850 1)" font-size="6.79" text-anchor="start" fill="#1c1c1c" >40</text>
<circle cx="154.3" cy="328.40" r="1.25" fill="#111"/>
<text transform="translate(157.20 330.40) scale(0.850 1)" font-size="6.79" text-anchor="start" fill="#1c1c1c" >60</text>
<text transform="translate(302.50 240.60) scale(0.900 1)" font-size="7.02" text-anchor="middle" fill="#1c1c1c" >Normal</text>
<line x1="276.00" y1="250.00" x2="276.00" y2="342.50" stroke="#1a1a1a" stroke-width="0.9" />
<line x1="276.00" y1="342.50" x2="323.70" y2="342.50" stroke="#1a1a1a" stroke-width="0.9" />
<line x1="274.40" y1="258.70" x2="276.00" y2="258.70" stroke="#222" stroke-width="0.7" />
<text transform="translate(273.60 260.90) scale(0.880 1)" font-size="7.02" text-anchor="end" fill="#1c1c1c" >Oligo</text>
<line x1="274.40" y1="273.70" x2="276.00" y2="273.70" stroke="#222" stroke-width="0.7" />
<text transform="translate(273.60 275.90) scale(0.880 1)" font-size="7.02" text-anchor="end" fill="#1c1c1c" >Mic</text>
<line x1="274.40" y1="288.70" x2="276.00" y2="288.70" stroke="#222" stroke-width="0.7" />
<text transform="translate(273.60 290.90) scale(0.880 1)" font-size="7.02" text-anchor="end" fill="#1c1c1c" >Inhibit</text>
<line x1="274.40" y1="304.00" x2="276.00" y2="304.00" stroke="#222" stroke-width="0.7" />
<text transform="translate(273.60 306.20) scale(0.880 1)" font-size="7.02" text-anchor="end" fill="#1c1c1c" >Excit</text>
<line x1="274.40" y1="319.00" x2="276.00" y2="319.00" stroke="#222" stroke-width="0.7" />
<text transform="translate(273.60 321.20) scale(0.880 1)" font-size="7.02" text-anchor="end" fill="#1c1c1c" >Endo</text>
<line x1="274.40" y1="334.00" x2="276.00" y2="334.00" stroke="#222" stroke-width="0.7" />
<text transform="translate(273.60 336.20) scale(0.880 1)" font-size="7.02" text-anchor="end" fill="#1c1c1c" >Astro</text>
<line x1="300.00" y1="342.50" x2="300.00" y2="344.10" stroke="#222" stroke-width="0.7" />
<circle cx="300" cy="258.70" r="0.3" fill="#f3eff5"/>
<circle cx="300" cy="273.70" r="0.3" fill="#f1edf4"/>
<circle cx="300" cy="288.70" r="1.75" fill="#7b58c2"/>
<circle cx="300" cy="304.00" r="1.2" fill="#c3a3e2"/>
<circle cx="300" cy="319.00" r="1.65" fill="#3f2a9a"/>
<circle cx="300" cy="334.00" r="1.15" fill="#cdb4e6"/>
<text x="0" y="0" font-size="5.88" text-anchor="middle" fill="#1c1c1c" transform="translate(253.00 289.30) rotate(-90) scale(1 0.87)">Cell Types</text>
<text transform="translate(299.50 349.20) scale(0.900 1)" font-size="7.02" text-anchor="middle" font-style="italic" fill="#1c1c1c" >PTPRG</text>
<text transform="translate(343.00 258.80) scale(0.850 1)" font-size="7.02" text-anchor="start" fill="#1c1c1c" >Average</text>
<text transform="translate(343.00 266.00) scale(0.850 1)" font-size="7.02" text-anchor="start" fill="#1c1c1c" >Expression</text>
<rect x="343.6" y="268.1" width="2.8" height="28" fill="url(#dotgrad)"/>
<text transform="translate(348.30 273.10) scale(0.950 1)" font-size="5.97" text-anchor="start" fill="#1c1c1c" >1.5</text>
<text transform="translate(348.30 278.80) scale(0.950 1)" font-size="5.97" text-anchor="start" fill="#1c1c1c" >1.0</text>
<text transform="translate(348.30 284.20) scale(0.950 1)" font-size="5.97" text-anchor="start" fill="#1c1c1c" >0.5</text>
<text transform="translate(348.30 289.70) scale(0.950 1)" font-size="5.97" text-anchor="start" fill="#1c1c1c" >0.0</text>
<text transform="translate(348.30 295.90) scale(0.950 1)" font-size="5.97" text-anchor="start" fill="#1c1c1c" >−0.5</text>
<text transform="translate(341.80 308.00) scale(0.850 1)" font-size="7.02" text-anchor="start" fill="#1c1c1c" >Percent</text>
<text transform="translate(341.80 315.60) scale(0.850 1)" font-size="7.02" text-anchor="start" fill="#1c1c1c" >Expressed</text>
<circle cx="343.1" cy="320.20" r="0.45" fill="#111"/>
<text transform="translate(346.00 322.20) scale(0.850 1)" font-size="6.79" text-anchor="start" fill="#1c1c1c" >20</text>
<circle cx="343.1" cy="326.70" r="0.85" fill="#111"/>
<text transform="translate(346.00 328.70) scale(0.850 1)" font-size="6.79" text-anchor="start" fill="#1c1c1c" >40</text>
<circle cx="343.1" cy="333.20" r="1.25" fill="#111"/>
<text transform="translate(346.00 335.20) scale(0.850 1)" font-size="6.79" text-anchor="start" fill="#1c1c1c" >60</text>
<g stroke="#d6d6d6" stroke-width="0.75">
<line x1="40.4" y1="365.5" x2="40.4" y2="441.0"/>
<line x1="67.4" y1="365.5" x2="67.4" y2="441.0"/>
<line x1="111.2" y1="365.5" x2="111.2" y2="441.0"/>
<line x1="144.3" y1="365.5" x2="144.3" y2="441.0"/>
<line x1="197" y1="365.5" x2="197" y2="441.0"/>
<line x1="228" y1="365.5" x2="228" y2="441.0"/>
<line x1="40.4" y1="365.5" x2="228" y2="365.5"/>
<line x1="40.4" y1="392" x2="228" y2="392"/>
<line x1="40.4" y1="400.1666666666667" x2="228" y2="400.1666666666667"/>
<line x1="40.4" y1="408.3333333333333" x2="228" y2="408.3333333333333"/>
<line x1="40.4" y1="416.5" x2="228" y2="416.5"/>
<line x1="40.4" y1="424.6666666666667" x2="228" y2="424.6666666666667"/>
<line x1="40.4" y1="432.8333333333333" x2="228" y2="432.8333333333333"/>
<line x1="40.4" y1="441.0" x2="228" y2="441.0"/>
</g>
<text transform="translate(53.90 382.00) scale(0.850 1)" font-size="7.02" text-anchor="middle" fill="#1c1c1c" >Cell</text>
<text transform="translate(53.90 389.60) scale(0.850 1)" font-size="7.02" text-anchor="middle" fill="#1c1c1c" >Types</text>
<text transform="translate(89.30 374.40) scale(0.850 1)" font-size="7.02" text-anchor="middle" fill="#1c1c1c" >Average</text>
<text transform="translate(89.30 382.00) scale(0.850 1)" font-size="7.02" text-anchor="middle" fill="#1c1c1c" >Expression of</text>
<text transform="translate(89.30 389.60) scale(0.850 1)" font-size="7.02" text-anchor="middle" fill="#1c1c1c" ><tspan font-style="italic">PTPRG</tspan>&#160;&#160;in AD</text>
<text transform="translate(127.75 374.40) scale(0.850 1)" font-size="7.02" text-anchor="middle" fill="#1c1c1c" >Percent</text>
<text transform="translate(127.75 382.00) scale(0.850 1)" font-size="7.02" text-anchor="middle" fill="#1c1c1c" >Expressed</text>
<text transform="translate(127.75 389.60) scale(0.850 1)" font-size="7.02" text-anchor="middle" fill="#1c1c1c" >in AD</text>
<text transform="translate(170.65 374.40) scale(0.850 1)" font-size="7.02" text-anchor="middle" fill="#1c1c1c" >Average</text>
<text transform="translate(170.65 382.00) scale(0.850 1)" font-size="7.02" text-anchor="middle" fill="#1c1c1c" >Expression of</text>
<text transform="translate(170.65 389.60) scale(0.850 1)" font-size="7.02" text-anchor="middle" fill="#1c1c1c" ><tspan font-style="italic">PTPRG</tspan>&#160;&#160;in Normal</text>
<text transform="translate(212.50 374.40) scale(0.850 1)" font-size="7.02" text-anchor="middle" fill="#1c1c1c" >Percent</text>
<text transform="translate(212.50 382.00) scale(0.850 1)" font-size="7.02" text-anchor="middle" fill="#1c1c1c" >Expressed</text>
<text transform="translate(212.50 389.60) scale(0.850 1)" font-size="7.02" text-anchor="middle" fill="#1c1c1c" >in Normal</text>
<text transform="translate(53.90 398.18) scale(0.850 1)" font-size="7.02" text-anchor="middle" fill="#1c1c1c" >Astro</text>
<text transform="translate(89.30 398.18) scale(0.850 1)" font-size="7.02" text-anchor="middle" fill="#1c1c1c" >0.97</text>
<text transform="translate(127.75 398.18) scale(0.850 1)" font-size="7.02" text-anchor="middle" fill="#1c1c1c" >46.39</text>
<text transform="translate(170.65 398.18) scale(0.850 1)" font-size="7.02" text-anchor="middle" fill="#1c1c1c" >1.2</text>
<text transform="translate(212.50 398.18) scale(0.850 1)" font-size="7.02" text-anchor="middle" fill="#1c1c1c" >55.11</text>
<text transform="translate(53.90 406.35) scale(0.850 1)" font-size="7.02" text-anchor="middle" fill="#1c1c1c" >Endo</text>
<text transform="translate(89.30 406.35) scale(0.850 1)" font-size="7.02" text-anchor="middle" fill="#1c1c1c" >4.43</text>
<text transform="translate(127.75 406.35) scale(0.850 1)" font-size="7.02" text-anchor="middle" fill="#1c1c1c" >77.81</text>
<text transform="translate(170.65 406.35) scale(0.850 1)" font-size="7.02" text-anchor="middle" fill="#1c1c1c" >3.7</text>
<text transform="translate(212.50 406.35) scale(0.850 1)" font-size="7.02" text-anchor="middle" fill="#1c1c1c" >66.79</text>
<text transform="translate(53.90 414.52) scale(0.850 1)" font-size="7.02" text-anchor="middle" fill="#1c1c1c" >Excit</text>
<text transform="translate(89.30 414.52) scale(0.850 1)" font-size="7.02" text-anchor="middle" fill="#1c1c1c" >1.1</text>
<text transform="translate(127.75 414.52) scale(0.850 1)" font-size="7.02" text-anchor="middle" fill="#1c1c1c" >59.04</text>
<text transform="translate(170.65 414.52) scale(0.850 1)" font-size="7.02" text-anchor="middle" fill="#1c1c1c" >1.23</text>
<text transform="translate(212.50 414.52) scale(0.850 1)" font-size="7.02" text-anchor="middle" fill="#1c1c1c" >63.83</text>
<text transform="translate(53.90 422.68) scale(0.850 1)" font-size="7.02" text-anchor="middle" fill="#1c1c1c" >Inhibit</text>
<text transform="translate(89.30 422.68) scale(0.850 1)" font-size="7.02" text-anchor="middle" fill="#1c1c1c" >2.23</text>
<text transform="translate(127.75 422.68) scale(0.850 1)" font-size="7.02" text-anchor="middle" fill="#1c1c1c" >73.52</text>
<text transform="translate(170.65 422.68) scale(0.850 1)" font-size="7.02" text-anchor="middle" fill="#1c1c1c" >2.25</text>
<text transform="translate(212.50 422.68) scale(0.850 1)" font-size="7.02" text-anchor="middle" fill="#1c1c1c" >75.98</text>
<text transform="translate(53.90 430.85) scale(0.850 1)" font-size="7.02" text-anchor="middle" fill="#1c1c1c" >Mic</text>
<text transform="translate(89.30 430.85) scale(0.850 1)" font-size="7.02" text-anchor="middle" fill="#1c1c1c" >0.97</text>
<text transform="translate(127.75 430.85) scale(0.850 1)" font-size="7.02" text-anchor="middle" fill="#1c1c1c" >22.59</text>
<text transform="translate(170.65 430.85) scale(0.850 1)" font-size="7.02" text-anchor="middle" fill="#1c1c1c" >0.13</text>
<text transform="translate(212.50 430.85) scale(0.850 1)" font-size="7.02" text-anchor="middle" fill="#1c1c1c" >6.52</text>
<text transform="translate(53.90 439.02) scale(0.850 1)" font-size="7.02" text-anchor="middle" fill="#1c1c1c" >Oligo</text>
<text transform="translate(89.30 439.02) scale(0.850 1)" font-size="7.02" text-anchor="middle" fill="#1c1c1c" >0.06</text>
<text transform="translate(127.75 439.02) scale(0.850 1)" font-size="7.02" text-anchor="middle" fill="#1c1c1c" >3.45</text>
<text transform="translate(170.65 439.02) scale(0.850 1)" font-size="7.02" text-anchor="middle" fill="#1c1c1c" >0.06</text>
<text transform="translate(212.50 439.02) scale(0.850 1)" font-size="7.02" text-anchor="middle" fill="#1c1c1c" >3.98</text>
<g stroke="#d6d6d6" stroke-width="0.75">
<line x1="267.5" y1="371.4" x2="267.5" y2="436.3"/>
<line x1="291.4" y1="371.4" x2="291.4" y2="436.3"/>
<line x1="331" y1="371.4" x2="331" y2="436.3"/>
<line x1="368.4" y1="371.4" x2="368.4" y2="436.3"/>
<line x1="267.5" y1="371.4" x2="368.4" y2="371.4"/>
<line x1="267.5" y1="387.2" x2="368.4" y2="387.2"/>
<line x1="267.5" y1="395.3833333333333" x2="368.4" y2="395.3833333333333"/>
<line x1="267.5" y1="403.56666666666666" x2="368.4" y2="403.56666666666666"/>
<line x1="267.5" y1="411.75" x2="368.4" y2="411.75"/>
<line x1="267.5" y1="419.93333333333334" x2="368.4" y2="419.93333333333334"/>
<line x1="267.5" y1="428.1166666666667" x2="368.4" y2="428.1166666666667"/>
<line x1="267.5" y1="436.3" x2="368.4" y2="436.3"/>
</g>
<text transform="translate(279.45 377.30) scale(0.890 1)" font-size="7.02" text-anchor="middle" fill="#1c1c1c" >Cell</text>
<text transform="translate(279.45 385.50) scale(0.890 1)" font-size="7.02" text-anchor="middle" fill="#1c1c1c" >Types</text>
<text transform="translate(311.20 377.30) scale(0.890 1)" font-size="7.02" text-anchor="middle" fill="#1c1c1c" >NBGMM test</text>
<text transform="translate(311.20 385.50) scale(0.890 1)" font-size="7.02" text-anchor="middle" fill="#1c1c1c" >(P-value)</text>
<text transform="translate(349.70 377.30) scale(0.890 1)" font-size="7.02" text-anchor="middle" fill="#1c1c1c" >NBGMM test</text>
<text transform="translate(349.70 385.50) scale(0.890 1)" font-size="7.02" text-anchor="middle" fill="#1c1c1c" >(Avg log2FC)</text>
<text transform="translate(273.20 393.39) scale(0.890 1)" font-size="6.90" text-anchor="start" fill="#1c1c1c" >Astro</text>
<text transform="translate(299.30 393.39) scale(0.890 1)" font-size="6.90" text-anchor="start" fill="#1c1c1c" >0.18</text>
<text transform="translate(355.50 393.39) scale(0.890 1)" font-size="6.90" text-anchor="end" fill="#1c1c1c" >−0.23</text>
<text transform="translate(273.20 401.58) scale(0.890 1)" font-size="6.90" text-anchor="start" fill="#1c1c1c" >Endo</text>
<text transform="translate(299.30 401.58) scale(0.890 1)" font-size="6.90" text-anchor="start" fill="#1c1c1c" >0.03</text>
<text transform="translate(355.50 401.58) scale(0.890 1)" font-size="6.90" text-anchor="end" fill="#1c1c1c" >0.37</text>
<text transform="translate(273.20 409.76) scale(0.890 1)" font-size="6.90" text-anchor="start" fill="#1c1c1c" >Excit</text>
<text transform="translate(299.30 409.76) scale(0.890 1)" font-size="6.90" text-anchor="start" fill="#1c1c1c" >0.65</text>
<text transform="translate(355.50 409.76) scale(0.890 1)" font-size="6.90" text-anchor="end" fill="#1c1c1c" >−0.10</text>
<text transform="translate(273.20 417.94) scale(0.890 1)" font-size="6.90" text-anchor="start" fill="#1c1c1c" >Inhibit</text>
<text transform="translate(299.30 417.94) scale(0.890 1)" font-size="6.90" text-anchor="start" fill="#1c1c1c" >0.42</text>
<text transform="translate(355.50 417.94) scale(0.890 1)" font-size="6.90" text-anchor="end" fill="#1c1c1c" >−0.12</text>
<text transform="translate(273.20 426.12) scale(0.890 1)" font-size="6.90" text-anchor="start" fill="#1c1c1c" >Mic</text>
<text transform="translate(299.30 426.12) scale(0.890 1)" font-size="6.90" text-anchor="start" fill="#1c1c1c" >1.89E-4</text>
<text transform="translate(355.50 426.12) scale(0.890 1)" font-size="6.90" text-anchor="end" fill="#1c1c1c" >1.38</text>
<text transform="translate(273.20 434.31) scale(0.890 1)" font-size="6.90" text-anchor="start" fill="#1c1c1c" >Oligo</text>
<text transform="translate(299.30 434.31) scale(0.890 1)" font-size="6.90" text-anchor="start" fill="#1c1c1c" >0.09</text>
<text transform="translate(355.50 434.31) scale(0.890 1)" font-size="6.90" text-anchor="end" fill="#1c1c1c" >0.37</text>
<text x="0" y="0" font-size="5.88" text-anchor="middle" fill="#1c1c1c" transform="translate(7.40 503.20) rotate(-90) scale(1 0.87)">Average Expression</text>
<text transform="translate(44.80 472.80) scale(0.920 1)" font-size="7.02" text-anchor="middle" fill="#1c1c1c" >Astro</text>
<line x1="21.00" y1="478.00" x2="21.00" y2="537.50" stroke="#1a1a1a" stroke-width="0.9" />
<line x1="21.00" y1="537.50" x2="66.50" y2="537.50" stroke="#1a1a1a" stroke-width="0.9" />
<line x1="19.40" y1="480.60" x2="21.00" y2="480.60" stroke="#222" stroke-width="0.7" />
<text transform="translate(19.10 482.80) scale(0.855 1)" font-size="7.02" text-anchor="end" fill="#1c1c1c" >0.8</text>
<line x1="19.40" y1="492.90" x2="21.00" y2="492.90" stroke="#222" stroke-width="0.7" />
<text transform="translate(19.10 495.10) scale(0.855 1)" font-size="7.02" text-anchor="end" fill="#1c1c1c" >0.7</text>
<line x1="19.40" y1="505.20" x2="21.00" y2="505.20" stroke="#222" stroke-width="0.7" />
<text transform="translate(19.10 507.40) scale(0.855 1)" font-size="7.02" text-anchor="end" fill="#1c1c1c" >0.6</text>
<line x1="19.40" y1="517.60" x2="21.00" y2="517.60" stroke="#222" stroke-width="0.7" />
<text transform="translate(19.10 519.80) scale(0.855 1)" font-size="7.02" text-anchor="end" fill="#1c1c1c" >0.5</text>
<line x1="19.40" y1="530.00" x2="21.00" y2="530.00" stroke="#222" stroke-width="0.7" />
<text transform="translate(19.10 532.20) scale(0.855 1)" font-size="7.02" text-anchor="end" fill="#1c1c1c" >0.4</text>
<line x1="34.00" y1="481.00" x2="34.00" y2="496.00" stroke="#2ab3b8" stroke-width="0.85" />
<line x1="34.00" y1="515.60" x2="34.00" y2="534.50" stroke="#2ab3b8" stroke-width="0.85" />
<rect x="26" y="496" width="16.4" height="19.600000000000023" fill="white" stroke="#2ab3b8" stroke-width="0.85"/>
<line x1="26.00" y1="505.40" x2="42.40" y2="505.40" stroke="#2ab3b8" stroke-width="1.3" />
<circle cx="34.79" cy="481.5" r="0.8" fill="#111"/>
<circle cx="33.73" cy="493" r="0.8" fill="#111"/>
<circle cx="33.69" cy="494.5" r="0.8" fill="#111"/>
<circle cx="31.62" cy="506" r="0.8" fill="#111"/>
<circle cx="34.59" cy="516" r="0.8" fill="#111"/>
<circle cx="33.95" cy="519" r="0.8" fill="#111"/>
<circle cx="32.68" cy="533" r="0.8" fill="#111"/>
<line x1="34.00" y1="537.50" x2="34.00" y2="539.10" stroke="#222" stroke-width="0.7" />
<line x1="56.00" y1="508.00" x2="56.00" y2="515.00" stroke="#ee5a3e" stroke-width="0.85" />
<line x1="56.00" y1="523.00" x2="56.00" y2="530.00" stroke="#ee5a3e" stroke-width="0.85" />
<rect x="48" y="515" width="15.600000000000001" height="8" fill="white" stroke="#ee5a3e" stroke-width="0.85"/>
<line x1="48.00" y1="519.40" x2="63.60" y2="519.40" stroke="#ee5a3e" stroke-width="1.3" />
<circle cx="57.32" cy="502" r="0.8" fill="#111"/>
<circle cx="57.4" cy="508" r="0.8" fill="#111"/>
<circle cx="55.79" cy="514.5" r="0.8" fill="#111"/>
<circle cx="54.4" cy="516" r="0.8" fill="#111"/>
<circle cx="55.87" cy="518" r="0.8" fill="#111"/>
<circle cx="54.04" cy="520" r="0.8" fill="#111"/>
<circle cx="54.14" cy="521" r="0.8" fill="#111"/>
<circle cx="55.65" cy="523" r="0.8" fill="#111"/>
<circle cx="53.96" cy="525" r="0.8" fill="#111"/>
<circle cx="55.71" cy="528" r="0.8" fill="#111"/>
<line x1="56.00" y1="537.50" x2="56.00" y2="539.10" stroke="#222" stroke-width="0.7" />
<text transform="translate(36.30 546.10) scale(0.855 1)" font-size="7.02" text-anchor="middle" fill="#1c1c1c" >Normal</text>
<text transform="translate(56.30 546.10) scale(0.855 1)" font-size="7.02" text-anchor="middle" fill="#1c1c1c" >AD</text>
<text transform="translate(110.00 472.80) scale(0.920 1)" font-size="7.02" text-anchor="middle" fill="#1c1c1c" >Endo</text>
<line x1="82.50" y1="478.60" x2="82.50" y2="538.40" stroke="#1a1a1a" stroke-width="0.9" />
<line x1="82.50" y1="538.40" x2="131.30" y2="538.40" stroke="#1a1a1a" stroke-width="0.9" />
<line x1="80.90" y1="483.00" x2="82.50" y2="483.00" stroke="#222" stroke-width="0.7" />
<text transform="translate(80.60 485.20) scale(0.855 1)" font-size="7.02" text-anchor="end" fill="#1c1c1c" >1.8</text>
<line x1="80.90" y1="494.30" x2="82.50" y2="494.30" stroke="#222" stroke-width="0.7" />
<text transform="translate(80.60 496.50) scale(0.855 1)" font-size="7.02" text-anchor="end" fill="#1c1c1c" >1.6</text>
<line x1="80.90" y1="505.60" x2="82.50" y2="505.60" stroke="#222" stroke-width="0.7" />
<text transform="translate(80.60 507.80) scale(0.855 1)" font-size="7.02" text-anchor="end" fill="#1c1c1c" >1.4</text>
<line x1="80.90" y1="517.00" x2="82.50" y2="517.00" stroke="#222" stroke-width="0.7" />
<text transform="translate(80.60 519.20) scale(0.855 1)" font-size="7.02" text-anchor="end" fill="#1c1c1c" >1.2</text>
<line x1="80.90" y1="528.30" x2="82.50" y2="528.30" stroke="#222" stroke-width="0.7" />
<text transform="translate(80.60 530.50) scale(0.855 1)" font-size="7.02" text-anchor="end" fill="#1c1c1c" >1.0</text>
<line x1="96.00" y1="511.00" x2="96.00" y2="520.00" stroke="#2ab3b8" stroke-width="0.85" />
<line x1="96.00" y1="531.00" x2="96.00" y2="536.00" stroke="#2ab3b8" stroke-width="0.85" />
<rect x="88.6" y="520" width="15.100000000000009" height="11" fill="white" stroke="#2ab3b8" stroke-width="0.85"/>
<line x1="88.60" y1="521.00" x2="103.70" y2="521.00" stroke="#2ab3b8" stroke-width="1.3" />
<circle cx="96.05" cy="486.5" r="0.8" fill="#111"/>
<circle cx="93.7" cy="512" r="0.8" fill="#111"/>
<circle cx="96.68" cy="520" r="0.8" fill="#111"/>
<circle cx="93.91" cy="520.5" r="0.8" fill="#111"/>
<circle cx="97.17" cy="525" r="0.8" fill="#111"/>
<circle cx="97.39" cy="532" r="0.8" fill="#111"/>
<circle cx="96.06" cy="535" r="0.8" fill="#111"/>
<circle cx="93.77" cy="536" r="0.8" fill="#111"/>
<line x1="96.00" y1="538.40" x2="96.00" y2="540.00" stroke="#222" stroke-width="0.7" />
<line x1="118.40" y1="480.80" x2="118.40" y2="502.00" stroke="#ee5a3e" stroke-width="0.85" />
<line x1="118.40" y1="521.30" x2="118.40" y2="526.00" stroke="#ee5a3e" stroke-width="0.85" />
<rect x="110.4" y="502" width="16.0" height="19.299999999999955" fill="white" stroke="#ee5a3e" stroke-width="0.85"/>
<line x1="110.40" y1="508.80" x2="126.40" y2="508.80" stroke="#ee5a3e" stroke-width="1.3" />
<circle cx="118.42" cy="481" r="0.8" fill="#111"/>
<circle cx="117.79" cy="492" r="0.8" fill="#111"/>
<circle cx="120.65" cy="500" r="0.8" fill="#111"/>
<circle cx="116.58" cy="503" r="0.8" fill="#111"/>
<circle cx="120.19" cy="505" r="0.8" fill="#111"/>
<circle cx="120.88" cy="512" r="0.8" fill="#111"/>
<circle cx="119.56" cy="519" r="0.8" fill="#111"/>
<circle cx="119.97" cy="521" r="0.8" fill="#111"/>
<circle cx="116.87" cy="522" r="0.8" fill="#111"/>
<circle cx="120.81" cy="525" r="0.8" fill="#111"/>
<line x1="118.40" y1="538.40" x2="118.40" y2="540.00" stroke="#222" stroke-width="0.7" />
<text transform="translate(98.30 546.10) scale(0.855 1)" font-size="7.02" text-anchor="middle" fill="#1c1c1c" >Normal</text>
<text transform="translate(118.70 546.10) scale(0.855 1)" font-size="7.02" text-anchor="middle" fill="#1c1c1c" >AD</text>
<text transform="translate(173.00 472.80) scale(0.920 1)" font-size="7.02" text-anchor="middle" fill="#1c1c1c" >Excit</text>
<line x1="145.70" y1="477.70" x2="145.70" y2="538.40" stroke="#1a1a1a" stroke-width="0.9" />
<line x1="145.70" y1="538.40" x2="195.40" y2="538.40" stroke="#1a1a1a" stroke-width="0.9" />
<line x1="144.10" y1="480.80" x2="145.70" y2="480.80" stroke="#222" stroke-width="0.7" />
<text transform="translate(143.80 483.00) scale(0.855 1)" font-size="7.02" text-anchor="end" fill="#1c1c1c" >0.7</text>
<line x1="144.10" y1="497.20" x2="145.70" y2="497.20" stroke="#222" stroke-width="0.7" />
<text transform="translate(143.80 499.40) scale(0.855 1)" font-size="7.02" text-anchor="end" fill="#1c1c1c" >0.6</text>
<line x1="144.10" y1="513.50" x2="145.70" y2="513.50" stroke="#222" stroke-width="0.7" />
<text transform="translate(143.80 515.70) scale(0.855 1)" font-size="7.02" text-anchor="end" fill="#1c1c1c" >0.5</text>
<line x1="144.10" y1="530.90" x2="145.70" y2="530.90" stroke="#222" stroke-width="0.7" />
<text transform="translate(143.80 533.10) scale(0.855 1)" font-size="7.02" text-anchor="end" fill="#1c1c1c" >0.4</text>
<line x1="159.20" y1="480.00" x2="159.20" y2="484.30" stroke="#2ab3b8" stroke-width="0.85" />
<line x1="159.20" y1="496.50" x2="159.20" y2="511.70" stroke="#2ab3b8" stroke-width="0.85" />
<rect x="151" y="484.3" width="16.5" height="12.199999999999989" fill="white" stroke="#2ab3b8" stroke-width="0.85"/>
<line x1="151.00" y1="487.60" x2="167.50" y2="487.60" stroke="#2ab3b8" stroke-width="1.3" />
<circle cx="159.16" cy="480.5" r="0.8" fill="#111"/>
<circle cx="161.48" cy="482" r="0.8" fill="#111"/>
<circle cx="161.28" cy="487" r="0.8" fill="#111"/>
<circle cx="157.53" cy="488" r="0.8" fill="#111"/>
<circle cx="160.64" cy="496.5" r="0.8" fill="#111"/>
<circle cx="161.35" cy="505" r="0.8" fill="#111"/>
<circle cx="157.03" cy="511" r="0.8" fill="#111"/>
<line x1="159.20" y1="538.40" x2="159.20" y2="540.00" stroke="#222" stroke-width="0.7" />
<line x1="181.90" y1="480.80" x2="181.90" y2="489.60" stroke="#ee5a3e" stroke-width="0.85" />
<line x1="181.90" y1="505.60" x2="181.90" y2="520.40" stroke="#ee5a3e" stroke-width="0.85" />
<rect x="173.6" y="489.6" width="16.599999999999994" height="16.0" fill="white" stroke="#ee5a3e" stroke-width="0.85"/>
<line x1="173.60" y1="497.20" x2="190.20" y2="497.20" stroke="#ee5a3e" stroke-width="1.3" />
<circle cx="181.15" cy="481" r="0.8" fill="#111"/>
<circle cx="183.18" cy="482" r="0.8" fill="#111"/>
<circle cx="180.19" cy="492" r="0.8" fill="#111"/>
<circle cx="183.88" cy="492.5" r="0.8" fill="#111"/>
<circle cx="180.77" cy="497" r="0.8" fill="#111"/>
<circle cx="183.48" cy="498" r="0.8" fill="#111"/>
<circle cx="180.12" cy="500" r="0.8" fill="#111"/>
<circle cx="181.91" cy="505" r="0.8" fill="#111"/>
<circle cx="184.0" cy="506" r="0.8" fill="#111"/>
<circle cx="180.44" cy="520.5" r="0.8" fill="#111"/>
<circle cx="180.71" cy="535.6" r="0.8" fill="#111"/>
<line x1="181.90" y1="538.40" x2="181.90" y2="540.00" stroke="#222" stroke-width="0.7" />
<text transform="translate(161.50 546.10) scale(0.855 1)" font-size="7.02" text-anchor="middle" fill="#1c1c1c" >Normal</text>
<text transform="translate(182.20 546.10) scale(0.855 1)" font-size="7.02" text-anchor="middle" fill="#1c1c1c" >AD</text>
<text transform="translate(238.20 472.80) scale(0.920 1)" font-size="7.02" text-anchor="middle" fill="#1c1c1c" >Inhibit</text>
<line x1="210.70" y1="478.60" x2="210.70" y2="538.40" stroke="#1a1a1a" stroke-width="0.9" />
<line x1="210.70" y1="538.40" x2="260.00" y2="538.40" stroke="#1a1a1a" stroke-width="0.9" />
<line x1="209.10" y1="489.00" x2="210.70" y2="489.00" stroke="#222" stroke-width="0.7" />
<text transform="translate(208.80 491.20) scale(0.855 1)" font-size="7.02" text-anchor="end" fill="#1c1c1c" >1.1</text>
<line x1="209.10" y1="505.30" x2="210.70" y2="505.30" stroke="#222" stroke-width="0.7" />
<text transform="translate(208.80 507.50) scale(0.855 1)" font-size="7.02" text-anchor="end" fill="#1c1c1c" >1.0</text>
<line x1="209.10" y1="521.00" x2="210.70" y2="521.00" stroke="#222" stroke-width="0.7" />
<text transform="translate(208.80 523.20) scale(0.855 1)" font-size="7.02" text-anchor="end" fill="#1c1c1c" >0.9</text>
<line x1="209.10" y1="536.00" x2="210.70" y2="536.00" stroke="#222" stroke-width="0.7" />
<text transform="translate(208.80 538.20) scale(0.855 1)" font-size="7.02" text-anchor="end" fill="#1c1c1c" >0.8</text>
<line x1="224.20" y1="500.00" x2="224.20" y2="505.60" stroke="#2ab3b8" stroke-width="0.85" />
<line x1="224.20" y1="521.30" x2="224.20" y2="531.00" stroke="#2ab3b8" stroke-width="0.85" />
<rect x="216" y="505.6" width="16.5" height="15.699999999999932" fill="white" stroke="#2ab3b8" stroke-width="0.85"/>
<line x1="216.00" y1="506.80" x2="232.50" y2="506.80" stroke="#2ab3b8" stroke-width="1.3" />
<circle cx="224.23" cy="480.5" r="0.8" fill="#111"/>
<circle cx="223.3" cy="500" r="0.8" fill="#111"/>
<circle cx="221.88" cy="506" r="0.8" fill="#111"/>
<circle cx="222.61" cy="507" r="0.8" fill="#111"/>
<circle cx="222.51" cy="517" r="0.8" fill="#111"/>
<circle cx="226.38" cy="521" r="0.8" fill="#111"/>
<circle cx="225.1" cy="529" r="0.8" fill="#111"/>
<circle cx="226.18" cy="532" r="0.8" fill="#111"/>
<line x1="224.20" y1="538.40" x2="224.20" y2="540.00" stroke="#222" stroke-width="0.7" />
<line x1="246.50" y1="496.90" x2="246.50" y2="506.00" stroke="#ee5a3e" stroke-width="0.85" />
<line x1="246.50" y1="518.70" x2="246.50" y2="536.00" stroke="#ee5a3e" stroke-width="0.85" />
<rect x="238.3" y="506" width="16.399999999999977" height="12.700000000000045" fill="white" stroke="#ee5a3e" stroke-width="0.85"/>
<line x1="238.30" y1="514.30" x2="254.70" y2="514.30" stroke="#ee5a3e" stroke-width="1.3" />
<circle cx="244.84" cy="484" r="0.8" fill="#111"/>
<circle cx="247.92" cy="497" r="0.8" fill="#111"/>
<circle cx="244.58" cy="502" r="0.8" fill="#111"/>
<circle cx="246.65" cy="507" r="0.8" fill="#111"/>
<circle cx="247.18" cy="513" r="0.8" fill="#111"/>
<circle cx="245.8" cy="514" r="0.8" fill="#111"/>
<circle cx="248.36" cy="516" r="0.8" fill="#111"/>
<circle cx="246.78" cy="523" r="0.8" fill="#111"/>
<circle cx="246.9" cy="526" r="0.8" fill="#111"/>
<circle cx="248.41" cy="535.5" r="0.8" fill="#111"/>
<line x1="246.50" y1="538.40" x2="246.50" y2="540.00" stroke="#222" stroke-width="0.7" />
<text transform="translate(226.50 546.10) scale(0.855 1)" font-size="7.02" text-anchor="middle" fill="#1c1c1c" >Normal</text>
<text transform="translate(246.80 546.10) scale(0.855 1)" font-size="7.02" text-anchor="middle" fill="#1c1c1c" >AD</text>
<text transform="translate(305.80 472.80) scale(0.920 1)" font-size="7.02" text-anchor="middle" fill="#1c1c1c" >Mic</text>
<line x1="278.00" y1="476.80" x2="278.00" y2="539.00" stroke="#1a1a1a" stroke-width="0.9" />
<line x1="278.00" y1="539.00" x2="330.50" y2="539.00" stroke="#1a1a1a" stroke-width="0.9" />
<line x1="276.40" y1="478.60" x2="278.00" y2="478.60" stroke="#222" stroke-width="0.7" />
<text transform="translate(276.10 480.80) scale(0.855 1)" font-size="7.02" text-anchor="end" fill="#1c1c1c" >0.8</text>
<line x1="276.40" y1="493.20" x2="278.00" y2="493.20" stroke="#222" stroke-width="0.7" />
<text transform="translate(276.10 495.40) scale(0.855 1)" font-size="7.02" text-anchor="end" fill="#1c1c1c" >0.6</text>
<line x1="276.40" y1="507.80" x2="278.00" y2="507.80" stroke="#222" stroke-width="0.7" />
<text transform="translate(276.10 510.00) scale(0.855 1)" font-size="7.02" text-anchor="end" fill="#1c1c1c" >0.4</text>
<line x1="276.40" y1="522.60" x2="278.00" y2="522.60" stroke="#222" stroke-width="0.7" />
<text transform="translate(276.10 524.80) scale(0.855 1)" font-size="7.02" text-anchor="end" fill="#1c1c1c" >0.2</text>
<line x1="276.40" y1="537.60" x2="278.00" y2="537.60" stroke="#222" stroke-width="0.7" />
<text transform="translate(276.10 539.80) scale(0.855 1)" font-size="7.02" text-anchor="end" fill="#1c1c1c" >0.0</text>
<line x1="293.80" y1="526.60" x2="293.80" y2="530.40" stroke="#2ab3b8" stroke-width="0.85" />
<line x1="293.80" y1="535.60" x2="293.80" y2="535.60" stroke="#2ab3b8" stroke-width="0.85" />
<rect x="286.5" y="530.4" width="14.5" height="5.2000000000000455" fill="white" stroke="#2ab3b8" stroke-width="0.85"/>
<line x1="286.50" y1="532.00" x2="301.00" y2="532.00" stroke="#2ab3b8" stroke-width="1.3" />
<circle cx="291.82" cy="527" r="0.8" fill="#111"/>
<circle cx="296.26" cy="529" r="0.8" fill="#111"/>
<circle cx="294.45" cy="531" r="0.8" fill="#111"/>
<circle cx="293.27" cy="532" r="0.8" fill="#111"/>
<circle cx="295.29" cy="534" r="0.8" fill="#111"/>
<circle cx="292.62" cy="535" r="0.8" fill="#111"/>
<line x1="293.80" y1="539.00" x2="293.80" y2="540.60" stroke="#222" stroke-width="0.7" />
<line x1="316.00" y1="478.60" x2="316.00" y2="505.30" stroke="#ee5a3e" stroke-width="0.85" />
<line x1="316.00" y1="527.40" x2="316.00" y2="533.50" stroke="#ee5a3e" stroke-width="0.85" />
<rect x="307" y="505.3" width="18" height="22.099999999999966" fill="white" stroke="#ee5a3e" stroke-width="0.85"/>
<line x1="307.00" y1="519.20" x2="325.00" y2="519.20" stroke="#ee5a3e" stroke-width="1.3" />
<circle cx="318.45" cy="478.6" r="0.8" fill="#111"/>
<circle cx="316.39" cy="493" r="0.8" fill="#111"/>
<circle cx="315.3" cy="505" r="0.8" fill="#111"/>
<circle cx="317.32" cy="505.5" r="0.8" fill="#111"/>
<circle cx="315.71" cy="518.5" r="0.8" fill="#111"/>
<circle cx="314.38" cy="519" r="0.8" fill="#111"/>
<circle cx="317.22" cy="521" r="0.8" fill="#111"/>
<circle cx="313.74" cy="530" r="0.8" fill="#111"/>
<circle cx="317.6" cy="531" r="0.8" fill="#111"/>
<circle cx="314.77" cy="533.5" r="0.8" fill="#111"/>
<line x1="316.00" y1="539.00" x2="316.00" y2="540.60" stroke="#222" stroke-width="0.7" />
<text transform="translate(296.10 546.10) scale(0.855 1)" font-size="7.02" text-anchor="middle" fill="#1c1c1c" >Normal</text>
<text transform="translate(316.30 546.10) scale(0.855 1)" font-size="7.02" text-anchor="middle" fill="#1c1c1c" >AD</text>
<text transform="translate(374.20 472.80) scale(0.920 1)" font-size="7.02" text-anchor="middle" fill="#1c1c1c" >Oligo</text>
<line x1="345.50" y1="475.80" x2="345.50" y2="538.40" stroke="#1a1a1a" stroke-width="0.9" />
<line x1="345.50" y1="538.40" x2="398.00" y2="538.40" stroke="#1a1a1a" stroke-width="0.9" />
<line x1="343.90" y1="491.00" x2="345.50" y2="491.00" stroke="#222" stroke-width="0.7" />
<text transform="translate(343.60 493.20) scale(0.855 1)" font-size="7.02" text-anchor="end" fill="#1c1c1c" >0.10</text>
<line x1="343.90" y1="512.80" x2="345.50" y2="512.80" stroke="#222" stroke-width="0.7" />
<text transform="translate(343.60 515.00) scale(0.855 1)" font-size="7.02" text-anchor="end" fill="#1c1c1c" >0.05</text>
<line x1="343.90" y1="534.60" x2="345.50" y2="534.60" stroke="#222" stroke-width="0.7" />
<text transform="translate(343.60 536.80) scale(0.855 1)" font-size="7.02" text-anchor="end" fill="#1c1c1c" >0.00</text>
<line x1="359.90" y1="514.00" x2="359.90" y2="518.50" stroke="#2ab3b8" stroke-width="0.85" />
<line x1="359.90" y1="525.50" x2="359.90" y2="528.00" stroke="#2ab3b8" stroke-width="0.85" />
<rect x="351.2" y="518.5" width="17.400000000000034" height="7.0" fill="white" stroke="#2ab3b8" stroke-width="0.85"/>
<line x1="351.20" y1="520.40" x2="368.60" y2="520.40" stroke="#2ab3b8" stroke-width="1.3" />
<circle cx="360.6" cy="478.5" r="0.8" fill="#111"/>
<circle cx="362.32" cy="514" r="0.8" fill="#111"/>
<circle cx="360.33" cy="520" r="0.8" fill="#111"/>
<circle cx="360.72" cy="521" r="0.8" fill="#111"/>
<circle cx="358.96" cy="525" r="0.8" fill="#111"/>
<circle cx="357.41" cy="528" r="0.8" fill="#111"/>
<circle cx="357.57" cy="528.5" r="0.8" fill="#111"/>
<line x1="359.90" y1="538.40" x2="359.90" y2="540.00" stroke="#222" stroke-width="0.7" />
<line x1="383.10" y1="516.00" x2="383.10" y2="518.70" stroke="#ee5a3e" stroke-width="0.85" />
<line x1="383.10" y1="523.60" x2="383.10" y2="526.60" stroke="#ee5a3e" stroke-width="0.85" />
<rect x="373.9" y="518.7" width="18.400000000000034" height="4.899999999999977" fill="white" stroke="#ee5a3e" stroke-width="0.85"/>
<line x1="373.90" y1="521.30" x2="392.30" y2="521.30" stroke="#ee5a3e" stroke-width="1.3" />
<circle cx="381.35" cy="491" r="0.8" fill="#111"/>
<circle cx="383.68" cy="497" r="0.8" fill="#111"/>
<circle cx="382.76" cy="516" r="0.8" fill="#111"/>
<circle cx="383.16" cy="517" r="0.8" fill="#111"/>
<circle cx="385.08" cy="519" r="0.8" fill="#111"/>
<circle cx="381.26" cy="521" r="0.8" fill="#111"/>
<circle cx="381.74" cy="522" r="0.8" fill="#111"/>
<circle cx="383.87" cy="524" r="0.8" fill="#111"/>
<circle cx="380.71" cy="526.6" r="0.8" fill="#111"/>
<circle cx="380.61" cy="535" r="0.8" fill="#111"/>
<line x1="383.10" y1="538.40" x2="383.10" y2="540.00" stroke="#222" stroke-width="0.7" />
<text transform="translate(362.20 546.10) scale(0.855 1)" font-size="7.02" text-anchor="middle" fill="#1c1c1c" >Normal</text>
<text transform="translate(383.40 546.10) scale(0.855 1)" font-size="7.02" text-anchor="middle" fill="#1c1c1c" >AD</text>
</svg>
</body></html>
